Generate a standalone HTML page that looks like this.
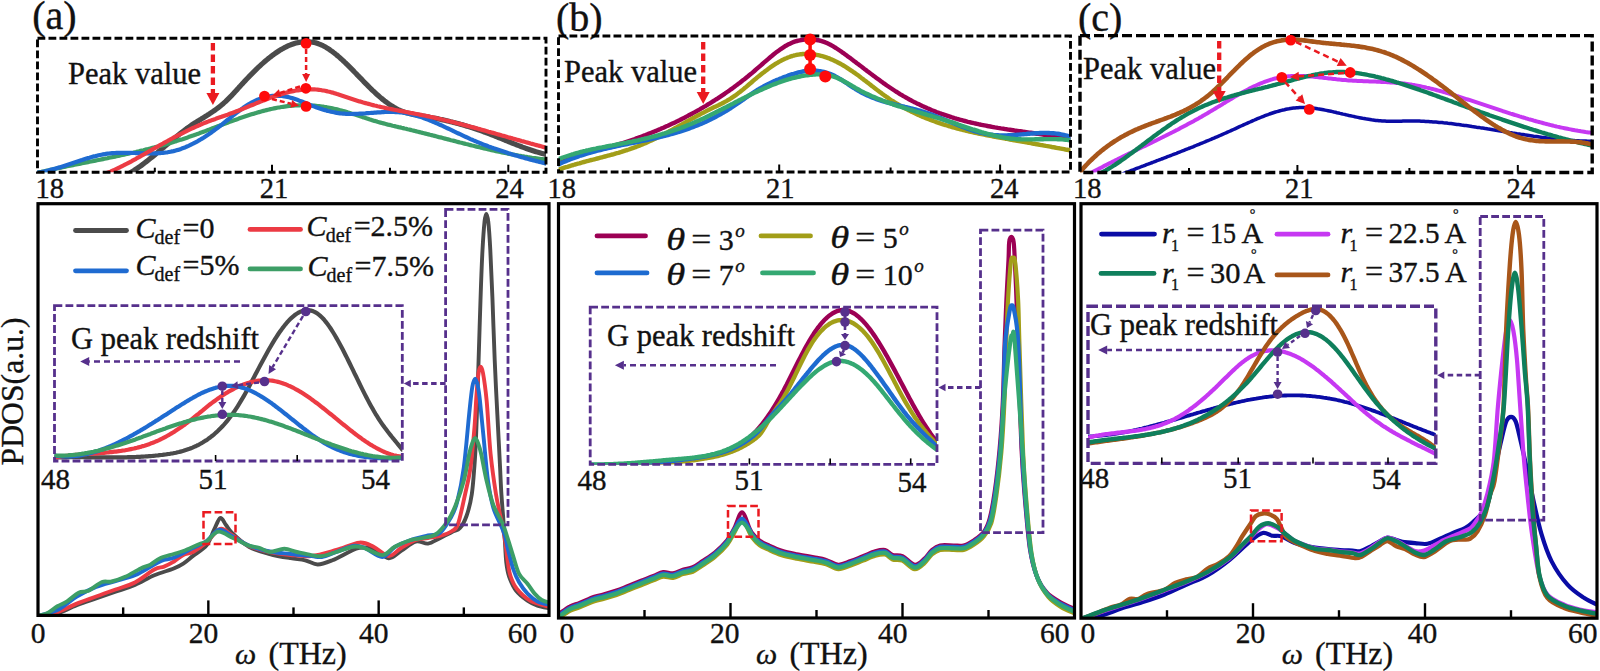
<!DOCTYPE html>
<html><head><meta charset="utf-8"><title>PDOS figure</title>
<style>
html,body{margin:0;padding:0;background:#fff;}
body{width:1600px;height:671px;overflow:hidden;}
svg{display:block;}
text{font-family:"Liberation Serif","Times New Roman",serif;fill:#111;stroke:#111;stroke-width:0.35px;}
</style></head><body>
<svg width="1600" height="671" viewBox="0 0 1600 671">
<rect width="1600" height="671" fill="#fff"/>
<defs>
<clipPath id="ta"><rect x="37" y="38.5" width="509" height="133.7"/></clipPath>
<clipPath id="tb"><rect x="558.5" y="36" width="512.0" height="136"/></clipPath>
<clipPath id="tc"><rect x="1080" y="35.6" width="512.2" height="136.9"/></clipPath>
<clipPath id="ia"><rect x="54.5" y="305.7" width="347.8" height="155.3"/></clipPath>
<clipPath id="ib"><rect x="590.2" y="307.1" width="346.79999999999995" height="157.29999999999995"/></clipPath>
<clipPath id="ic"><rect x="1088" y="306.3" width="347.79999999999995" height="157.09999999999997"/></clipPath>
<clipPath id="ma"><rect x="38" y="203.7" width="511" height="411.7"/></clipPath>
<clipPath id="mb"><rect x="558.5" y="203.7" width="516.0" height="414.3"/></clipPath>
<clipPath id="mc"><rect x="1081" y="203.7" width="516" height="414.50000000000006"/></clipPath>
</defs>
<text x="32.3" y="29" font-size="40" text-anchor="start">(a)</text>
<text x="556" y="31" font-size="40" text-anchor="start">(b)</text>
<text x="1078" y="31" font-size="40" text-anchor="start">(c)</text>
<path d="M125.0,175.7 L126.5,174.9 L128.0,174.1 L129.5,173.2 L131.0,172.3 L132.5,171.4 L134.0,170.5 L135.5,169.5 L137.0,168.5 L138.5,167.4 L140.0,166.4 L141.5,165.3 L143.0,164.2 L144.5,163.0 L146.0,161.9 L147.5,160.7 L149.0,159.5 L150.5,158.3 L152.0,157.1 L153.5,155.9 L155.0,154.7 L156.5,153.4 L158.0,152.1 L159.5,150.9 L161.0,149.6 L162.5,148.3 L164.0,147.1 L165.5,145.8 L167.0,144.5 L168.5,143.2 L170.0,142.0 L171.5,140.7 L173.0,139.4 L174.5,138.2 L176.0,137.0 L177.5,135.7 L179.0,134.5 L180.5,133.3 L182.0,132.2 L183.5,131.0 L185.0,129.9 L186.5,128.7 L188.0,127.6 L189.5,126.6 L191.0,125.5 L192.5,124.5 L194.0,123.5 L195.5,122.6 L197.0,121.6 L198.5,120.7 L200.0,119.8 L201.5,118.8 L203.0,117.9 L204.5,117.0 L206.0,116.1 L207.5,115.1 L209.0,114.2 L210.5,113.2 L212.0,112.2 L213.5,111.2 L215.0,110.1 L216.5,109.0 L218.0,107.9 L219.5,106.7 L221.0,105.5 L222.5,104.3 L224.0,102.9 L225.5,101.6 L227.0,100.1 L228.5,98.6 L230.0,97.1 L231.5,95.6 L233.0,94.0 L234.5,92.4 L236.0,90.7 L237.5,89.1 L239.0,87.4 L240.5,85.8 L242.0,84.1 L243.5,82.5 L245.0,80.9 L246.5,79.3 L248.0,77.7 L249.5,76.1 L251.0,74.6 L252.5,73.1 L254.0,71.6 L255.5,70.1 L257.0,68.6 L258.5,67.2 L260.0,65.8 L261.5,64.4 L263.0,63.1 L264.5,61.8 L266.0,60.5 L267.5,59.3 L269.0,58.0 L270.5,56.9 L272.0,55.7 L273.5,54.6 L275.0,53.5 L276.5,52.5 L278.0,51.5 L279.5,50.5 L281.0,49.6 L282.5,48.8 L284.0,47.9 L285.5,47.2 L287.0,46.4 L288.5,45.7 L290.0,45.1 L291.5,44.5 L293.0,44.0 L294.5,43.5 L296.0,43.1 L297.5,42.7 L299.0,42.4 L300.5,42.1 L302.0,41.9 L303.5,41.8 L305.0,41.7 L306.5,41.7 L308.0,41.7 L309.5,41.8 L311.0,42.0 L312.5,42.2 L314.0,42.5 L315.5,42.8 L317.0,43.3 L318.5,43.8 L320.0,44.4 L321.5,45.0 L323.0,45.7 L324.5,46.5 L326.0,47.3 L327.5,48.3 L329.0,49.2 L330.5,50.3 L332.0,51.3 L333.5,52.5 L335.0,53.6 L336.5,54.9 L338.0,56.1 L339.5,57.4 L341.0,58.8 L342.5,60.1 L344.0,61.5 L345.5,63.0 L347.0,64.4 L348.5,65.9 L350.0,67.4 L351.5,68.9 L353.0,70.4 L354.5,72.0 L356.0,73.5 L357.5,75.1 L359.0,76.6 L360.5,78.2 L362.0,79.7 L363.5,81.3 L365.0,82.8 L366.5,84.3 L368.0,85.9 L369.5,87.4 L371.0,88.8 L372.5,90.3 L374.0,91.7 L375.5,93.1 L377.0,94.5 L378.5,95.8 L380.0,97.1 L381.5,98.4 L383.0,99.6 L384.5,100.8 L386.0,101.9 L387.5,103.0 L389.0,104.1 L390.5,105.1 L392.0,106.1 L393.5,107.0 L395.0,107.9 L396.5,108.7 L398.0,109.5 L399.5,110.2 L401.0,110.8 L402.5,111.4 L404.0,112.0 L405.5,112.5 L407.0,112.9 L408.5,113.3 L410.0,113.7 L411.5,114.0 L413.0,114.4 L414.5,114.7 L416.0,114.9 L417.5,115.2 L419.0,115.4 L420.5,115.7 L422.0,115.9 L423.5,116.2 L425.0,116.4 L426.5,116.7 L428.0,116.9 L429.5,117.2 L431.0,117.5 L432.5,117.8 L434.0,118.0 L435.5,118.3 L437.0,118.6 L438.5,118.9 L440.0,119.3 L441.5,119.6 L443.0,119.9 L444.5,120.2 L446.0,120.6 L447.5,120.9 L449.0,121.3 L450.5,121.7 L452.0,122.0 L453.5,122.4 L455.0,122.8 L456.5,123.2 L458.0,123.6 L459.5,124.0 L461.0,124.4 L462.5,124.8 L464.0,125.3 L465.5,125.7 L467.0,126.2 L468.5,126.6 L470.0,127.1 L471.5,127.6 L473.0,128.0 L474.5,128.5 L476.0,129.0 L477.5,129.5 L479.0,130.1 L480.5,130.6 L482.0,131.1 L483.5,131.7 L485.0,132.2 L486.5,132.8 L488.0,133.3 L489.5,133.9 L491.0,134.5 L492.5,135.1 L494.0,135.7 L495.5,136.3 L497.0,136.9 L498.5,137.5 L500.0,138.1 L501.5,138.7 L503.0,139.3 L504.5,139.9 L506.0,140.6 L507.5,141.2 L509.0,141.8 L510.5,142.4 L512.0,143.0 L513.5,143.6 L515.0,144.2 L516.5,144.8 L518.0,145.4 L519.5,145.9 L521.0,146.5 L522.5,147.1 L524.0,147.6 L525.5,148.2 L527.0,148.7 L528.5,149.2 L530.0,149.7 L531.5,150.2 L533.0,150.7 L534.5,151.2 L536.0,151.7 L537.5,152.1 L539.0,152.6 L540.5,153.0 L542.0,153.4 L543.5,153.8 L545.0,154.1 L546.5,154.5 L548.0,154.8" fill="none" stroke="#4b4b4b" stroke-width="5.2" stroke-linejoin="round" stroke-linecap="round" clip-path="url(#ta)"/>
<path d="M37.0,172.9 L38.5,172.6 L40.0,172.2 L41.5,171.9 L43.0,171.5 L44.5,171.2 L46.0,170.8 L47.5,170.5 L49.0,170.2 L50.5,169.8 L52.0,169.5 L53.5,169.2 L55.0,168.9 L56.5,168.5 L58.0,168.2 L59.5,167.9 L61.0,167.6 L62.5,167.3 L64.0,167.0 L65.5,166.6 L67.0,166.3 L68.5,166.0 L70.0,165.7 L71.5,165.4 L73.0,165.1 L74.5,164.8 L76.0,164.5 L77.5,164.2 L79.0,163.9 L80.5,163.6 L82.0,163.3 L83.5,163.0 L85.0,162.7 L86.5,162.4 L88.0,162.1 L89.5,161.8 L91.0,161.5 L92.5,161.2 L94.0,160.9 L95.5,160.6 L97.0,160.3 L98.5,160.0 L100.0,159.7 L101.5,159.4 L103.0,159.1 L104.5,158.8 L106.0,158.5 L107.5,158.2 L109.0,157.8 L110.5,157.5 L112.0,157.2 L113.5,156.9 L115.0,156.6 L116.5,156.3 L118.0,156.0 L119.5,155.6 L121.0,155.3 L122.5,155.0 L124.0,154.7 L125.5,154.3 L127.0,154.0 L128.5,153.7 L130.0,153.3 L131.5,153.0 L133.0,152.7 L134.5,152.3 L136.0,152.0 L137.5,151.6 L139.0,151.3 L140.5,150.9 L142.0,150.5 L143.5,150.2 L145.0,149.8 L146.5,149.4 L148.0,149.1 L149.5,148.7 L151.0,148.3 L152.5,147.9 L154.0,147.5 L155.5,147.1 L157.0,146.7 L158.5,146.3 L160.0,145.9 L161.5,145.5 L163.0,145.1 L164.5,144.7 L166.0,144.2 L167.5,143.8 L169.0,143.4 L170.5,142.9 L172.0,142.5 L173.5,142.0 L175.0,141.5 L176.5,141.1 L178.0,140.6 L179.5,140.1 L181.0,139.6 L182.5,139.2 L184.0,138.7 L185.5,138.2 L187.0,137.7 L188.5,137.1 L190.0,136.6 L191.5,136.1 L193.0,135.6 L194.5,135.0 L196.0,134.5 L197.5,133.9 L199.0,133.4 L200.5,132.8 L202.0,132.3 L203.5,131.7 L205.0,131.2 L206.5,130.6 L208.0,130.0 L209.5,129.5 L211.0,128.9 L212.5,128.3 L214.0,127.8 L215.5,127.2 L217.0,126.6 L218.5,126.1 L220.0,125.5 L221.5,124.9 L223.0,124.4 L224.5,123.8 L226.0,123.2 L227.5,122.7 L229.0,122.1 L230.5,121.6 L232.0,121.0 L233.5,120.5 L235.0,119.9 L236.5,119.4 L238.0,118.9 L239.5,118.3 L241.0,117.8 L242.5,117.3 L244.0,116.8 L245.5,116.3 L247.0,115.8 L248.5,115.3 L250.0,114.8 L251.5,114.3 L253.0,113.9 L254.5,113.4 L256.0,113.0 L257.5,112.5 L259.0,112.1 L260.5,111.7 L262.0,111.3 L263.5,110.9 L265.0,110.5 L266.5,110.1 L268.0,109.7 L269.5,109.4 L271.0,109.0 L272.5,108.7 L274.0,108.4 L275.5,108.1 L277.0,107.8 L278.5,107.5 L280.0,107.3 L281.5,107.0 L283.0,106.8 L284.5,106.6 L286.0,106.4 L287.5,106.2 L289.0,106.0 L290.5,105.8 L292.0,105.7 L293.5,105.6 L295.0,105.5 L296.5,105.4 L298.0,105.3 L299.5,105.3 L301.0,105.2 L302.5,105.2 L304.0,105.2 L305.5,105.2 L307.0,105.3 L308.5,105.3 L310.0,105.4 L311.5,105.5 L313.0,105.6 L314.5,105.7 L316.0,105.8 L317.5,106.0 L319.0,106.1 L320.5,106.3 L322.0,106.5 L323.5,106.7 L325.0,107.0 L326.5,107.2 L328.0,107.5 L329.5,107.8 L331.0,108.1 L332.5,108.4 L334.0,108.7 L335.5,109.0 L337.0,109.4 L338.5,109.8 L340.0,110.2 L341.5,110.6 L343.0,111.0 L344.5,111.4 L346.0,111.8 L347.5,112.3 L349.0,112.7 L350.5,113.2 L352.0,113.7 L353.5,114.1 L355.0,114.6 L356.5,115.1 L358.0,115.6 L359.5,116.1 L361.0,116.6 L362.5,117.1 L364.0,117.5 L365.5,118.0 L367.0,118.5 L368.5,119.0 L370.0,119.5 L371.5,119.9 L373.0,120.4 L374.5,120.9 L376.0,121.3 L377.5,121.8 L379.0,122.2 L380.5,122.6 L382.0,123.0 L383.5,123.4 L385.0,123.8 L386.5,124.2 L388.0,124.6 L389.5,124.9 L391.0,125.3 L392.5,125.7 L394.0,126.0 L395.5,126.4 L397.0,126.7 L398.5,127.1 L400.0,127.4 L401.5,127.8 L403.0,128.1 L404.5,128.5 L406.0,128.8 L407.5,129.2 L409.0,129.5 L410.5,129.9 L412.0,130.3 L413.5,130.6 L415.0,131.0 L416.5,131.4 L418.0,131.7 L419.5,132.1 L421.0,132.5 L422.5,132.9 L424.0,133.2 L425.5,133.6 L427.0,134.0 L428.5,134.4 L430.0,134.8 L431.5,135.1 L433.0,135.5 L434.5,135.9 L436.0,136.3 L437.5,136.7 L439.0,137.1 L440.5,137.4 L442.0,137.8 L443.5,138.2 L445.0,138.6 L446.5,139.0 L448.0,139.4 L449.5,139.8 L451.0,140.2 L452.5,140.5 L454.0,140.9 L455.5,141.3 L457.0,141.7 L458.5,142.1 L460.0,142.5 L461.5,142.8 L463.0,143.2 L464.5,143.6 L466.0,144.0 L467.5,144.3 L469.0,144.7 L470.5,145.1 L472.0,145.5 L473.5,145.8 L475.0,146.2 L476.5,146.6 L478.0,146.9 L479.5,147.3 L481.0,147.6 L482.5,148.0 L484.0,148.4 L485.5,148.7 L487.0,149.0 L488.5,149.4 L490.0,149.7 L491.5,150.1 L493.0,150.4 L494.5,150.7 L496.0,151.1 L497.5,151.4 L499.0,151.7 L500.5,152.0 L502.0,152.4 L503.5,152.7 L505.0,153.0 L506.5,153.3 L508.0,153.6 L509.5,153.9 L511.0,154.2 L512.5,154.5 L514.0,154.7 L515.5,155.0 L517.0,155.3 L518.5,155.6 L520.0,155.8 L521.5,156.1 L523.0,156.3 L524.5,156.6 L526.0,156.8 L527.5,157.1 L529.0,157.3 L530.5,157.5 L532.0,157.8 L533.5,158.0 L535.0,158.2 L536.5,158.4 L538.0,158.6 L539.5,158.8 L541.0,159.0 L542.5,159.1 L544.0,159.3 L545.5,159.5 L547.0,159.6 L548.0,159.7" fill="none" stroke="#3d9e66" stroke-width="4.2" stroke-linejoin="round" stroke-linecap="round" clip-path="url(#ta)"/>
<path d="M37.0,172.7 L38.5,172.5 L40.0,172.3 L41.5,172.0 L43.0,171.7 L44.5,171.4 L46.0,171.1 L47.5,170.7 L49.0,170.3 L50.5,169.9 L52.0,169.5 L53.5,169.1 L55.0,168.7 L56.5,168.3 L58.0,167.8 L59.5,167.4 L61.0,166.9 L62.5,166.4 L64.0,165.9 L65.5,165.4 L67.0,164.9 L68.5,164.4 L70.0,163.9 L71.5,163.4 L73.0,162.9 L74.5,162.4 L76.0,161.9 L77.5,161.4 L79.0,160.9 L80.5,160.4 L82.0,160.0 L83.5,159.5 L85.0,159.0 L86.5,158.5 L88.0,158.1 L89.5,157.7 L91.0,157.2 L92.5,156.8 L94.0,156.4 L95.5,156.1 L97.0,155.7 L98.5,155.3 L100.0,155.0 L101.5,154.7 L103.0,154.4 L104.5,154.2 L106.0,153.9 L107.5,153.7 L109.0,153.5 L110.5,153.3 L112.0,153.2 L113.5,153.1 L115.0,153.0 L116.5,152.9 L118.0,152.9 L119.5,152.8 L121.0,152.8 L122.5,152.8 L124.0,152.8 L125.5,152.8 L127.0,152.8 L128.5,152.8 L130.0,152.9 L131.5,152.9 L133.0,153.0 L134.5,153.0 L136.0,153.1 L137.5,153.1 L139.0,153.2 L140.5,153.2 L142.0,153.3 L143.5,153.3 L145.0,153.4 L146.5,153.4 L148.0,153.4 L149.5,153.4 L151.0,153.4 L152.5,153.4 L154.0,153.4 L155.5,153.3 L157.0,153.3 L158.5,153.2 L160.0,153.1 L161.5,153.0 L163.0,152.8 L164.5,152.7 L166.0,152.5 L167.5,152.3 L169.0,152.0 L170.5,151.7 L172.0,151.4 L173.5,151.1 L175.0,150.7 L176.5,150.3 L178.0,149.9 L179.5,149.4 L181.0,148.9 L182.5,148.3 L184.0,147.8 L185.5,147.2 L187.0,146.5 L188.5,145.9 L190.0,145.2 L191.5,144.4 L193.0,143.7 L194.5,142.9 L196.0,142.1 L197.5,141.3 L199.0,140.4 L200.5,139.5 L202.0,138.6 L203.5,137.7 L205.0,136.7 L206.5,135.7 L208.0,134.7 L209.5,133.7 L211.0,132.7 L212.5,131.6 L214.0,130.5 L215.5,129.4 L217.0,128.3 L218.5,127.2 L220.0,126.0 L221.5,124.8 L223.0,123.6 L224.5,122.4 L226.0,121.2 L227.5,120.0 L229.0,118.8 L230.5,117.6 L232.0,116.4 L233.5,115.2 L235.0,114.0 L236.5,112.9 L238.0,111.7 L239.5,110.6 L241.0,109.5 L242.5,108.4 L244.0,107.3 L245.5,106.3 L247.0,105.3 L248.5,104.4 L250.0,103.5 L251.5,102.6 L253.0,101.8 L254.5,101.1 L256.0,100.4 L257.5,99.7 L259.0,99.1 L260.5,98.5 L262.0,98.0 L263.5,97.6 L265.0,97.2 L266.5,96.8 L268.0,96.5 L269.5,96.3 L271.0,96.1 L272.5,95.9 L274.0,95.8 L275.5,95.8 L277.0,95.7 L278.5,95.8 L280.0,95.9 L281.5,96.0 L283.0,96.1 L284.5,96.4 L286.0,96.6 L287.5,96.9 L289.0,97.3 L290.5,97.7 L292.0,98.1 L293.5,98.6 L295.0,99.1 L296.5,99.6 L298.0,100.1 L299.5,100.7 L301.0,101.2 L302.5,101.8 L304.0,102.4 L305.5,103.0 L307.0,103.6 L308.5,104.3 L310.0,104.9 L311.5,105.5 L313.0,106.0 L314.5,106.6 L316.0,107.2 L317.5,107.7 L319.0,108.2 L320.5,108.7 L322.0,109.2 L323.5,109.7 L325.0,110.1 L326.5,110.6 L328.0,111.0 L329.5,111.3 L331.0,111.7 L332.5,112.0 L334.0,112.3 L335.5,112.6 L337.0,112.9 L338.5,113.1 L340.0,113.3 L341.5,113.5 L343.0,113.6 L344.5,113.7 L346.0,113.8 L347.5,113.9 L349.0,113.9 L350.5,114.0 L352.0,114.0 L353.5,113.9 L355.0,113.9 L356.5,113.9 L358.0,113.8 L359.5,113.7 L361.0,113.7 L362.5,113.6 L364.0,113.5 L365.5,113.4 L367.0,113.2 L368.5,113.1 L370.0,113.0 L371.5,112.9 L373.0,112.8 L374.5,112.7 L376.0,112.6 L377.5,112.4 L379.0,112.3 L380.5,112.3 L382.0,112.2 L383.5,112.1 L385.0,112.0 L386.5,112.0 L388.0,112.0 L389.5,111.9 L391.0,111.9 L392.5,112.0 L394.0,112.0 L395.5,112.1 L397.0,112.1 L398.5,112.2 L400.0,112.4 L401.5,112.5 L403.0,112.7 L404.5,113.0 L406.0,113.2 L407.5,113.5 L409.0,113.8 L410.5,114.1 L412.0,114.5 L413.5,114.9 L415.0,115.3 L416.5,115.7 L418.0,116.2 L419.5,116.6 L421.0,117.1 L422.5,117.6 L424.0,118.2 L425.5,118.7 L427.0,119.3 L428.5,119.9 L430.0,120.5 L431.5,121.1 L433.0,121.7 L434.5,122.3 L436.0,123.0 L437.5,123.6 L439.0,124.3 L440.5,125.0 L442.0,125.7 L443.5,126.4 L445.0,127.1 L446.5,127.8 L448.0,128.5 L449.5,129.2 L451.0,129.9 L452.5,130.6 L454.0,131.4 L455.5,132.1 L457.0,132.8 L458.5,133.5 L460.0,134.2 L461.5,134.9 L463.0,135.6 L464.5,136.3 L466.0,137.0 L467.5,137.7 L469.0,138.4 L470.5,139.1 L472.0,139.7 L473.5,140.4 L475.0,141.0 L476.5,141.6 L478.0,142.3 L479.5,142.9 L481.0,143.5 L482.5,144.1 L484.0,144.7 L485.5,145.2 L487.0,145.8 L488.5,146.4 L490.0,146.9 L491.5,147.5 L493.0,148.0 L494.5,148.6 L496.0,149.1 L497.5,149.6 L499.0,150.1 L500.5,150.6 L502.0,151.1 L503.5,151.6 L505.0,152.1 L506.5,152.6 L508.0,153.1 L509.5,153.5 L511.0,154.0 L512.5,154.5 L514.0,154.9 L515.5,155.4 L517.0,155.8 L518.5,156.2 L520.0,156.7 L521.5,157.1 L523.0,157.5 L524.5,157.9 L526.0,158.4 L527.5,158.8 L529.0,159.2 L530.5,159.6 L532.0,160.0 L533.5,160.4 L535.0,160.7 L536.5,161.1 L538.0,161.5 L539.5,161.9 L541.0,162.3 L542.5,162.6 L544.0,163.0 L545.5,163.4 L547.0,163.7 L548.0,164.0" fill="none" stroke="#1f6bd1" stroke-width="4.2" stroke-linejoin="round" stroke-linecap="round" clip-path="url(#ta)"/>
<path d="M100.0,175.6 L101.5,175.1 L103.0,174.6 L104.5,174.0 L106.0,173.4 L107.5,172.8 L109.0,172.2 L110.5,171.6 L112.0,170.9 L113.5,170.3 L115.0,169.6 L116.5,168.9 L118.0,168.2 L119.5,167.5 L121.0,166.7 L122.5,166.0 L124.0,165.2 L125.5,164.4 L127.0,163.7 L128.5,162.9 L130.0,162.1 L131.5,161.3 L133.0,160.4 L134.5,159.6 L136.0,158.8 L137.5,157.9 L139.0,157.1 L140.5,156.3 L142.0,155.4 L143.5,154.6 L145.0,153.7 L146.5,152.8 L148.0,152.0 L149.5,151.1 L151.0,150.3 L152.5,149.4 L154.0,148.5 L155.5,147.7 L157.0,146.8 L158.5,146.0 L160.0,145.1 L161.5,144.3 L163.0,143.5 L164.5,142.6 L166.0,141.8 L167.5,141.0 L169.0,140.2 L170.5,139.3 L172.0,138.5 L173.5,137.7 L175.0,136.9 L176.5,136.2 L178.0,135.4 L179.5,134.6 L181.0,133.8 L182.5,133.1 L184.0,132.3 L185.5,131.6 L187.0,130.8 L188.5,130.1 L190.0,129.4 L191.5,128.7 L193.0,128.0 L194.5,127.3 L196.0,126.6 L197.5,126.0 L199.0,125.3 L200.5,124.7 L202.0,124.0 L203.5,123.4 L205.0,122.8 L206.5,122.2 L208.0,121.6 L209.5,121.0 L211.0,120.5 L212.5,119.9 L214.0,119.4 L215.5,118.9 L217.0,118.3 L218.5,117.8 L220.0,117.3 L221.5,116.8 L223.0,116.2 L224.5,115.7 L226.0,115.2 L227.5,114.7 L229.0,114.1 L230.5,113.6 L232.0,113.1 L233.5,112.5 L235.0,111.9 L236.5,111.3 L238.0,110.8 L239.5,110.2 L241.0,109.6 L242.5,109.0 L244.0,108.4 L245.5,107.7 L247.0,107.1 L248.5,106.5 L250.0,105.9 L251.5,105.3 L253.0,104.7 L254.5,104.1 L256.0,103.4 L257.5,102.8 L259.0,102.2 L260.5,101.6 L262.0,101.0 L263.5,100.4 L265.0,99.9 L266.5,99.3 L268.0,98.7 L269.5,98.1 L271.0,97.6 L272.5,97.1 L274.0,96.5 L275.5,96.0 L277.0,95.5 L278.5,95.0 L280.0,94.5 L281.5,94.1 L283.0,93.6 L284.5,93.2 L286.0,92.8 L287.5,92.4 L289.0,92.0 L290.5,91.7 L292.0,91.4 L293.5,91.1 L295.0,90.8 L296.5,90.5 L298.0,90.3 L299.5,90.1 L301.0,89.9 L302.5,89.7 L304.0,89.6 L305.5,89.4 L307.0,89.4 L308.5,89.3 L310.0,89.3 L311.5,89.3 L313.0,89.3 L314.5,89.4 L316.0,89.5 L317.5,89.6 L319.0,89.8 L320.5,90.0 L322.0,90.3 L323.5,90.5 L325.0,90.8 L326.5,91.1 L328.0,91.5 L329.5,91.8 L331.0,92.2 L332.5,92.6 L334.0,93.1 L335.5,93.5 L337.0,94.0 L338.5,94.4 L340.0,94.9 L341.5,95.4 L343.0,95.9 L344.5,96.4 L346.0,96.9 L347.5,97.4 L349.0,97.9 L350.5,98.4 L352.0,98.9 L353.5,99.4 L355.0,99.9 L356.5,100.4 L358.0,100.9 L359.5,101.4 L361.0,101.8 L362.5,102.3 L364.0,102.7 L365.5,103.1 L367.0,103.5 L368.5,103.9 L370.0,104.3 L371.5,104.7 L373.0,105.1 L374.5,105.5 L376.0,105.8 L377.5,106.2 L379.0,106.5 L380.5,106.9 L382.0,107.2 L383.5,107.5 L385.0,107.9 L386.5,108.2 L388.0,108.5 L389.5,108.8 L391.0,109.1 L392.5,109.4 L394.0,109.7 L395.5,110.0 L397.0,110.3 L398.5,110.6 L400.0,110.9 L401.5,111.2 L403.0,111.4 L404.5,111.7 L406.0,112.0 L407.5,112.3 L409.0,112.6 L410.5,112.9 L412.0,113.1 L413.5,113.4 L415.0,113.7 L416.5,114.0 L418.0,114.3 L419.5,114.6 L421.0,114.9 L422.5,115.2 L424.0,115.5 L425.5,115.8 L427.0,116.1 L428.5,116.4 L430.0,116.8 L431.5,117.1 L433.0,117.4 L434.5,117.7 L436.0,118.1 L437.5,118.4 L439.0,118.8 L440.5,119.1 L442.0,119.5 L443.5,119.8 L445.0,120.2 L446.5,120.5 L448.0,120.9 L449.5,121.3 L451.0,121.6 L452.5,122.0 L454.0,122.4 L455.5,122.8 L457.0,123.2 L458.5,123.5 L460.0,123.9 L461.5,124.3 L463.0,124.7 L464.5,125.1 L466.0,125.5 L467.5,125.9 L469.0,126.3 L470.5,126.7 L472.0,127.1 L473.5,127.5 L475.0,127.9 L476.5,128.3 L478.0,128.7 L479.5,129.1 L481.0,129.6 L482.5,130.0 L484.0,130.4 L485.5,130.8 L487.0,131.2 L488.5,131.7 L490.0,132.1 L491.5,132.5 L493.0,132.9 L494.5,133.3 L496.0,133.8 L497.5,134.2 L499.0,134.6 L500.5,135.0 L502.0,135.5 L503.5,135.9 L505.0,136.3 L506.5,136.7 L508.0,137.2 L509.5,137.6 L511.0,138.0 L512.5,138.4 L514.0,138.9 L515.5,139.3 L517.0,139.7 L518.5,140.1 L520.0,140.5 L521.5,141.0 L523.0,141.4 L524.5,141.8 L526.0,142.2 L527.5,142.6 L529.0,143.0 L530.5,143.5 L532.0,143.9 L533.5,144.3 L535.0,144.7 L536.5,145.1 L538.0,145.5 L539.5,145.9 L541.0,146.3 L542.5,146.7 L544.0,147.1 L545.5,147.5 L547.0,147.9 L548.0,148.2" fill="none" stroke="#ec3b44" stroke-width="4.2" stroke-linejoin="round" stroke-linecap="round" clip-path="url(#ta)"/>
<path d="M558.4,161.9 L559.9,161.0 L561.4,160.2 L562.9,159.4 L564.4,158.7 L565.9,158.0 L567.4,157.3 L568.9,156.7 L570.4,156.1 L571.9,155.6 L573.4,155.1 L574.9,154.6 L576.4,154.2 L577.9,153.7 L579.4,153.4 L580.9,153.0 L582.4,152.6 L583.9,152.3 L585.4,152.0 L586.9,151.7 L588.4,151.4 L589.9,151.1 L591.4,150.8 L592.9,150.5 L594.4,150.2 L595.9,149.9 L597.4,149.6 L598.9,149.3 L600.4,149.0 L601.9,148.7 L603.4,148.3 L604.9,148.0 L606.4,147.6 L607.9,147.3 L609.4,146.9 L610.9,146.5 L612.4,146.1 L613.9,145.7 L615.4,145.2 L616.9,144.8 L618.4,144.4 L619.9,143.9 L621.4,143.5 L622.9,143.0 L624.4,142.5 L625.9,142.0 L627.4,141.5 L628.9,141.0 L630.4,140.5 L631.9,140.0 L633.4,139.5 L634.9,139.0 L636.4,138.4 L637.9,137.9 L639.4,137.3 L640.9,136.8 L642.4,136.2 L643.9,135.6 L645.4,135.1 L646.9,134.5 L648.4,133.9 L649.9,133.3 L651.4,132.7 L652.9,132.1 L654.4,131.5 L655.9,130.9 L657.4,130.2 L658.9,129.6 L660.4,129.0 L661.9,128.3 L663.4,127.7 L664.9,127.0 L666.4,126.3 L667.9,125.7 L669.4,125.0 L670.9,124.3 L672.4,123.6 L673.9,122.9 L675.4,122.2 L676.9,121.4 L678.4,120.7 L679.9,120.0 L681.4,119.2 L682.9,118.4 L684.4,117.7 L685.9,116.9 L687.4,116.1 L688.9,115.3 L690.4,114.5 L691.9,113.7 L693.4,112.9 L694.9,112.1 L696.4,111.3 L697.9,110.4 L699.4,109.6 L700.9,108.7 L702.4,107.8 L703.9,106.9 L705.4,106.1 L706.9,105.2 L708.4,104.2 L709.9,103.3 L711.4,102.4 L712.9,101.4 L714.4,100.5 L715.9,99.5 L717.4,98.6 L718.9,97.6 L720.4,96.6 L721.9,95.6 L723.4,94.6 L724.9,93.6 L726.4,92.5 L727.9,91.5 L729.4,90.4 L730.9,89.3 L732.4,88.3 L733.9,87.2 L735.4,86.1 L736.9,84.9 L738.4,83.8 L739.9,82.7 L741.4,81.5 L742.9,80.3 L744.4,79.2 L745.9,78.0 L747.4,76.8 L748.9,75.5 L750.4,74.3 L751.9,73.1 L753.4,71.8 L754.9,70.5 L756.4,69.2 L757.9,67.9 L759.4,66.6 L760.9,65.3 L762.4,64.0 L763.9,62.7 L765.4,61.4 L766.9,60.1 L768.4,58.8 L769.9,57.5 L771.4,56.3 L772.9,55.0 L774.4,53.8 L775.9,52.6 L777.4,51.5 L778.9,50.4 L780.4,49.3 L781.9,48.3 L783.4,47.3 L784.9,46.3 L786.4,45.5 L787.9,44.6 L789.4,43.9 L790.9,43.2 L792.4,42.5 L793.9,41.9 L795.4,41.4 L796.9,41.0 L798.4,40.6 L799.9,40.3 L801.4,40.0 L802.9,39.8 L804.4,39.6 L805.9,39.5 L807.4,39.4 L808.9,39.4 L810.4,39.4 L811.9,39.5 L813.4,39.6 L814.9,39.8 L816.4,40.0 L817.9,40.2 L819.4,40.5 L820.9,40.9 L822.4,41.4 L823.9,41.9 L825.4,42.4 L826.9,43.1 L828.4,43.8 L829.9,44.5 L831.4,45.3 L832.9,46.2 L834.4,47.1 L835.9,48.0 L837.4,49.0 L838.9,50.0 L840.4,51.0 L841.9,52.1 L843.4,53.1 L844.9,54.2 L846.4,55.3 L847.9,56.4 L849.4,57.5 L850.9,58.6 L852.4,59.8 L853.9,60.9 L855.4,62.0 L856.9,63.2 L858.4,64.3 L859.9,65.4 L861.4,66.6 L862.9,67.7 L864.4,68.9 L865.9,70.0 L867.4,71.2 L868.9,72.3 L870.4,73.4 L871.9,74.6 L873.4,75.7 L874.9,76.8 L876.4,77.9 L877.9,79.0 L879.4,80.1 L880.9,81.2 L882.4,82.3 L883.9,83.4 L885.4,84.4 L886.9,85.5 L888.4,86.5 L889.9,87.5 L891.4,88.5 L892.9,89.5 L894.4,90.5 L895.9,91.5 L897.4,92.4 L898.9,93.3 L900.4,94.3 L901.9,95.2 L903.4,96.1 L904.9,96.9 L906.4,97.8 L907.9,98.6 L909.4,99.5 L910.9,100.3 L912.4,101.1 L913.9,101.9 L915.4,102.6 L916.9,103.4 L918.4,104.1 L919.9,104.8 L921.4,105.6 L922.9,106.3 L924.4,106.9 L925.9,107.6 L927.4,108.3 L928.9,108.9 L930.4,109.5 L931.9,110.2 L933.4,110.8 L934.9,111.4 L936.4,112.0 L937.9,112.5 L939.4,113.1 L940.9,113.6 L942.4,114.2 L943.9,114.7 L945.4,115.2 L946.9,115.7 L948.4,116.2 L949.9,116.7 L951.4,117.2 L952.9,117.6 L954.4,118.1 L955.9,118.5 L957.4,119.0 L958.9,119.4 L960.4,119.8 L961.9,120.2 L963.4,120.6 L964.9,121.0 L966.4,121.4 L967.9,121.8 L969.4,122.1 L970.9,122.5 L972.4,122.8 L973.9,123.2 L975.4,123.5 L976.9,123.8 L978.4,124.2 L979.9,124.5 L981.4,124.8 L982.9,125.1 L984.4,125.4 L985.9,125.7 L987.4,126.0 L988.9,126.3 L990.4,126.5 L991.9,126.8 L993.4,127.1 L994.9,127.4 L996.4,127.6 L997.9,127.9 L999.4,128.1 L1000.9,128.4 L1002.4,128.6 L1003.9,128.8 L1005.4,129.1 L1006.9,129.3 L1008.4,129.6 L1009.9,129.8 L1011.4,130.0 L1012.9,130.2 L1014.4,130.5 L1015.9,130.7 L1017.4,130.9 L1018.9,131.1 L1020.4,131.3 L1021.9,131.5 L1023.4,131.8 L1024.9,132.0 L1026.4,132.2 L1027.9,132.4 L1029.4,132.6 L1030.9,132.8 L1032.4,133.0 L1033.9,133.2 L1035.4,133.5 L1036.9,133.7 L1038.4,133.9 L1039.9,134.1 L1041.4,134.3 L1042.9,134.5 L1044.4,134.8 L1045.9,135.0 L1047.4,135.2 L1048.9,135.4 L1050.4,135.7 L1051.9,135.9 L1053.4,136.1 L1054.9,136.4 L1056.4,136.6 L1057.9,136.9 L1059.4,137.1 L1060.9,137.4 L1062.4,137.6 L1063.9,137.9 L1065.4,138.2 L1066.9,138.4 L1068.4,138.7 L1069.9,139.0 L1071.4,139.3 L1072.0,139.4" fill="none" stroke="#9c0054" stroke-width="4.4" stroke-linejoin="round" stroke-linecap="round" clip-path="url(#tb)"/>
<path d="M558.4,169.8 L559.9,169.2 L561.4,168.7 L562.9,168.2 L564.4,167.7 L565.9,167.2 L567.4,166.8 L568.9,166.3 L570.4,165.8 L571.9,165.4 L573.4,165.0 L574.9,164.5 L576.4,164.1 L577.9,163.7 L579.4,163.3 L580.9,162.8 L582.4,162.4 L583.9,162.0 L585.4,161.6 L586.9,161.2 L588.4,160.8 L589.9,160.4 L591.4,160.0 L592.9,159.7 L594.4,159.3 L595.9,158.9 L597.4,158.5 L598.9,158.1 L600.4,157.7 L601.9,157.3 L603.4,156.9 L604.9,156.5 L606.4,156.1 L607.9,155.7 L609.4,155.3 L610.9,154.9 L612.4,154.5 L613.9,154.1 L615.4,153.6 L616.9,153.2 L618.4,152.8 L619.9,152.3 L621.4,151.9 L622.9,151.4 L624.4,150.9 L625.9,150.4 L627.4,150.0 L628.9,149.5 L630.4,148.9 L631.9,148.4 L633.4,147.9 L634.9,147.3 L636.4,146.8 L637.9,146.2 L639.4,145.6 L640.9,145.0 L642.4,144.4 L643.9,143.8 L645.4,143.2 L646.9,142.5 L648.4,141.8 L649.9,141.1 L651.4,140.4 L652.9,139.7 L654.4,139.0 L655.9,138.3 L657.4,137.5 L658.9,136.8 L660.4,136.0 L661.9,135.2 L663.4,134.5 L664.9,133.7 L666.4,132.9 L667.9,132.1 L669.4,131.3 L670.9,130.5 L672.4,129.6 L673.9,128.8 L675.4,128.0 L676.9,127.2 L678.4,126.3 L679.9,125.5 L681.4,124.7 L682.9,123.8 L684.4,123.0 L685.9,122.1 L687.4,121.3 L688.9,120.5 L690.4,119.6 L691.9,118.8 L693.4,118.0 L694.9,117.2 L696.4,116.3 L697.9,115.5 L699.4,114.7 L700.9,113.9 L702.4,113.1 L703.9,112.4 L705.4,111.6 L706.9,110.8 L708.4,110.1 L709.9,109.3 L711.4,108.6 L712.9,107.8 L714.4,107.1 L715.9,106.4 L717.4,105.7 L718.9,105.0 L720.4,104.2 L721.9,103.5 L723.4,102.7 L724.9,101.9 L726.4,101.1 L727.9,100.2 L729.4,99.3 L730.9,98.4 L732.4,97.4 L733.9,96.4 L735.4,95.4 L736.9,94.3 L738.4,93.1 L739.9,92.0 L741.4,90.8 L742.9,89.6 L744.4,88.3 L745.9,87.1 L747.4,85.8 L748.9,84.5 L750.4,83.3 L751.9,82.0 L753.4,80.7 L754.9,79.4 L756.4,78.2 L757.9,76.9 L759.4,75.7 L760.9,74.5 L762.4,73.3 L763.9,72.2 L765.4,71.0 L766.9,69.9 L768.4,68.8 L769.9,67.7 L771.4,66.7 L772.9,65.7 L774.4,64.7 L775.9,63.7 L777.4,62.8 L778.9,61.9 L780.4,61.1 L781.9,60.3 L783.4,59.6 L784.9,58.8 L786.4,58.2 L787.9,57.5 L789.4,57.0 L790.9,56.4 L792.4,56.0 L793.9,55.5 L795.4,55.2 L796.9,54.8 L798.4,54.6 L799.9,54.3 L801.4,54.2 L802.9,54.0 L804.4,53.9 L805.9,53.9 L807.4,53.9 L808.9,53.9 L810.4,54.0 L811.9,54.2 L813.4,54.3 L814.9,54.5 L816.4,54.8 L817.9,55.1 L819.4,55.4 L820.9,55.8 L822.4,56.2 L823.9,56.6 L825.4,57.1 L826.9,57.6 L828.4,58.2 L829.9,58.7 L831.4,59.4 L832.9,60.0 L834.4,60.7 L835.9,61.4 L837.4,62.2 L838.9,63.0 L840.4,63.8 L841.9,64.6 L843.4,65.5 L844.9,66.4 L846.4,67.3 L847.9,68.3 L849.4,69.3 L850.9,70.3 L852.4,71.3 L853.9,72.4 L855.4,73.4 L856.9,74.5 L858.4,75.6 L859.9,76.7 L861.4,77.9 L862.9,79.0 L864.4,80.2 L865.9,81.3 L867.4,82.5 L868.9,83.6 L870.4,84.8 L871.9,86.0 L873.4,87.1 L874.9,88.3 L876.4,89.4 L877.9,90.6 L879.4,91.7 L880.9,92.8 L882.4,94.0 L883.9,95.1 L885.4,96.1 L886.9,97.2 L888.4,98.2 L889.9,99.3 L891.4,100.3 L892.9,101.2 L894.4,102.2 L895.9,103.1 L897.4,104.0 L898.9,104.9 L900.4,105.8 L901.9,106.7 L903.4,107.5 L904.9,108.3 L906.4,109.1 L907.9,109.9 L909.4,110.6 L910.9,111.4 L912.4,112.1 L913.9,112.8 L915.4,113.5 L916.9,114.2 L918.4,114.9 L919.9,115.6 L921.4,116.2 L922.9,116.9 L924.4,117.5 L925.9,118.1 L927.4,118.7 L928.9,119.3 L930.4,119.9 L931.9,120.4 L933.4,121.0 L934.9,121.5 L936.4,122.1 L937.9,122.6 L939.4,123.1 L940.9,123.6 L942.4,124.1 L943.9,124.6 L945.4,125.0 L946.9,125.5 L948.4,126.0 L949.9,126.4 L951.4,126.8 L952.9,127.3 L954.4,127.7 L955.9,128.1 L957.4,128.5 L958.9,128.9 L960.4,129.3 L961.9,129.7 L963.4,130.1 L964.9,130.4 L966.4,130.8 L967.9,131.1 L969.4,131.5 L970.9,131.8 L972.4,132.2 L973.9,132.5 L975.4,132.8 L976.9,133.2 L978.4,133.5 L979.9,133.8 L981.4,134.1 L982.9,134.4 L984.4,134.7 L985.9,135.0 L987.4,135.3 L988.9,135.6 L990.4,135.9 L991.9,136.2 L993.4,136.5 L994.9,136.7 L996.4,137.0 L997.9,137.3 L999.4,137.6 L1000.9,137.9 L1002.4,138.1 L1003.9,138.4 L1005.4,138.7 L1006.9,138.9 L1008.4,139.2 L1009.9,139.5 L1011.4,139.7 L1012.9,140.0 L1014.4,140.3 L1015.9,140.5 L1017.4,140.8 L1018.9,141.1 L1020.4,141.3 L1021.9,141.6 L1023.4,141.9 L1024.9,142.1 L1026.4,142.4 L1027.9,142.7 L1029.4,142.9 L1030.9,143.2 L1032.4,143.5 L1033.9,143.7 L1035.4,144.0 L1036.9,144.3 L1038.4,144.5 L1039.9,144.8 L1041.4,145.1 L1042.9,145.3 L1044.4,145.6 L1045.9,145.9 L1047.4,146.1 L1048.9,146.4 L1050.4,146.7 L1051.9,147.0 L1053.4,147.2 L1054.9,147.5 L1056.4,147.8 L1057.9,148.1 L1059.4,148.3 L1060.9,148.6 L1062.4,148.9 L1063.9,149.2 L1065.4,149.5 L1066.9,149.7 L1068.4,150.0 L1069.9,150.3 L1071.4,150.6 L1072.0,150.7" fill="none" stroke="#a29e18" stroke-width="4.4" stroke-linejoin="round" stroke-linecap="round" clip-path="url(#tb)"/>
<path d="M558.4,164.4 L559.9,163.7 L561.4,163.0 L562.9,162.3 L564.4,161.7 L565.9,161.1 L567.4,160.5 L568.9,159.9 L570.4,159.3 L571.9,158.7 L573.4,158.2 L574.9,157.6 L576.4,157.1 L577.9,156.6 L579.4,156.0 L580.9,155.5 L582.4,155.1 L583.9,154.6 L585.4,154.1 L586.9,153.7 L588.4,153.2 L589.9,152.8 L591.4,152.4 L592.9,151.9 L594.4,151.5 L595.9,151.1 L597.4,150.7 L598.9,150.3 L600.4,150.0 L601.9,149.6 L603.4,149.2 L604.9,148.9 L606.4,148.5 L607.9,148.2 L609.4,147.8 L610.9,147.5 L612.4,147.1 L613.9,146.8 L615.4,146.5 L616.9,146.2 L618.4,145.8 L619.9,145.5 L621.4,145.2 L622.9,144.9 L624.4,144.6 L625.9,144.3 L627.4,144.0 L628.9,143.7 L630.4,143.4 L631.9,143.1 L633.4,142.8 L634.9,142.5 L636.4,142.1 L637.9,141.8 L639.4,141.5 L640.9,141.2 L642.4,140.9 L643.9,140.6 L645.4,140.3 L646.9,140.0 L648.4,139.6 L649.9,139.3 L651.4,139.0 L652.9,138.7 L654.4,138.3 L655.9,138.0 L657.4,137.6 L658.9,137.3 L660.4,136.9 L661.9,136.6 L663.4,136.2 L664.9,135.8 L666.4,135.4 L667.9,135.0 L669.4,134.6 L670.9,134.2 L672.4,133.8 L673.9,133.4 L675.4,132.9 L676.9,132.5 L678.4,132.0 L679.9,131.6 L681.4,131.1 L682.9,130.6 L684.4,130.1 L685.9,129.6 L687.4,129.1 L688.9,128.6 L690.4,128.0 L691.9,127.5 L693.4,126.9 L694.9,126.3 L696.4,125.7 L697.9,125.1 L699.4,124.5 L700.9,123.9 L702.4,123.2 L703.9,122.6 L705.4,121.9 L706.9,121.2 L708.4,120.5 L709.9,119.8 L711.4,119.0 L712.9,118.3 L714.4,117.5 L715.9,116.7 L717.4,115.9 L718.9,115.1 L720.4,114.3 L721.9,113.4 L723.4,112.6 L724.9,111.7 L726.4,110.8 L727.9,109.9 L729.4,108.9 L730.9,108.0 L732.4,107.0 L733.9,106.0 L735.4,105.0 L736.9,104.0 L738.4,103.0 L739.9,101.9 L741.4,100.9 L742.9,99.8 L744.4,98.8 L745.9,97.7 L747.4,96.7 L748.9,95.6 L750.4,94.6 L751.9,93.6 L753.4,92.6 L754.9,91.6 L756.4,90.7 L757.9,89.7 L759.4,88.8 L760.9,88.0 L762.4,87.1 L763.9,86.3 L765.4,85.5 L766.9,84.7 L768.4,83.9 L769.9,83.2 L771.4,82.5 L772.9,81.8 L774.4,81.1 L775.9,80.4 L777.4,79.8 L778.9,79.2 L780.4,78.5 L781.9,78.0 L783.4,77.4 L784.9,76.8 L786.4,76.3 L787.9,75.7 L789.4,75.2 L790.9,74.7 L792.4,74.2 L793.9,73.8 L795.4,73.3 L796.9,72.9 L798.4,72.5 L799.9,72.1 L801.4,71.8 L802.9,71.5 L804.4,71.2 L805.9,71.0 L807.4,70.9 L808.9,70.7 L810.4,70.6 L811.9,70.6 L813.4,70.6 L814.9,70.7 L816.4,70.8 L817.9,70.9 L819.4,71.1 L820.9,71.3 L822.4,71.6 L823.9,72.0 L825.4,72.4 L826.9,72.8 L828.4,73.3 L829.9,73.8 L831.4,74.4 L832.9,75.1 L834.4,75.8 L835.9,76.6 L837.4,77.4 L838.9,78.3 L840.4,79.2 L841.9,80.1 L843.4,81.1 L844.9,82.1 L846.4,83.0 L847.9,84.1 L849.4,85.1 L850.9,86.1 L852.4,87.1 L853.9,88.0 L855.4,89.0 L856.9,89.9 L858.4,90.8 L859.9,91.6 L861.4,92.5 L862.9,93.3 L864.4,94.0 L865.9,94.7 L867.4,95.4 L868.9,96.1 L870.4,96.8 L871.9,97.4 L873.4,98.0 L874.9,98.5 L876.4,99.1 L877.9,99.6 L879.4,100.1 L880.9,100.6 L882.4,101.1 L883.9,101.5 L885.4,102.0 L886.9,102.4 L888.4,102.8 L889.9,103.2 L891.4,103.6 L892.9,104.0 L894.4,104.4 L895.9,104.7 L897.4,105.1 L898.9,105.5 L900.4,105.8 L901.9,106.2 L903.4,106.5 L904.9,106.9 L906.4,107.2 L907.9,107.6 L909.4,108.0 L910.9,108.3 L912.4,108.7 L913.9,109.1 L915.4,109.5 L916.9,109.9 L918.4,110.3 L919.9,110.7 L921.4,111.2 L922.9,111.6 L924.4,112.1 L925.9,112.6 L927.4,113.1 L928.9,113.6 L930.4,114.1 L931.9,114.7 L933.4,115.2 L934.9,115.8 L936.4,116.4 L937.9,117.0 L939.4,117.5 L940.9,118.1 L942.4,118.7 L943.9,119.4 L945.4,120.0 L946.9,120.6 L948.4,121.2 L949.9,121.8 L951.4,122.4 L952.9,123.0 L954.4,123.6 L955.9,124.2 L957.4,124.8 L958.9,125.4 L960.4,126.0 L961.9,126.6 L963.4,127.2 L964.9,127.7 L966.4,128.3 L967.9,128.8 L969.4,129.3 L970.9,129.8 L972.4,130.3 L973.9,130.8 L975.4,131.3 L976.9,131.7 L978.4,132.1 L979.9,132.5 L981.4,132.9 L982.9,133.2 L984.4,133.6 L985.9,133.9 L987.4,134.2 L988.9,134.4 L990.4,134.6 L991.9,134.8 L993.4,135.0 L994.9,135.1 L996.4,135.2 L997.9,135.3 L999.4,135.4 L1000.9,135.4 L1002.4,135.4 L1003.9,135.4 L1005.4,135.4 L1006.9,135.4 L1008.4,135.3 L1009.9,135.2 L1011.4,135.2 L1012.9,135.1 L1014.4,135.0 L1015.9,134.9 L1017.4,134.7 L1018.9,134.6 L1020.4,134.5 L1021.9,134.4 L1023.4,134.2 L1024.9,134.1 L1026.4,134.0 L1027.9,133.8 L1029.4,133.7 L1030.9,133.6 L1032.4,133.5 L1033.9,133.4 L1035.4,133.3 L1036.9,133.2 L1038.4,133.1 L1039.9,133.0 L1041.4,133.0 L1042.9,132.9 L1044.4,132.9 L1045.9,132.9 L1047.4,133.0 L1048.9,133.0 L1050.4,133.1 L1051.9,133.2 L1053.4,133.3 L1054.9,133.4 L1056.4,133.6 L1057.9,133.8 L1059.4,134.0 L1060.9,134.3 L1062.4,134.6 L1063.9,134.9 L1065.4,135.3 L1066.9,135.7 L1068.4,136.1 L1069.9,136.6 L1071.4,137.2 L1072.0,137.4" fill="none" stroke="#1d6bd0" stroke-width="4.4" stroke-linejoin="round" stroke-linecap="round" clip-path="url(#tb)"/>
<path d="M558.4,159.2 L559.9,158.6 L561.4,158.1 L562.9,157.5 L564.4,157.0 L565.9,156.5 L567.4,156.0 L568.9,155.5 L570.4,155.0 L571.9,154.5 L573.4,154.1 L574.9,153.6 L576.4,153.2 L577.9,152.8 L579.4,152.4 L580.9,152.0 L582.4,151.6 L583.9,151.2 L585.4,150.9 L586.9,150.5 L588.4,150.2 L589.9,149.8 L591.4,149.5 L592.9,149.2 L594.4,148.9 L595.9,148.6 L597.4,148.2 L598.9,147.9 L600.4,147.6 L601.9,147.4 L603.4,147.1 L604.9,146.8 L606.4,146.5 L607.9,146.2 L609.4,145.9 L610.9,145.6 L612.4,145.4 L613.9,145.1 L615.4,144.8 L616.9,144.5 L618.4,144.2 L619.9,143.9 L621.4,143.7 L622.9,143.4 L624.4,143.1 L625.9,142.8 L627.4,142.5 L628.9,142.2 L630.4,141.9 L631.9,141.6 L633.4,141.2 L634.9,140.9 L636.4,140.6 L637.9,140.3 L639.4,139.9 L640.9,139.6 L642.4,139.2 L643.9,138.9 L645.4,138.5 L646.9,138.2 L648.4,137.8 L649.9,137.4 L651.4,137.1 L652.9,136.7 L654.4,136.3 L655.9,135.9 L657.4,135.5 L658.9,135.0 L660.4,134.6 L661.9,134.2 L663.4,133.7 L664.9,133.3 L666.4,132.8 L667.9,132.4 L669.4,131.9 L670.9,131.4 L672.4,130.9 L673.9,130.4 L675.4,129.9 L676.9,129.4 L678.4,128.8 L679.9,128.3 L681.4,127.7 L682.9,127.2 L684.4,126.6 L685.9,126.0 L687.4,125.4 L688.9,124.8 L690.4,124.2 L691.9,123.6 L693.4,122.9 L694.9,122.3 L696.4,121.6 L697.9,120.9 L699.4,120.3 L700.9,119.6 L702.4,118.9 L703.9,118.2 L705.4,117.5 L706.9,116.7 L708.4,116.0 L709.9,115.3 L711.4,114.5 L712.9,113.8 L714.4,113.1 L715.9,112.3 L717.4,111.5 L718.9,110.8 L720.4,110.0 L721.9,109.3 L723.4,108.5 L724.9,107.7 L726.4,107.0 L727.9,106.2 L729.4,105.4 L730.9,104.6 L732.4,103.9 L733.9,103.1 L735.4,102.3 L736.9,101.6 L738.4,100.8 L739.9,100.0 L741.4,99.3 L742.9,98.5 L744.4,97.8 L745.9,97.0 L747.4,96.3 L748.9,95.5 L750.4,94.8 L751.9,94.1 L753.4,93.3 L754.9,92.6 L756.4,91.9 L757.9,91.2 L759.4,90.5 L760.9,89.9 L762.4,89.2 L763.9,88.5 L765.4,87.9 L766.9,87.2 L768.4,86.6 L769.9,86.0 L771.4,85.3 L772.9,84.7 L774.4,84.2 L775.9,83.6 L777.4,83.0 L778.9,82.5 L780.4,81.9 L781.9,81.4 L783.4,80.9 L784.9,80.4 L786.4,79.9 L787.9,79.5 L789.4,79.0 L790.9,78.6 L792.4,78.2 L793.9,77.8 L795.4,77.5 L796.9,77.1 L798.4,76.8 L799.9,76.5 L801.4,76.2 L802.9,75.9 L804.4,75.6 L805.9,75.4 L807.4,75.2 L808.9,75.0 L810.4,74.9 L811.9,74.7 L813.4,74.6 L814.9,74.5 L816.4,74.4 L817.9,74.4 L819.4,74.4 L820.9,74.4 L822.4,74.5 L823.9,74.6 L825.4,74.8 L826.9,75.0 L828.4,75.3 L829.9,75.6 L831.4,76.0 L832.9,76.4 L834.4,76.9 L835.9,77.4 L837.4,78.0 L838.9,78.7 L840.4,79.4 L841.9,80.1 L843.4,80.9 L844.9,81.8 L846.4,82.6 L847.9,83.5 L849.4,84.3 L850.9,85.2 L852.4,86.1 L853.9,87.0 L855.4,87.9 L856.9,88.7 L858.4,89.5 L859.9,90.4 L861.4,91.2 L862.9,91.9 L864.4,92.7 L865.9,93.4 L867.4,94.1 L868.9,94.8 L870.4,95.5 L871.9,96.2 L873.4,96.8 L874.9,97.4 L876.4,98.1 L877.9,98.7 L879.4,99.3 L880.9,99.9 L882.4,100.5 L883.9,101.0 L885.4,101.6 L886.9,102.1 L888.4,102.7 L889.9,103.2 L891.4,103.7 L892.9,104.3 L894.4,104.8 L895.9,105.3 L897.4,105.8 L898.9,106.3 L900.4,106.7 L901.9,107.2 L903.4,107.7 L904.9,108.2 L906.4,108.6 L907.9,109.1 L909.4,109.5 L910.9,110.0 L912.4,110.4 L913.9,110.9 L915.4,111.3 L916.9,111.8 L918.4,112.2 L919.9,112.7 L921.4,113.1 L922.9,113.5 L924.4,114.0 L925.9,114.4 L927.4,114.9 L928.9,115.3 L930.4,115.7 L931.9,116.2 L933.4,116.6 L934.9,117.1 L936.4,117.5 L937.9,118.0 L939.4,118.4 L940.9,118.9 L942.4,119.4 L943.9,119.8 L945.4,120.3 L946.9,120.8 L948.4,121.3 L949.9,121.8 L951.4,122.2 L952.9,122.7 L954.4,123.2 L955.9,123.7 L957.4,124.2 L958.9,124.8 L960.4,125.3 L961.9,125.8 L963.4,126.3 L964.9,126.8 L966.4,127.3 L967.9,127.8 L969.4,128.3 L970.9,128.8 L972.4,129.3 L973.9,129.7 L975.4,130.2 L976.9,130.7 L978.4,131.2 L979.9,131.6 L981.4,132.1 L982.9,132.5 L984.4,133.0 L985.9,133.4 L987.4,133.8 L988.9,134.2 L990.4,134.6 L991.9,135.0 L993.4,135.4 L994.9,135.7 L996.4,136.1 L997.9,136.4 L999.4,136.7 L1000.9,137.0 L1002.4,137.3 L1003.9,137.6 L1005.4,137.8 L1006.9,138.1 L1008.4,138.3 L1009.9,138.5 L1011.4,138.7 L1012.9,138.8 L1014.4,138.9 L1015.9,139.1 L1017.4,139.2 L1018.9,139.2 L1020.4,139.3 L1021.9,139.4 L1023.4,139.4 L1024.9,139.4 L1026.4,139.4 L1027.9,139.4 L1029.4,139.4 L1030.9,139.4 L1032.4,139.4 L1033.9,139.4 L1035.4,139.3 L1036.9,139.3 L1038.4,139.3 L1039.9,139.2 L1041.4,139.2 L1042.9,139.2 L1044.4,139.1 L1045.9,139.1 L1047.4,139.1 L1048.9,139.1 L1050.4,139.1 L1051.9,139.1 L1053.4,139.1 L1054.9,139.1 L1056.4,139.1 L1057.9,139.2 L1059.4,139.3 L1060.9,139.3 L1062.4,139.4 L1063.9,139.6 L1065.4,139.7 L1066.9,139.9 L1068.4,140.1 L1069.9,140.3 L1071.4,140.5 L1072.0,140.6" fill="none" stroke="#34a872" stroke-width="4.4" stroke-linejoin="round" stroke-linecap="round" clip-path="url(#tb)"/>
<path d="M1118.0,175.6 L1119.5,175.0 L1121.0,174.5 L1122.5,173.9 L1124.0,173.3 L1125.5,172.7 L1127.0,172.1 L1128.5,171.6 L1130.0,171.0 L1131.5,170.4 L1133.0,169.9 L1134.5,169.3 L1136.0,168.7 L1137.5,168.1 L1139.0,167.6 L1140.5,167.0 L1142.0,166.4 L1143.5,165.9 L1145.0,165.3 L1146.5,164.7 L1148.0,164.2 L1149.5,163.6 L1151.0,163.0 L1152.5,162.5 L1154.0,161.9 L1155.5,161.3 L1157.0,160.7 L1158.5,160.2 L1160.0,159.6 L1161.5,159.0 L1163.0,158.5 L1164.5,157.9 L1166.0,157.3 L1167.5,156.7 L1169.0,156.2 L1170.5,155.6 L1172.0,155.0 L1173.5,154.4 L1175.0,153.8 L1176.5,153.3 L1178.0,152.7 L1179.5,152.1 L1181.0,151.5 L1182.5,150.9 L1184.0,150.3 L1185.5,149.7 L1187.0,149.1 L1188.5,148.5 L1190.0,148.0 L1191.5,147.4 L1193.0,146.8 L1194.5,146.1 L1196.0,145.5 L1197.5,144.9 L1199.0,144.3 L1200.5,143.7 L1202.0,143.1 L1203.5,142.5 L1205.0,141.9 L1206.5,141.2 L1208.0,140.6 L1209.5,140.0 L1211.0,139.4 L1212.5,138.7 L1214.0,138.1 L1215.5,137.4 L1217.0,136.8 L1218.5,136.2 L1220.0,135.5 L1221.5,134.8 L1223.0,134.2 L1224.5,133.5 L1226.0,132.9 L1227.5,132.2 L1229.0,131.5 L1230.5,130.9 L1232.0,130.2 L1233.5,129.5 L1235.0,128.8 L1236.5,128.1 L1238.0,127.4 L1239.5,126.7 L1241.0,126.0 L1242.5,125.4 L1244.0,124.7 L1245.5,124.0 L1247.0,123.3 L1248.5,122.6 L1250.0,122.0 L1251.5,121.3 L1253.0,120.6 L1254.5,120.0 L1256.0,119.3 L1257.5,118.7 L1259.0,118.1 L1260.5,117.5 L1262.0,116.9 L1263.5,116.3 L1265.0,115.7 L1266.5,115.1 L1268.0,114.6 L1269.5,114.0 L1271.0,113.5 L1272.5,113.0 L1274.0,112.5 L1275.5,112.0 L1277.0,111.6 L1278.5,111.2 L1280.0,110.8 L1281.5,110.4 L1283.0,110.0 L1284.5,109.7 L1286.0,109.3 L1287.5,109.0 L1289.0,108.8 L1290.5,108.5 L1292.0,108.3 L1293.5,108.1 L1295.0,107.9 L1296.5,107.8 L1298.0,107.7 L1299.5,107.6 L1301.0,107.6 L1302.5,107.6 L1304.0,107.6 L1305.5,107.6 L1307.0,107.7 L1308.5,107.8 L1310.0,107.9 L1311.5,108.0 L1313.0,108.2 L1314.5,108.3 L1316.0,108.5 L1317.5,108.8 L1319.0,109.0 L1320.5,109.2 L1322.0,109.5 L1323.5,109.8 L1325.0,110.1 L1326.5,110.4 L1328.0,110.7 L1329.5,111.0 L1331.0,111.3 L1332.5,111.6 L1334.0,112.0 L1335.5,112.3 L1337.0,112.7 L1338.5,113.0 L1340.0,113.4 L1341.5,113.7 L1343.0,114.1 L1344.5,114.4 L1346.0,114.8 L1347.5,115.1 L1349.0,115.5 L1350.5,115.8 L1352.0,116.1 L1353.5,116.4 L1355.0,116.8 L1356.5,117.1 L1358.0,117.4 L1359.5,117.7 L1361.0,118.0 L1362.5,118.3 L1364.0,118.5 L1365.5,118.8 L1367.0,119.1 L1368.5,119.3 L1370.0,119.5 L1371.5,119.8 L1373.0,120.0 L1374.5,120.2 L1376.0,120.4 L1377.5,120.5 L1379.0,120.7 L1380.5,120.8 L1382.0,120.9 L1383.5,121.0 L1385.0,121.1 L1386.5,121.2 L1388.0,121.3 L1389.5,121.3 L1391.0,121.3 L1392.5,121.3 L1394.0,121.3 L1395.5,121.3 L1397.0,121.3 L1398.5,121.3 L1400.0,121.2 L1401.5,121.2 L1403.0,121.1 L1404.5,121.1 L1406.0,121.1 L1407.5,121.1 L1409.0,121.0 L1410.5,121.0 L1412.0,121.0 L1413.5,121.0 L1415.0,121.1 L1416.5,121.1 L1418.0,121.1 L1419.5,121.1 L1421.0,121.2 L1422.5,121.3 L1424.0,121.3 L1425.5,121.4 L1427.0,121.5 L1428.5,121.6 L1430.0,121.7 L1431.5,121.8 L1433.0,121.9 L1434.5,122.0 L1436.0,122.1 L1437.5,122.2 L1439.0,122.4 L1440.5,122.5 L1442.0,122.6 L1443.5,122.8 L1445.0,122.9 L1446.5,123.1 L1448.0,123.3 L1449.5,123.4 L1451.0,123.6 L1452.5,123.8 L1454.0,124.0 L1455.5,124.2 L1457.0,124.4 L1458.5,124.5 L1460.0,124.7 L1461.5,125.0 L1463.0,125.2 L1464.5,125.4 L1466.0,125.6 L1467.5,125.8 L1469.0,126.0 L1470.5,126.2 L1472.0,126.5 L1473.5,126.7 L1475.0,126.9 L1476.5,127.2 L1478.0,127.4 L1479.5,127.6 L1481.0,127.9 L1482.5,128.1 L1484.0,128.3 L1485.5,128.6 L1487.0,128.8 L1488.5,129.1 L1490.0,129.3 L1491.5,129.5 L1493.0,129.8 L1494.5,130.0 L1496.0,130.3 L1497.5,130.5 L1499.0,130.8 L1500.5,131.0 L1502.0,131.3 L1503.5,131.5 L1505.0,131.7 L1506.5,132.0 L1508.0,132.2 L1509.5,132.5 L1511.0,132.7 L1512.5,133.0 L1514.0,133.2 L1515.5,133.4 L1517.0,133.7 L1518.5,133.9 L1520.0,134.1 L1521.5,134.4 L1523.0,134.6 L1524.5,134.8 L1526.0,135.1 L1527.5,135.3 L1529.0,135.5 L1530.5,135.7 L1532.0,135.9 L1533.5,136.2 L1535.0,136.4 L1536.5,136.6 L1538.0,136.8 L1539.5,137.0 L1541.0,137.2 L1542.5,137.4 L1544.0,137.6 L1545.5,137.8 L1547.0,138.0 L1548.5,138.2 L1550.0,138.3 L1551.5,138.5 L1553.0,138.7 L1554.5,138.8 L1556.0,139.0 L1557.5,139.2 L1559.0,139.3 L1560.5,139.5 L1562.0,139.6 L1563.5,139.7 L1565.0,139.9 L1566.5,140.0 L1568.0,140.1 L1569.5,140.2 L1571.0,140.4 L1572.5,140.5 L1574.0,140.6 L1575.5,140.7 L1577.0,140.7 L1578.5,140.8 L1580.0,140.9 L1581.5,141.0 L1583.0,141.0 L1584.5,141.1 L1586.0,141.1 L1587.5,141.2 L1589.0,141.2 L1590.5,141.2 L1592.0,141.3 L1593.5,141.3 L1594.0,141.3" fill="none" stroke="#0a0ca5" stroke-width="3.5" stroke-linejoin="round" stroke-linecap="round" clip-path="url(#tc)"/>
<path d="M1086.0,175.6 L1087.5,174.8 L1089.0,174.0 L1090.5,173.2 L1092.0,172.4 L1093.5,171.6 L1095.0,170.8 L1096.5,170.0 L1098.0,169.2 L1099.5,168.4 L1101.0,167.7 L1102.5,166.9 L1104.0,166.1 L1105.5,165.3 L1107.0,164.6 L1108.5,163.8 L1110.0,163.0 L1111.5,162.3 L1113.0,161.5 L1114.5,160.8 L1116.0,160.0 L1117.5,159.3 L1119.0,158.5 L1120.5,157.8 L1122.0,157.1 L1123.5,156.3 L1125.0,155.6 L1126.5,154.9 L1128.0,154.1 L1129.5,153.4 L1131.0,152.7 L1132.5,151.9 L1134.0,151.2 L1135.5,150.5 L1137.0,149.7 L1138.5,149.0 L1140.0,148.3 L1141.5,147.5 L1143.0,146.8 L1144.5,146.1 L1146.0,145.4 L1147.5,144.6 L1149.0,143.9 L1150.5,143.2 L1152.0,142.4 L1153.5,141.7 L1155.0,141.0 L1156.5,140.2 L1158.0,139.5 L1159.5,138.7 L1161.0,138.0 L1162.5,137.3 L1164.0,136.5 L1165.5,135.8 L1167.0,135.0 L1168.5,134.2 L1170.0,133.5 L1171.5,132.7 L1173.0,132.0 L1174.5,131.2 L1176.0,130.4 L1177.5,129.7 L1179.0,128.9 L1180.5,128.1 L1182.0,127.3 L1183.5,126.5 L1185.0,125.7 L1186.5,124.9 L1188.0,124.1 L1189.5,123.3 L1191.0,122.5 L1192.5,121.7 L1194.0,120.9 L1195.5,120.0 L1197.0,119.2 L1198.5,118.4 L1200.0,117.5 L1201.5,116.7 L1203.0,115.8 L1204.5,114.9 L1206.0,114.1 L1207.5,113.2 L1209.0,112.3 L1210.5,111.4 L1212.0,110.5 L1213.5,109.6 L1215.0,108.7 L1216.5,107.8 L1218.0,106.9 L1219.5,106.0 L1221.0,105.1 L1222.5,104.2 L1224.0,103.2 L1225.5,102.3 L1227.0,101.4 L1228.5,100.5 L1230.0,99.6 L1231.5,98.7 L1233.0,97.8 L1234.5,96.9 L1236.0,96.0 L1237.5,95.2 L1239.0,94.3 L1240.5,93.5 L1242.0,92.6 L1243.5,91.8 L1245.0,91.0 L1246.5,90.2 L1248.0,89.4 L1249.5,88.6 L1251.0,87.8 L1252.5,87.1 L1254.0,86.4 L1255.5,85.7 L1257.0,85.0 L1258.5,84.3 L1260.0,83.7 L1261.5,83.1 L1263.0,82.5 L1264.5,81.9 L1266.0,81.3 L1267.5,80.8 L1269.0,80.3 L1270.5,79.8 L1272.0,79.4 L1273.5,78.9 L1275.0,78.5 L1276.5,78.2 L1278.0,77.9 L1279.5,77.6 L1281.0,77.3 L1282.5,77.0 L1284.0,76.8 L1285.5,76.6 L1287.0,76.5 L1288.5,76.3 L1290.0,76.2 L1291.5,76.1 L1293.0,76.0 L1294.5,76.0 L1296.0,75.9 L1297.5,75.9 L1299.0,75.9 L1300.5,76.0 L1302.0,76.0 L1303.5,76.0 L1305.0,76.1 L1306.5,76.2 L1308.0,76.3 L1309.5,76.4 L1311.0,76.5 L1312.5,76.6 L1314.0,76.8 L1315.5,76.9 L1317.0,77.1 L1318.5,77.2 L1320.0,77.4 L1321.5,77.5 L1323.0,77.7 L1324.5,77.9 L1326.0,78.1 L1327.5,78.2 L1329.0,78.4 L1330.5,78.6 L1332.0,78.8 L1333.5,79.0 L1335.0,79.1 L1336.5,79.3 L1338.0,79.4 L1339.5,79.6 L1341.0,79.7 L1342.5,79.9 L1344.0,80.0 L1345.5,80.1 L1347.0,80.3 L1348.5,80.4 L1350.0,80.5 L1351.5,80.6 L1353.0,80.7 L1354.5,80.7 L1356.0,80.8 L1357.5,80.9 L1359.0,81.0 L1360.5,81.0 L1362.0,81.1 L1363.5,81.2 L1365.0,81.2 L1366.5,81.3 L1368.0,81.3 L1369.5,81.4 L1371.0,81.4 L1372.5,81.5 L1374.0,81.6 L1375.5,81.6 L1377.0,81.7 L1378.5,81.7 L1380.0,81.8 L1381.5,81.9 L1383.0,82.0 L1384.5,82.0 L1386.0,82.1 L1387.5,82.2 L1389.0,82.3 L1390.5,82.4 L1392.0,82.5 L1393.5,82.6 L1395.0,82.7 L1396.5,82.9 L1398.0,83.0 L1399.5,83.1 L1401.0,83.3 L1402.5,83.4 L1404.0,83.6 L1405.5,83.8 L1407.0,84.0 L1408.5,84.2 L1410.0,84.4 L1411.5,84.6 L1413.0,84.9 L1414.5,85.1 L1416.0,85.4 L1417.5,85.7 L1419.0,86.0 L1420.5,86.3 L1422.0,86.6 L1423.5,86.9 L1425.0,87.2 L1426.5,87.6 L1428.0,87.9 L1429.5,88.3 L1431.0,88.6 L1432.5,89.0 L1434.0,89.4 L1435.5,89.8 L1437.0,90.2 L1438.5,90.6 L1440.0,91.0 L1441.5,91.4 L1443.0,91.8 L1444.5,92.2 L1446.0,92.7 L1447.5,93.1 L1449.0,93.6 L1450.5,94.0 L1452.0,94.5 L1453.5,94.9 L1455.0,95.4 L1456.5,95.9 L1458.0,96.3 L1459.5,96.8 L1461.0,97.3 L1462.5,97.8 L1464.0,98.3 L1465.5,98.8 L1467.0,99.3 L1468.5,99.7 L1470.0,100.2 L1471.5,100.7 L1473.0,101.2 L1474.5,101.7 L1476.0,102.2 L1477.5,102.7 L1479.0,103.2 L1480.5,103.7 L1482.0,104.2 L1483.5,104.7 L1485.0,105.2 L1486.5,105.7 L1488.0,106.2 L1489.5,106.7 L1491.0,107.2 L1492.5,107.7 L1494.0,108.2 L1495.5,108.7 L1497.0,109.2 L1498.5,109.7 L1500.0,110.2 L1501.5,110.7 L1503.0,111.2 L1504.5,111.6 L1506.0,112.1 L1507.5,112.6 L1509.0,113.1 L1510.5,113.6 L1512.0,114.0 L1513.5,114.5 L1515.0,115.0 L1516.5,115.4 L1518.0,115.9 L1519.5,116.4 L1521.0,116.8 L1522.5,117.3 L1524.0,117.7 L1525.5,118.2 L1527.0,118.6 L1528.5,119.1 L1530.0,119.5 L1531.5,119.9 L1533.0,120.3 L1534.5,120.8 L1536.0,121.2 L1537.5,121.6 L1539.0,122.0 L1540.5,122.4 L1542.0,122.8 L1543.5,123.2 L1545.0,123.6 L1546.5,124.0 L1548.0,124.4 L1549.5,124.8 L1551.0,125.1 L1552.5,125.5 L1554.0,125.9 L1555.5,126.2 L1557.0,126.6 L1558.5,126.9 L1560.0,127.3 L1561.5,127.6 L1563.0,127.9 L1564.5,128.2 L1566.0,128.5 L1567.5,128.8 L1569.0,129.1 L1570.5,129.4 L1572.0,129.7 L1573.5,130.0 L1575.0,130.3 L1576.5,130.5 L1578.0,130.8 L1579.5,131.0 L1581.0,131.3 L1582.5,131.5 L1584.0,131.7 L1585.5,132.0 L1587.0,132.2 L1588.5,132.4 L1590.0,132.6 L1591.5,132.7 L1593.0,132.9 L1594.0,133.0" fill="none" stroke="#c638f2" stroke-width="4" stroke-linejoin="round" stroke-linecap="round" clip-path="url(#tc)"/>
<path d="M1095.0,175.9 L1096.5,175.2 L1098.0,174.5 L1099.5,173.7 L1101.0,173.0 L1102.5,172.2 L1104.0,171.4 L1105.5,170.6 L1107.0,169.7 L1108.5,168.8 L1110.0,167.9 L1111.5,167.0 L1113.0,166.0 L1114.5,165.1 L1116.0,164.1 L1117.5,163.1 L1119.0,162.1 L1120.5,161.1 L1122.0,160.0 L1123.5,159.0 L1125.0,157.9 L1126.5,156.8 L1128.0,155.7 L1129.5,154.6 L1131.0,153.5 L1132.5,152.4 L1134.0,151.3 L1135.5,150.2 L1137.0,149.0 L1138.5,147.9 L1140.0,146.8 L1141.5,145.7 L1143.0,144.5 L1144.5,143.4 L1146.0,142.3 L1147.5,141.1 L1149.0,140.0 L1150.5,138.9 L1152.0,137.8 L1153.5,136.6 L1155.0,135.5 L1156.5,134.4 L1158.0,133.3 L1159.5,132.2 L1161.0,131.2 L1162.5,130.1 L1164.0,129.0 L1165.5,128.0 L1167.0,126.9 L1168.5,125.9 L1170.0,124.9 L1171.5,123.8 L1173.0,122.8 L1174.5,121.9 L1176.0,120.9 L1177.5,119.9 L1179.0,119.0 L1180.5,118.1 L1182.0,117.1 L1183.5,116.3 L1185.0,115.4 L1186.5,114.5 L1188.0,113.7 L1189.5,112.9 L1191.0,112.1 L1192.5,111.3 L1194.0,110.5 L1195.5,109.8 L1197.0,109.0 L1198.5,108.3 L1200.0,107.6 L1201.5,107.0 L1203.0,106.3 L1204.5,105.6 L1206.0,105.0 L1207.5,104.4 L1209.0,103.8 L1210.5,103.2 L1212.0,102.6 L1213.5,102.0 L1215.0,101.5 L1216.5,100.9 L1218.0,100.4 L1219.5,99.9 L1221.0,99.4 L1222.5,98.9 L1224.0,98.4 L1225.5,97.9 L1227.0,97.5 L1228.5,97.0 L1230.0,96.5 L1231.5,96.1 L1233.0,95.7 L1234.5,95.2 L1236.0,94.8 L1237.5,94.4 L1239.0,94.0 L1240.5,93.6 L1242.0,93.2 L1243.5,92.8 L1245.0,92.4 L1246.5,92.0 L1248.0,91.6 L1249.5,91.2 L1251.0,90.9 L1252.5,90.5 L1254.0,90.1 L1255.5,89.7 L1257.0,89.4 L1258.5,89.0 L1260.0,88.6 L1261.5,88.3 L1263.0,87.9 L1264.5,87.5 L1266.0,87.1 L1267.5,86.8 L1269.0,86.4 L1270.5,86.0 L1272.0,85.6 L1273.5,85.2 L1275.0,84.8 L1276.5,84.4 L1278.0,84.0 L1279.5,83.6 L1281.0,83.2 L1282.5,82.8 L1284.0,82.4 L1285.5,82.0 L1287.0,81.6 L1288.5,81.2 L1290.0,80.8 L1291.5,80.4 L1293.0,79.9 L1294.5,79.5 L1296.0,79.1 L1297.5,78.7 L1299.0,78.4 L1300.5,78.0 L1302.0,77.6 L1303.5,77.2 L1305.0,76.8 L1306.5,76.5 L1308.0,76.1 L1309.5,75.8 L1311.0,75.5 L1312.5,75.1 L1314.0,74.8 L1315.5,74.5 L1317.0,74.3 L1318.5,74.0 L1320.0,73.7 L1321.5,73.5 L1323.0,73.3 L1324.5,73.0 L1326.0,72.9 L1327.5,72.7 L1329.0,72.5 L1330.5,72.4 L1332.0,72.3 L1333.5,72.2 L1335.0,72.1 L1336.5,72.0 L1338.0,72.0 L1339.5,72.0 L1341.0,72.0 L1342.5,72.0 L1344.0,72.0 L1345.5,72.1 L1347.0,72.2 L1348.5,72.3 L1350.0,72.4 L1351.5,72.5 L1353.0,72.7 L1354.5,72.8 L1356.0,73.0 L1357.5,73.2 L1359.0,73.4 L1360.5,73.6 L1362.0,73.9 L1363.5,74.1 L1365.0,74.4 L1366.5,74.7 L1368.0,75.0 L1369.5,75.3 L1371.0,75.6 L1372.5,75.9 L1374.0,76.2 L1375.5,76.6 L1377.0,76.9 L1378.5,77.3 L1380.0,77.7 L1381.5,78.1 L1383.0,78.4 L1384.5,78.8 L1386.0,79.3 L1387.5,79.7 L1389.0,80.1 L1390.5,80.5 L1392.0,80.9 L1393.5,81.4 L1395.0,81.8 L1396.5,82.3 L1398.0,82.7 L1399.5,83.2 L1401.0,83.7 L1402.5,84.1 L1404.0,84.6 L1405.5,85.1 L1407.0,85.6 L1408.5,86.1 L1410.0,86.6 L1411.5,87.1 L1413.0,87.6 L1414.5,88.1 L1416.0,88.6 L1417.5,89.1 L1419.0,89.6 L1420.5,90.2 L1422.0,90.7 L1423.5,91.2 L1425.0,91.8 L1426.5,92.3 L1428.0,92.8 L1429.5,93.4 L1431.0,93.9 L1432.5,94.4 L1434.0,95.0 L1435.5,95.5 L1437.0,96.1 L1438.5,96.6 L1440.0,97.2 L1441.5,97.7 L1443.0,98.3 L1444.5,98.8 L1446.0,99.4 L1447.5,99.9 L1449.0,100.5 L1450.5,101.0 L1452.0,101.6 L1453.5,102.2 L1455.0,102.7 L1456.5,103.3 L1458.0,103.8 L1459.5,104.4 L1461.0,104.9 L1462.5,105.5 L1464.0,106.0 L1465.5,106.6 L1467.0,107.1 L1468.5,107.6 L1470.0,108.2 L1471.5,108.7 L1473.0,109.3 L1474.5,109.8 L1476.0,110.4 L1477.5,110.9 L1479.0,111.4 L1480.5,112.0 L1482.0,112.5 L1483.5,113.0 L1485.0,113.6 L1486.5,114.1 L1488.0,114.6 L1489.5,115.2 L1491.0,115.7 L1492.5,116.2 L1494.0,116.8 L1495.5,117.3 L1497.0,117.8 L1498.5,118.3 L1500.0,118.8 L1501.5,119.3 L1503.0,119.9 L1504.5,120.4 L1506.0,120.9 L1507.5,121.4 L1509.0,121.9 L1510.5,122.4 L1512.0,122.9 L1513.5,123.4 L1515.0,123.9 L1516.5,124.4 L1518.0,124.9 L1519.5,125.4 L1521.0,125.9 L1522.5,126.4 L1524.0,126.9 L1525.5,127.3 L1527.0,127.8 L1528.5,128.3 L1530.0,128.8 L1531.5,129.2 L1533.0,129.7 L1534.5,130.2 L1536.0,130.6 L1537.5,131.1 L1539.0,131.6 L1540.5,132.0 L1542.0,132.5 L1543.5,132.9 L1545.0,133.4 L1546.5,133.8 L1548.0,134.3 L1549.5,134.7 L1551.0,135.1 L1552.5,135.6 L1554.0,136.0 L1555.5,136.4 L1557.0,136.8 L1558.5,137.3 L1560.0,137.7 L1561.5,138.1 L1563.0,138.5 L1564.5,138.9 L1566.0,139.3 L1567.5,139.7 L1569.0,140.1 L1570.5,140.5 L1572.0,140.9 L1573.5,141.3 L1575.0,141.6 L1576.5,142.0 L1578.0,142.4 L1579.5,142.8 L1581.0,143.1 L1582.5,143.5 L1584.0,143.8 L1585.5,144.2 L1587.0,144.5 L1588.5,144.9 L1590.0,145.2 L1591.5,145.6 L1593.0,145.9 L1594.0,146.1" fill="none" stroke="#0f7f5c" stroke-width="4.3" stroke-linejoin="round" stroke-linecap="round" clip-path="url(#tc)"/>
<path d="M1076.0,176.8 L1077.5,175.0 L1079.0,173.2 L1080.5,171.4 L1082.0,169.7 L1083.5,168.0 L1085.0,166.4 L1086.5,164.8 L1088.0,163.2 L1089.5,161.7 L1091.0,160.2 L1092.5,158.8 L1094.0,157.4 L1095.5,156.0 L1097.0,154.6 L1098.5,153.3 L1100.0,152.1 L1101.5,150.8 L1103.0,149.6 L1104.5,148.4 L1106.0,147.3 L1107.5,146.2 L1109.0,145.1 L1110.5,144.0 L1112.0,143.0 L1113.5,142.0 L1115.0,141.0 L1116.5,140.1 L1118.0,139.1 L1119.5,138.2 L1121.0,137.3 L1122.5,136.5 L1124.0,135.7 L1125.5,134.8 L1127.0,134.1 L1128.5,133.3 L1130.0,132.5 L1131.5,131.8 L1133.0,131.1 L1134.5,130.4 L1136.0,129.7 L1137.5,129.1 L1139.0,128.4 L1140.5,127.8 L1142.0,127.2 L1143.5,126.6 L1145.0,126.0 L1146.5,125.4 L1148.0,124.8 L1149.5,124.2 L1151.0,123.7 L1152.5,123.1 L1154.0,122.6 L1155.5,122.1 L1157.0,121.5 L1158.5,121.0 L1160.0,120.4 L1161.5,119.9 L1163.0,119.4 L1164.5,118.8 L1166.0,118.3 L1167.5,117.7 L1169.0,117.1 L1170.5,116.6 L1172.0,116.0 L1173.5,115.4 L1175.0,114.8 L1176.5,114.1 L1178.0,113.5 L1179.5,112.9 L1181.0,112.2 L1182.5,111.5 L1184.0,110.8 L1185.5,110.0 L1187.0,109.3 L1188.5,108.5 L1190.0,107.7 L1191.5,106.9 L1193.0,106.0 L1194.5,105.1 L1196.0,104.2 L1197.5,103.3 L1199.0,102.3 L1200.5,101.3 L1202.0,100.2 L1203.5,99.2 L1205.0,98.0 L1206.5,96.9 L1208.0,95.7 L1209.5,94.5 L1211.0,93.2 L1212.5,91.9 L1214.0,90.5 L1215.5,89.1 L1217.0,87.7 L1218.5,86.3 L1220.0,84.8 L1221.5,83.3 L1223.0,81.8 L1224.5,80.3 L1226.0,78.8 L1227.5,77.3 L1229.0,75.7 L1230.5,74.2 L1232.0,72.7 L1233.5,71.2 L1235.0,69.6 L1236.5,68.1 L1238.0,66.6 L1239.5,65.2 L1241.0,63.7 L1242.5,62.3 L1244.0,60.9 L1245.5,59.5 L1247.0,58.2 L1248.5,56.9 L1250.0,55.6 L1251.5,54.4 L1253.0,53.3 L1254.5,52.1 L1256.0,51.1 L1257.5,50.1 L1259.0,49.1 L1260.5,48.2 L1262.0,47.3 L1263.5,46.5 L1265.0,45.7 L1266.5,45.0 L1268.0,44.3 L1269.5,43.7 L1271.0,43.1 L1272.5,42.6 L1274.0,42.1 L1275.5,41.7 L1277.0,41.3 L1278.5,41.0 L1280.0,40.7 L1281.5,40.4 L1283.0,40.2 L1284.5,40.0 L1286.0,39.9 L1287.5,39.8 L1289.0,39.7 L1290.5,39.7 L1292.0,39.7 L1293.5,39.7 L1295.0,39.8 L1296.5,39.8 L1298.0,39.9 L1299.5,40.0 L1301.0,40.1 L1302.5,40.3 L1304.0,40.4 L1305.5,40.6 L1307.0,40.8 L1308.5,41.0 L1310.0,41.2 L1311.5,41.4 L1313.0,41.6 L1314.5,41.8 L1316.0,42.0 L1317.5,42.2 L1319.0,42.3 L1320.5,42.5 L1322.0,42.7 L1323.5,42.9 L1325.0,43.0 L1326.5,43.2 L1328.0,43.3 L1329.5,43.5 L1331.0,43.6 L1332.5,43.8 L1334.0,43.9 L1335.5,44.0 L1337.0,44.2 L1338.5,44.3 L1340.0,44.4 L1341.5,44.6 L1343.0,44.7 L1344.5,44.9 L1346.0,45.0 L1347.5,45.2 L1349.0,45.3 L1350.5,45.5 L1352.0,45.7 L1353.5,45.8 L1355.0,46.0 L1356.5,46.2 L1358.0,46.4 L1359.5,46.6 L1361.0,46.9 L1362.5,47.1 L1364.0,47.3 L1365.5,47.6 L1367.0,47.9 L1368.5,48.2 L1370.0,48.5 L1371.5,48.8 L1373.0,49.1 L1374.5,49.5 L1376.0,49.9 L1377.5,50.3 L1379.0,50.7 L1380.5,51.1 L1382.0,51.6 L1383.5,52.0 L1385.0,52.5 L1386.5,53.1 L1388.0,53.6 L1389.5,54.2 L1391.0,54.8 L1392.5,55.4 L1394.0,56.1 L1395.5,56.7 L1397.0,57.4 L1398.5,58.1 L1400.0,58.8 L1401.5,59.6 L1403.0,60.4 L1404.5,61.2 L1406.0,62.0 L1407.5,62.8 L1409.0,63.6 L1410.5,64.5 L1412.0,65.4 L1413.5,66.3 L1415.0,67.2 L1416.5,68.1 L1418.0,69.1 L1419.5,70.0 L1421.0,71.0 L1422.5,72.0 L1424.0,73.0 L1425.5,74.0 L1427.0,75.0 L1428.5,76.1 L1430.0,77.1 L1431.5,78.2 L1433.0,79.3 L1434.5,80.3 L1436.0,81.4 L1437.5,82.5 L1439.0,83.7 L1440.5,84.8 L1442.0,85.9 L1443.5,87.0 L1445.0,88.2 L1446.5,89.3 L1448.0,90.5 L1449.5,91.6 L1451.0,92.8 L1452.5,94.0 L1454.0,95.2 L1455.5,96.3 L1457.0,97.5 L1458.5,98.7 L1460.0,99.9 L1461.5,101.1 L1463.0,102.3 L1464.5,103.4 L1466.0,104.6 L1467.5,105.8 L1469.0,107.0 L1470.5,108.1 L1472.0,109.3 L1473.5,110.4 L1475.0,111.6 L1476.5,112.7 L1478.0,113.8 L1479.5,115.0 L1481.0,116.1 L1482.5,117.2 L1484.0,118.2 L1485.5,119.3 L1487.0,120.3 L1488.5,121.4 L1490.0,122.4 L1491.5,123.4 L1493.0,124.4 L1494.5,125.3 L1496.0,126.3 L1497.5,127.2 L1499.0,128.1 L1500.5,128.9 L1502.0,129.8 L1503.5,130.6 L1505.0,131.4 L1506.5,132.2 L1508.0,132.9 L1509.5,133.6 L1511.0,134.3 L1512.5,134.9 L1514.0,135.6 L1515.5,136.2 L1517.0,136.7 L1518.5,137.2 L1520.0,137.7 L1521.5,138.1 L1523.0,138.6 L1524.5,138.9 L1526.0,139.3 L1527.5,139.6 L1529.0,139.9 L1530.5,140.1 L1532.0,140.3 L1533.5,140.5 L1535.0,140.7 L1536.5,140.9 L1538.0,141.0 L1539.5,141.1 L1541.0,141.2 L1542.5,141.3 L1544.0,141.3 L1545.5,141.4 L1547.0,141.4 L1548.5,141.4 L1550.0,141.4 L1551.5,141.5 L1553.0,141.5 L1554.5,141.5 L1556.0,141.5 L1557.5,141.4 L1559.0,141.4 L1560.5,141.4 L1562.0,141.4 L1563.5,141.4 L1565.0,141.5 L1566.5,141.5 L1568.0,141.5 L1569.5,141.5 L1571.0,141.6 L1572.5,141.7 L1574.0,141.7 L1575.5,141.8 L1577.0,142.0 L1578.5,142.1 L1580.0,142.3 L1581.5,142.4 L1583.0,142.7 L1584.5,142.9 L1586.0,143.2 L1587.5,143.4 L1589.0,143.8 L1590.5,144.1 L1592.0,144.5 L1593.5,144.9 L1594.0,145.1" fill="none" stroke="#a8561a" stroke-width="4.6" stroke-linejoin="round" stroke-linecap="round" clip-path="url(#tc)"/>
<rect x="37.5" y="38.2" width="508.5" height="134.0" fill="none" stroke="#000" stroke-width="2.9" stroke-dasharray="7.8,3.2"/>
<rect x="558.5" y="36" width="512.0" height="136" fill="none" stroke="#000" stroke-width="2.9" stroke-dasharray="7.8,3.2"/>
<rect x="1080" y="35.6" width="512.2" height="136.9" fill="none" stroke="#000" stroke-width="3.4" stroke-dasharray="10,4"/>
<line x1="154.8" y1="172.2" x2="154.8" y2="167.7" stroke="#000" stroke-width="2" stroke-linecap="butt"/>
<line x1="390" y1="172.2" x2="390" y2="167.7" stroke="#000" stroke-width="2" stroke-linecap="butt"/>
<line x1="272" y1="172.2" x2="272" y2="164.7" stroke="#000" stroke-width="2" stroke-linecap="butt"/>
<line x1="508.3" y1="172.2" x2="508.3" y2="164.7" stroke="#000" stroke-width="2" stroke-linecap="butt"/>
<line x1="669" y1="172" x2="669" y2="167.5" stroke="#000" stroke-width="2" stroke-linecap="butt"/>
<line x1="890.6" y1="172" x2="890.6" y2="167.5" stroke="#000" stroke-width="2" stroke-linecap="butt"/>
<line x1="779.2" y1="172" x2="779.2" y2="164.5" stroke="#000" stroke-width="2" stroke-linecap="butt"/>
<line x1="1000.1" y1="172" x2="1000.1" y2="164.5" stroke="#000" stroke-width="2" stroke-linecap="butt"/>
<line x1="1189" y1="172.5" x2="1189" y2="168.0" stroke="#000" stroke-width="2" stroke-linecap="butt"/>
<line x1="1409.4" y1="172.5" x2="1409.4" y2="168.0" stroke="#000" stroke-width="2" stroke-linecap="butt"/>
<line x1="1297.4" y1="172.5" x2="1297.4" y2="165.0" stroke="#000" stroke-width="2" stroke-linecap="butt"/>
<line x1="1517.8" y1="172.5" x2="1517.8" y2="165.0" stroke="#000" stroke-width="2" stroke-linecap="butt"/>
<text x="35.6" y="197.5" font-size="28.5" text-anchor="start">18</text>
<text x="259.7" y="197.5" font-size="28.5" text-anchor="start">21</text>
<text x="495.3" y="197.5" font-size="28.5" text-anchor="start">24</text>
<text x="547.5" y="197.5" font-size="28.5" text-anchor="start">18</text>
<text x="766.1" y="197.5" font-size="28.5" text-anchor="start">21</text>
<text x="990.1" y="197.5" font-size="28.5" text-anchor="start">24</text>
<text x="1072.9" y="197.5" font-size="28.5" text-anchor="start">18</text>
<text x="1285.0" y="197.5" font-size="28.5" text-anchor="start">21</text>
<text x="1506.4" y="197.5" font-size="28.5" text-anchor="start">24</text>
<text x="68" y="83.7" font-size="30.5" text-anchor="start">Peak value</text>
<text x="564" y="82" font-size="30.5" text-anchor="start">Peak value</text>
<text x="1083" y="78.7" font-size="30.5" text-anchor="start">Peak value</text>
<line x1="212.9" y1="43" x2="212.9" y2="93.0" stroke="#ea1a20" stroke-width="4.3" stroke-dasharray="7.5,4" stroke-linecap="butt"/>
<polygon points="212.9,105.0 206.4,93.0 219.4,93.0" fill="#ea1a20"/>
<line x1="703.2" y1="42" x2="703.2" y2="92.0" stroke="#ea1a20" stroke-width="4.3" stroke-dasharray="7.5,4" stroke-linecap="butt"/>
<polygon points="703.2,104.0 696.7,92.0 709.7,92.0" fill="#ea1a20"/>
<line x1="1219.2" y1="41" x2="1219.2" y2="91.0" stroke="#ea1a20" stroke-width="4.3" stroke-dasharray="7.5,4" stroke-linecap="butt"/>
<polygon points="1219.2,103.0 1212.7,91.0 1225.7,91.0" fill="#ea1a20"/>
<line x1="306.1" y1="49" x2="306.1" y2="74.0" stroke="#ea1a20" stroke-width="2.5" stroke-dasharray="5,3" stroke-linecap="butt"/>
<polygon points="306.1,82.0 302.1,74.0 310.1,74.0" fill="#ea1a20"/>
<line x1="300" y1="86.5" x2="280.1031770323575" y2="93.011687516683" stroke="#ea1a20" stroke-width="2.5" stroke-dasharray="5,3" stroke-linecap="butt"/>
<polygon points="272.5,95.5 278.9,89.2 281.3,96.8" fill="#ea1a20"/>
<line x1="272" y1="99" x2="291.23548856797936" y2="103.77325086686896" stroke="#ea1a20" stroke-width="2.5" stroke-dasharray="5,3" stroke-linecap="butt"/>
<polygon points="299.0,105.7 290.3,107.7 292.2,99.9" fill="#ea1a20"/>
<circle cx="306.1" cy="43.4" r="5.4" fill="#ff0a0a"/>
<circle cx="305.9" cy="88.3" r="5.4" fill="#ff0a0a"/>
<circle cx="264.5" cy="96.1" r="5.4" fill="#ff0a0a"/>
<circle cx="306.1" cy="106.4" r="5.4" fill="#ff0a0a"/>
<line x1="810.1" y1="40" x2="810.1" y2="70" stroke="#ff0a0a" stroke-width="3.5" stroke-linecap="butt"/>
<circle cx="810.1" cy="39.4" r="6" fill="#ff0a0a"/>
<circle cx="810.1" cy="55" r="6" fill="#ff0a0a"/>
<circle cx="810.1" cy="69.1" r="6" fill="#ff0a0a"/>
<circle cx="825.3" cy="76.5" r="6" fill="#ff0a0a"/>
<line x1="1296" y1="42" x2="1338.6500990562968" y2="61.98173932165089" stroke="#ea1a20" stroke-width="2.5" stroke-dasharray="6,4" stroke-linecap="butt"/>
<polygon points="1346.8,65.8 1336.7,66.1 1340.6,57.9" fill="#ea1a20"/>
<line x1="1344" y1="73" x2="1298.9754097901105" y2="76.3351548303622" stroke="#ea1a20" stroke-width="2.5" stroke-dasharray="6,4" stroke-linecap="butt"/>
<polygon points="1290.0,77.0 1298.6,71.8 1299.3,80.8" fill="#ea1a20"/>
<line x1="1285" y1="82" x2="1298.945944854033" y2="97.3405393394365" stroke="#ea1a20" stroke-width="2.5" stroke-dasharray="6,4" stroke-linecap="butt"/>
<polygon points="1305.0,104.0 1295.6,100.4 1302.3,94.3" fill="#ea1a20"/>
<circle cx="1290.7" cy="40.1" r="5.4" fill="#ff0a0a"/>
<circle cx="1281.8" cy="77.4" r="5.4" fill="#ff0a0a"/>
<circle cx="1309.3" cy="109.4" r="5.4" fill="#ff0a0a"/>
<circle cx="1350.2" cy="72.5" r="5.4" fill="#ff0a0a"/>
<path d="M38.0,616.0 C40.6,615.8 47.0,616.8 53.5,615.0 C60.0,613.2 69.7,608.0 76.8,605.3 C83.9,602.5 89.6,600.8 96.1,598.5 C102.5,596.2 109.0,594.0 115.5,591.7 C122.0,589.5 128.4,587.7 134.9,585.0 C141.4,582.3 147.8,578.0 154.3,575.3 C160.8,572.5 168.9,570.5 173.7,568.5 C178.5,566.5 180.1,565.7 183.3,563.6 C186.5,561.5 189.1,559.0 193.0,555.9 C196.9,552.8 203.1,549.5 206.6,545.2 C210.1,540.9 211.7,534.5 214.0,530.0 C216.3,525.5 218.2,518.9 220.2,518.1 C222.2,517.3 224.1,522.6 226.0,525.0 C227.9,527.4 228.0,529.0 231.8,532.6 C235.6,536.2 242.6,543.1 248.9,546.7 C255.2,550.3 262.8,552.1 269.7,554.0 C276.6,555.9 284.7,557.2 290.6,558.2 C296.5,559.2 300.7,559.2 305.2,560.3 C309.7,561.3 313.2,564.5 317.7,564.5 C322.2,564.5 327.1,562.4 332.3,560.3 C337.5,558.2 344.5,554.1 349.0,552.0 C353.5,549.9 355.2,548.3 359.4,547.8 C363.6,547.3 369.1,547.1 374.0,548.8 C378.9,550.5 384.1,557.9 388.6,558.2 C393.1,558.6 396.6,553.7 401.1,550.9 C405.6,548.1 411.2,542.7 415.7,541.5 C420.2,540.3 424.1,544.1 428.0,543.6 C431.9,543.1 435.4,540.3 439.4,538.4 C443.4,536.5 448.6,533.7 452.0,532.0 C455.4,530.3 457.6,530.7 460.0,528.0 C462.4,525.3 464.5,521.6 466.5,516.0 C468.5,510.4 470.5,502.7 471.8,494.2 C473.1,485.7 473.8,473.9 474.5,465.0 C475.2,456.1 475.4,451.3 475.9,440.5 C476.4,429.7 476.9,413.4 477.3,400.0 C477.8,386.6 478.1,376.7 478.6,360.0 C479.1,343.3 479.9,318.3 480.5,300.0 C481.1,281.7 481.8,263.0 482.5,250.0 C483.2,237.0 483.9,228.0 484.5,222.0 C485.1,216.0 485.7,213.9 486.3,213.9 C486.9,213.9 487.6,216.0 488.3,222.0 C489.0,228.0 489.6,237.0 490.3,250.0 C491.0,263.0 491.8,281.7 492.5,300.0 C493.2,318.3 494.0,343.3 494.7,360.0 C495.4,376.7 495.9,386.6 496.6,400.0 C497.3,413.4 498.1,428.8 498.7,440.5 C499.3,452.2 499.8,461.1 500.2,470.0 C500.6,478.9 500.9,486.7 501.4,494.2 C501.9,501.7 502.4,507.2 503.0,515.0 C503.6,522.8 504.3,533.3 504.9,541.2 C505.4,549.1 505.6,556.6 506.3,562.5 C507.0,568.4 507.5,571.9 509.1,576.6 C510.8,581.3 513.1,586.8 516.2,590.8 C519.3,594.8 524.0,598.2 527.5,600.7 C531.0,603.2 533.8,604.3 537.5,605.6 C541.2,606.9 547.9,607.9 550.0,608.4" fill="none" stroke="#4b4b4b" stroke-width="3.9" stroke-linejoin="round" stroke-linecap="round" clip-path="url(#ma)"/>
<path d="M38.0,616.0 C40.6,615.7 47.0,616.1 53.5,614.0 C60.0,611.9 69.7,606.5 76.8,603.6 C83.9,600.7 89.6,598.9 96.1,596.5 C102.5,594.1 109.0,591.8 115.5,589.5 C122.0,587.2 128.4,585.8 134.9,582.5 C141.4,579.2 149.5,572.1 154.3,569.5 C159.2,566.9 160.8,567.9 164.0,566.6 C167.2,565.3 170.5,563.7 173.7,561.7 C176.9,559.8 180.1,556.5 183.3,554.9 C186.5,553.3 189.1,554.1 193.0,552.0 C196.9,549.9 202.1,546.2 206.6,542.3 C211.1,538.4 216.0,530.0 220.2,528.8 C224.4,527.6 227.0,532.1 231.8,535.0 C236.6,537.9 242.6,543.2 248.9,546.0 C255.2,548.8 262.8,550.5 269.7,552.0 C276.6,553.5 283.7,554.3 290.6,555.0 C297.6,555.7 303.8,556.8 311.4,556.0 C319.0,555.2 328.4,552.2 336.4,550.0 C344.4,547.8 353.1,543.1 359.4,542.6 C365.7,542.1 369.1,544.8 374.0,547.0 C378.9,549.2 384.1,555.8 388.6,556.0 C393.1,556.2 396.6,550.7 401.1,548.0 C405.6,545.3 411.2,541.7 415.7,540.0 C420.2,538.3 423.9,538.7 428.0,538.0 C432.1,537.3 436.0,537.2 440.0,536.0 C444.0,534.8 449.0,533.0 452.0,531.0 C455.0,529.0 455.8,530.1 458.0,524.0 C460.2,517.9 463.0,503.6 465.1,494.2 C467.2,484.8 468.9,478.6 470.5,467.4 C472.1,456.2 473.5,439.2 474.5,427.1 C475.5,415.0 475.8,404.0 476.5,395.0 C477.2,386.0 477.8,377.7 478.5,373.0 C479.2,368.3 479.9,366.7 480.7,366.7 C481.4,366.7 482.0,367.4 483.0,373.0 C484.0,378.6 485.3,386.8 486.6,400.3 C487.9,413.8 489.0,438.4 490.6,454.0 C492.2,469.6 494.2,483.0 496.0,494.2 C497.8,505.4 499.9,513.4 501.4,521.0 C502.9,528.6 504.0,533.5 505.0,540.0 C506.0,546.5 506.6,554.0 507.5,560.0 C508.4,566.0 508.9,571.2 510.5,576.0 C512.1,580.8 513.7,584.9 517.0,589.0 C520.3,593.1 524.9,597.7 530.4,600.7 C535.9,603.7 546.7,606.0 550.0,607.0" fill="none" stroke="#ec3b44" stroke-width="3.9" stroke-linejoin="round" stroke-linecap="round" clip-path="url(#ma)"/>
<path d="M38.0,616.0 C41.2,615.0 50.9,613.2 57.4,610.0 C63.9,606.8 70.3,600.5 76.8,596.6 C83.2,592.8 89.6,589.5 96.1,586.9 C102.5,584.3 109.0,583.0 115.5,581.1 C122.0,579.2 128.4,578.0 134.9,575.3 C141.4,572.5 149.5,567.2 154.3,564.6 C159.2,562.0 160.8,560.9 164.0,559.8 C167.2,558.7 168.9,559.8 173.7,557.8 C178.5,555.8 187.5,550.9 193.0,548.1 C198.5,545.3 202.2,544.1 206.6,541.0 C211.0,537.9 215.0,530.5 219.2,529.7 C223.4,528.9 226.9,533.4 231.8,536.0 C236.8,538.6 242.6,542.9 248.9,545.5 C255.2,548.1 262.8,550.1 269.7,551.5 C276.6,552.9 283.7,553.2 290.6,554.0 C297.6,554.8 306.2,555.5 311.4,556.0 C316.6,556.5 317.6,557.7 321.8,557.0 C326.0,556.3 331.2,553.8 336.4,552.0 C341.6,550.2 348.6,546.8 353.1,546.0 C357.6,545.2 358.7,545.7 363.6,547.5 C368.5,549.3 377.1,557.1 382.3,557.0 C387.5,556.9 390.3,549.8 394.8,547.0 C399.3,544.2 403.9,542.4 409.4,540.5 C414.9,538.6 422.9,536.8 428.0,535.5 C433.1,534.2 436.3,535.9 440.0,533.0 C443.7,530.1 447.5,523.5 450.4,518.4 C453.2,513.3 454.9,510.8 457.1,502.3 C459.3,493.8 461.8,482.2 463.8,467.4 C465.8,452.6 467.8,427.1 469.2,413.7 C470.6,400.3 471.3,392.8 472.3,387.0 C473.3,381.2 474.2,379.0 475.1,378.8 C476.0,378.6 477.0,382.4 477.8,386.0 C478.6,389.6 478.9,391.2 479.9,400.3 C480.9,409.4 482.5,427.1 483.9,440.5 C485.2,453.9 486.4,469.6 488.0,480.8 C489.6,492.0 491.1,500.1 493.3,507.7 C495.5,515.3 499.4,521.7 501.4,526.4 C503.3,531.1 503.9,532.4 505.0,536.0 C506.1,539.6 506.3,542.7 507.7,548.3 C509.1,553.9 511.5,563.8 513.4,569.5 C515.3,575.2 516.8,578.3 519.1,582.3 C521.5,586.3 524.4,590.4 527.5,593.6 C530.6,596.8 533.8,599.5 537.5,601.4 C541.2,603.3 547.9,604.3 550.0,604.9" fill="none" stroke="#1f6bd1" stroke-width="3.9" stroke-linejoin="round" stroke-linecap="round" clip-path="url(#ma)"/>
<path d="M38.0,616.0 C39.6,615.5 44.5,614.6 47.7,613.0 C50.9,611.4 54.2,608.2 57.4,606.3 C60.6,604.4 63.5,603.7 67.1,601.4 C70.6,599.1 75.2,594.5 78.7,592.7 C82.2,590.9 84.5,592.6 88.4,590.8 C92.3,589.0 98.1,583.5 102.0,582.0 C105.9,580.5 107.7,582.4 111.6,581.5 C115.5,580.6 120.4,579.0 125.2,576.8 C130.1,574.6 136.5,570.5 140.7,568.5 C144.9,566.5 147.2,566.3 150.4,564.6 C153.6,562.9 156.2,560.0 160.1,558.2 C164.0,556.4 169.8,555.2 173.7,554.0 C177.6,552.8 179.1,552.6 183.3,551.0 C187.5,549.4 195.0,545.9 198.9,544.3 C202.8,542.7 203.4,543.5 206.6,541.4 C209.8,539.3 214.0,532.4 218.2,531.7 C222.4,531.1 228.4,536.0 231.8,537.5 C235.2,539.0 235.6,539.1 238.4,540.5 C241.2,541.9 245.4,544.5 248.9,545.7 C252.4,546.9 255.8,546.8 259.3,547.8 C262.8,548.8 265.5,551.8 269.7,552.0 C273.9,552.2 279.8,548.8 284.3,548.8 C288.8,548.8 292.3,551.0 296.8,552.0 C301.3,553.0 307.2,554.4 311.4,555.1 C315.6,555.8 317.6,556.6 321.8,556.1 C326.0,555.6 331.2,553.6 336.4,552.0 C341.6,550.4 348.6,547.4 353.1,546.7 C357.6,546.0 358.7,546.4 363.6,547.8 C368.5,549.2 377.1,555.3 382.3,555.1 C387.5,554.9 390.3,549.1 394.8,546.7 C399.3,544.3 405.2,541.9 409.4,540.5 C413.6,539.1 415.6,539.4 420.0,538.4 C424.4,537.4 430.9,537.4 435.5,534.5 C440.1,531.6 444.3,525.9 447.7,521.0 C451.1,516.1 453.0,511.7 455.7,505.0 C458.4,498.3 461.6,489.3 463.8,480.8 C466.1,472.3 467.8,460.3 469.2,454.0 C470.6,447.7 471.3,445.7 472.3,443.0 C473.3,440.3 474.2,437.9 475.1,437.9 C476.1,437.9 477.0,440.3 478.0,443.0 C479.0,445.7 479.8,447.7 481.2,454.0 C482.6,460.3 484.6,472.3 486.6,480.8 C488.6,489.3 490.6,497.8 493.3,505.0 C496.0,512.2 500.3,518.2 502.7,523.8 C505.1,529.4 505.9,532.9 507.7,538.4 C509.5,543.9 511.5,550.9 513.4,556.8 C515.3,562.7 516.8,569.3 519.1,573.8 C521.5,578.3 524.9,580.4 527.5,583.7 C530.1,587.0 532.2,590.9 534.6,593.6 C537.0,596.3 539.1,598.5 541.7,600.0 C544.3,601.5 548.6,602.3 550.0,602.8" fill="none" stroke="#3d9e66" stroke-width="3.9" stroke-linejoin="round" stroke-linecap="round" clip-path="url(#ma)"/>
<path d="M558.7,614.0 C560.6,612.8 566.3,608.4 569.8,606.6 C573.3,604.7 575.5,604.5 579.6,602.9 C583.7,601.3 590.3,598.2 594.4,596.8 C598.5,595.4 600.5,595.3 604.2,594.3 C607.9,593.3 612.4,592.0 616.5,590.6 C620.6,589.2 624.7,587.3 628.8,585.7 C632.9,584.1 637.0,582.4 641.1,580.8 C645.2,579.2 649.7,577.3 653.4,575.9 C657.1,574.5 659.9,572.6 663.2,572.2 C666.5,571.8 669.8,573.8 673.1,573.4 C676.4,573.0 679.6,570.7 682.9,569.7 C686.2,568.7 689.5,568.7 692.8,567.3 C696.1,565.9 698.9,563.6 702.6,561.1 C706.3,558.6 710.8,556.0 714.9,552.5 C719.0,549.0 723.9,544.3 727.2,540.2 C730.5,536.1 732.1,532.4 734.6,527.8 C737.1,523.1 739.5,512.3 742.0,512.3 C744.5,512.3 747.6,524.3 749.3,527.8 C751.0,531.3 750.6,531.1 752.3,533.3 C754.0,535.5 756.8,538.7 759.7,540.8 C762.6,542.9 765.8,544.1 769.5,545.8 C773.2,547.5 777.3,549.4 781.8,550.8 C786.3,552.2 791.3,553.2 796.6,554.3 C801.9,555.4 808.9,556.4 813.8,557.3 C818.7,558.2 822.0,558.6 826.1,559.9 C830.2,561.1 834.3,564.6 838.4,564.8 C842.5,565.0 846.6,562.5 850.7,561.1 C854.8,559.7 858.9,557.8 863.0,556.2 C867.1,554.6 871.6,552.3 875.3,551.3 C879.0,550.3 882.2,549.5 885.1,550.1 C888.0,550.7 889.6,554.0 892.5,555.0 C895.4,556.0 898.7,554.6 902.4,556.2 C906.1,557.8 911.0,564.4 914.7,564.8 C918.4,565.2 921.6,561.1 924.5,558.7 C927.4,556.2 929.3,552.3 931.9,550.1 C934.5,547.9 936.5,546.3 940.1,545.5 C943.7,544.7 949.7,545.5 953.6,545.5 C957.5,545.5 960.2,546.4 963.6,545.5 C967.0,544.6 970.3,542.6 973.7,540.4 C977.1,538.1 981.1,535.6 983.8,532.0 C986.5,528.4 987.9,525.3 989.7,518.6 C991.5,511.9 993.0,503.6 994.7,491.8 C996.4,480.1 998.3,463.4 999.7,448.1 C1001.1,432.8 1002.1,417.4 1002.9,400.0 C1003.7,382.6 1004.0,360.7 1004.6,344.0 C1005.2,327.3 1005.8,314.0 1006.4,300.0 C1007.1,286.0 1008.0,269.7 1008.5,260.0 C1009.0,250.3 1008.7,245.8 1009.2,241.9 C1009.7,238.1 1010.7,236.9 1011.4,236.9 C1012.1,236.9 1013.0,238.1 1013.6,241.9 C1014.2,245.8 1014.3,250.3 1014.8,260.0 C1015.3,269.7 1016.0,286.0 1016.5,300.0 C1017.0,314.0 1017.0,319.3 1017.8,344.0 C1018.6,368.7 1020.3,422.4 1021.5,448.1 C1022.7,473.9 1023.5,481.7 1024.9,498.5 C1026.3,515.3 1028.0,535.9 1029.9,548.8 C1031.9,561.7 1033.8,568.4 1036.6,575.7 C1039.4,583.0 1042.7,587.9 1046.7,592.4 C1050.8,596.9 1056.2,599.7 1060.9,602.5 C1065.6,605.3 1072.7,608.1 1075.0,609.2" fill="none" stroke="#9c0054" stroke-width="4.2" stroke-linejoin="round" stroke-linecap="round" clip-path="url(#mb)"/>
<path d="M558.7,618.4 C560.6,617.2 566.3,612.9 569.8,611.0 C573.3,609.1 575.5,608.9 579.6,607.3 C583.7,605.7 590.3,602.6 594.4,601.2 C598.5,599.8 600.5,599.7 604.2,598.7 C607.9,597.7 612.4,596.4 616.5,595.0 C620.6,593.6 624.7,591.7 628.8,590.1 C632.9,588.5 637.0,586.8 641.1,585.2 C645.2,583.6 649.7,581.7 653.4,580.3 C657.1,578.9 659.9,577.0 663.2,576.6 C666.5,576.2 669.8,578.2 673.1,577.8 C676.4,577.4 679.6,575.1 682.9,574.1 C686.2,573.1 689.5,573.1 692.8,571.7 C696.1,570.3 698.9,568.0 702.6,565.5 C706.3,563.0 710.8,560.4 714.9,556.9 C719.0,553.4 723.9,548.7 727.2,544.6 C730.5,540.5 732.1,536.4 734.6,532.2 C737.1,528.0 739.5,519.2 742.0,519.2 C744.5,519.2 747.6,529.1 749.3,532.2 C751.0,535.3 750.6,535.5 752.3,537.7 C754.0,539.9 756.8,543.1 759.7,545.2 C762.6,547.3 765.8,548.5 769.5,550.2 C773.2,551.9 777.3,553.8 781.8,555.2 C786.3,556.6 791.3,557.6 796.6,558.7 C801.9,559.8 808.9,560.8 813.8,561.7 C818.7,562.6 822.0,563.1 826.1,564.3 C830.2,565.6 834.3,569.0 838.4,569.2 C842.5,569.4 846.6,566.9 850.7,565.5 C854.8,564.1 858.9,562.2 863.0,560.6 C867.1,559.0 871.6,556.7 875.3,555.7 C879.0,554.7 882.2,553.9 885.1,554.5 C888.0,555.1 889.6,558.4 892.5,559.4 C895.4,560.4 898.7,559.0 902.4,560.6 C906.1,562.2 911.0,568.8 914.7,569.2 C918.4,569.6 921.6,565.6 924.5,563.1 C927.4,560.6 929.3,556.7 931.9,554.5 C934.5,552.3 936.5,550.7 940.1,549.9 C943.7,549.1 949.7,549.9 953.6,549.9 C957.5,549.9 960.2,550.8 963.6,549.9 C967.0,549.1 970.3,547.1 973.7,544.8 C977.1,542.6 980.9,540.0 983.8,536.4 C986.7,532.8 989.2,529.7 991.3,523.0 C993.4,516.3 994.6,507.9 996.3,496.2 C998.0,484.4 999.9,468.5 1001.3,452.5 C1002.7,436.5 1003.7,418.1 1004.5,400.0 C1005.3,381.9 1005.6,360.7 1006.2,344.0 C1006.8,327.3 1007.2,313.5 1008.0,300.0 C1008.8,286.5 1010.0,269.8 1010.8,262.8 C1011.6,255.8 1012.3,257.8 1013.0,257.8 C1013.7,257.8 1014.4,255.8 1015.2,262.8 C1016.1,269.8 1017.4,286.5 1018.1,300.0 C1018.8,313.5 1018.6,318.6 1019.4,344.0 C1020.2,369.4 1021.9,426.0 1023.1,452.5 C1024.3,479.0 1025.1,486.1 1026.5,502.9 C1027.9,519.7 1029.5,540.3 1031.5,553.2 C1033.5,566.1 1035.4,572.8 1038.2,580.1 C1041.0,587.4 1044.5,592.3 1048.3,596.8 C1052.1,601.3 1056.5,604.1 1060.9,606.9 C1065.4,609.7 1072.7,612.5 1075.0,613.6" fill="none" stroke="#a29e18" stroke-width="4.2" stroke-linejoin="round" stroke-linecap="round" clip-path="url(#mb)"/>
<path d="M558.7,615.4 C560.6,614.2 566.3,609.9 569.8,608.0 C573.3,606.1 575.5,605.9 579.6,604.3 C583.7,602.7 590.3,599.6 594.4,598.2 C598.5,596.8 600.5,596.7 604.2,595.7 C607.9,594.7 612.4,593.4 616.5,592.0 C620.6,590.6 624.7,588.7 628.8,587.1 C632.9,585.5 637.0,583.8 641.1,582.2 C645.2,580.6 649.7,578.7 653.4,577.3 C657.1,575.9 659.9,574.0 663.2,573.6 C666.5,573.2 669.8,575.2 673.1,574.8 C676.4,574.4 679.6,572.1 682.9,571.1 C686.2,570.1 689.5,570.1 692.8,568.7 C696.1,567.3 698.9,565.0 702.6,562.5 C706.3,560.0 710.8,557.4 714.9,553.9 C719.0,550.4 723.9,545.7 727.2,541.6 C730.5,537.5 732.1,533.0 734.6,529.2 C737.1,525.4 739.5,518.7 742.0,518.7 C744.5,518.7 747.6,526.5 749.3,529.2 C751.0,531.9 750.6,532.5 752.3,534.7 C754.0,536.9 756.8,540.1 759.7,542.2 C762.6,544.3 765.8,545.5 769.5,547.2 C773.2,548.9 777.3,550.8 781.8,552.2 C786.3,553.6 791.3,554.6 796.6,555.7 C801.9,556.8 808.9,557.8 813.8,558.7 C818.7,559.6 822.0,560.1 826.1,561.3 C830.2,562.6 834.3,566.0 838.4,566.2 C842.5,566.4 846.6,563.9 850.7,562.5 C854.8,561.1 858.9,559.2 863.0,557.6 C867.1,556.0 871.6,553.7 875.3,552.7 C879.0,551.7 882.2,550.9 885.1,551.5 C888.0,552.1 889.6,555.4 892.5,556.4 C895.4,557.4 898.7,556.0 902.4,557.6 C906.1,559.2 911.0,565.8 914.7,566.2 C918.4,566.6 921.6,562.6 924.5,560.1 C927.4,557.6 929.3,553.7 931.9,551.5 C934.5,549.3 936.5,547.7 940.1,546.9 C943.7,546.1 949.7,546.9 953.6,546.9 C957.5,546.9 960.2,547.8 963.6,546.9 C967.0,546.1 970.3,544.1 973.7,541.8 C977.1,539.6 981.0,537.0 983.8,533.4 C986.5,529.8 988.3,526.7 990.2,520.0 C992.1,513.3 993.5,504.9 995.2,493.2 C996.9,481.4 998.8,465.0 1000.2,449.5 C1001.6,434.0 1002.6,417.6 1003.4,400.0 C1004.2,382.4 1004.1,358.9 1005.1,344.0 C1006.1,329.1 1008.6,316.8 1009.7,310.4 C1010.8,304.0 1011.2,305.4 1011.9,305.4 C1012.6,305.4 1013.0,304.0 1014.1,310.4 C1015.2,316.8 1017.0,320.8 1018.3,344.0 C1019.6,367.2 1020.8,423.5 1022.0,449.5 C1023.2,475.5 1024.0,483.1 1025.4,499.9 C1026.8,516.7 1028.5,537.3 1030.4,550.2 C1032.4,563.1 1034.3,569.8 1037.1,577.1 C1039.9,584.4 1043.2,589.3 1047.2,593.8 C1051.2,598.3 1056.3,601.1 1060.9,603.9 C1065.5,606.7 1072.7,609.5 1075.0,610.6" fill="none" stroke="#1d6bd0" stroke-width="4.2" stroke-linejoin="round" stroke-linecap="round" clip-path="url(#mb)"/>
<path d="M558.7,616.8 C560.6,615.6 566.3,611.2 569.8,609.4 C573.3,607.5 575.5,607.3 579.6,605.7 C583.7,604.1 590.3,601.0 594.4,599.6 C598.5,598.2 600.5,598.1 604.2,597.1 C607.9,596.1 612.4,594.8 616.5,593.4 C620.6,592.0 624.7,590.1 628.8,588.5 C632.9,586.9 637.0,585.2 641.1,583.6 C645.2,582.0 649.7,580.1 653.4,578.7 C657.1,577.3 659.9,575.4 663.2,575.0 C666.5,574.6 669.8,576.6 673.1,576.2 C676.4,575.8 679.6,573.5 682.9,572.5 C686.2,571.5 689.5,571.5 692.8,570.1 C696.1,568.7 698.9,566.4 702.6,563.9 C706.3,561.4 710.8,558.8 714.9,555.3 C719.0,551.8 723.9,547.1 727.2,543.0 C730.5,538.9 732.1,534.0 734.6,530.6 C737.1,527.2 739.5,522.6 742.0,522.6 C744.5,522.6 747.6,528.4 749.3,530.6 C751.0,532.9 750.6,533.9 752.3,536.1 C754.0,538.3 756.8,541.5 759.7,543.6 C762.6,545.7 765.8,546.9 769.5,548.6 C773.2,550.3 777.3,552.2 781.8,553.6 C786.3,555.0 791.3,556.0 796.6,557.1 C801.9,558.2 808.9,559.2 813.8,560.1 C818.7,561.0 822.0,561.5 826.1,562.7 C830.2,564.0 834.3,567.4 838.4,567.6 C842.5,567.8 846.6,565.3 850.7,563.9 C854.8,562.5 858.9,560.6 863.0,559.0 C867.1,557.4 871.6,555.1 875.3,554.1 C879.0,553.1 882.2,552.3 885.1,552.9 C888.0,553.5 889.6,556.8 892.5,557.8 C895.4,558.8 898.7,557.4 902.4,559.0 C906.1,560.6 911.0,567.2 914.7,567.6 C918.4,568.0 921.6,564.0 924.5,561.5 C927.4,559.0 929.3,555.1 931.9,552.9 C934.5,550.7 936.5,549.1 940.1,548.3 C943.7,547.5 949.7,548.3 953.6,548.3 C957.5,548.3 960.2,549.2 963.6,548.3 C967.0,547.5 970.3,545.5 973.7,543.2 C977.1,541.0 980.9,538.4 983.8,534.8 C986.6,531.2 988.8,528.1 990.8,521.4 C992.8,514.7 994.1,506.4 995.8,494.6 C997.5,482.9 999.4,466.7 1000.8,450.9 C1002.2,435.1 1002.4,418.2 1004.0,400.0 C1005.6,381.8 1008.9,352.2 1010.3,341.7 C1011.7,331.1 1011.8,336.7 1012.5,336.7 C1013.2,336.7 1013.0,322.7 1014.7,341.7 C1016.4,360.7 1020.7,424.3 1022.6,450.9 C1024.5,477.5 1024.6,484.5 1026.0,501.3 C1027.4,518.1 1029.0,538.7 1031.0,551.6 C1033.0,564.5 1034.9,571.2 1037.7,578.5 C1040.5,585.8 1043.9,590.7 1047.8,595.2 C1051.7,599.7 1056.4,602.5 1060.9,605.3 C1065.4,608.1 1072.7,610.9 1075.0,612.0" fill="none" stroke="#34a872" stroke-width="4.2" stroke-linejoin="round" stroke-linecap="round" clip-path="url(#mb)"/>
<path d="M1081.0,619.0 C1084.1,618.5 1092.9,617.9 1099.6,616.2 C1106.3,614.5 1114.0,611.0 1121.2,608.6 C1128.4,606.2 1135.6,604.5 1142.8,602.1 C1150.0,599.8 1157.3,597.4 1164.5,594.5 C1171.7,591.6 1178.9,588.0 1186.1,584.8 C1193.3,581.6 1200.5,579.2 1207.7,575.1 C1214.9,571.0 1222.1,565.8 1229.3,560.0 C1236.5,554.2 1245.3,545.0 1250.9,540.5 C1256.5,536.0 1259.2,533.8 1262.8,533.0 C1266.4,532.2 1269.4,535.3 1272.5,535.8 C1275.6,536.3 1277.6,535.1 1281.2,536.2 C1284.8,537.4 1288.5,540.8 1294.1,542.7 C1299.7,544.6 1307.3,546.3 1315.0,547.5 C1322.7,548.7 1333.8,549.5 1340.0,550.0 C1346.2,550.5 1349.2,550.3 1352.5,550.5 C1355.8,550.7 1356.9,552.0 1360.0,551.3 C1363.1,550.5 1368.0,547.7 1371.3,546.0 C1374.6,544.3 1377.3,542.4 1380.0,541.0 C1382.7,539.6 1384.8,537.7 1387.5,537.5 C1390.2,537.3 1393.8,539.3 1396.3,540.0 C1398.8,540.7 1399.4,541.4 1402.5,541.9 C1405.6,542.4 1410.8,542.8 1415.0,543.1 C1419.2,543.4 1423.3,544.5 1427.5,543.8 C1431.7,543.1 1435.8,540.6 1440.0,538.8 C1444.2,537.0 1448.3,534.9 1452.5,533.1 C1456.7,531.3 1461.7,529.9 1465.0,528.1 C1468.3,526.3 1469.6,525.1 1472.5,522.5 C1475.4,519.9 1479.8,516.2 1482.5,512.5 C1485.2,508.8 1486.6,507.6 1488.8,500.0 C1491.0,492.4 1493.2,477.6 1495.4,467.1 C1497.6,456.6 1500.2,444.6 1502.1,436.9 C1503.9,429.2 1505.0,424.4 1506.5,421.0 C1508.0,417.6 1509.6,416.8 1511.1,416.8 C1512.6,416.8 1514.2,418.2 1515.5,421.0 C1516.8,423.8 1517.1,425.9 1518.9,433.6 C1520.7,441.3 1524.1,455.9 1526.5,467.1 C1528.9,478.3 1531.0,489.5 1533.5,500.7 C1536.0,511.9 1538.5,524.1 1541.5,534.2 C1544.5,544.3 1547.2,552.7 1551.5,561.1 C1555.8,569.5 1562.0,578.5 1567.5,584.6 C1573.0,590.8 1579.2,594.6 1584.3,598.0 C1589.4,601.4 1595.7,603.8 1598.0,605.0" fill="none" stroke="#0a0ca5" stroke-width="4.2" stroke-linejoin="round" stroke-linecap="round" clip-path="url(#mc)"/>
<path d="M1081.0,619.0 C1084.1,617.9 1092.9,614.8 1099.6,612.5 C1106.3,610.2 1114.0,607.8 1121.2,605.5 C1128.4,603.2 1135.6,601.0 1142.8,598.5 C1150.0,596.0 1157.3,593.2 1164.5,590.5 C1171.7,587.8 1178.9,585.3 1186.1,582.3 C1193.3,579.3 1200.5,576.5 1207.7,572.5 C1214.9,568.5 1223.5,563.0 1229.3,558.5 C1235.1,554.0 1238.7,549.1 1242.3,545.5 C1245.9,541.9 1248.0,539.8 1250.9,537.0 C1253.8,534.2 1257.0,530.6 1259.5,528.5 C1262.0,526.4 1263.9,524.8 1266.0,524.3 C1268.1,523.8 1270.0,524.8 1272.0,525.5 C1274.0,526.2 1275.8,527.1 1278.0,528.5 C1280.2,529.9 1282.8,532.0 1285.5,534.0 C1288.2,536.0 1291.3,538.8 1294.1,540.5 C1296.9,542.2 1299.0,542.7 1302.5,544.0 C1306.0,545.3 1310.8,547.4 1315.0,548.3 C1319.2,549.2 1323.3,549.0 1327.5,549.5 C1331.7,550.0 1335.8,550.8 1340.0,551.3 C1344.2,551.8 1349.2,552.1 1352.5,552.5 C1355.8,552.9 1356.9,554.3 1360.0,553.5 C1363.1,552.7 1368.0,549.5 1371.3,547.5 C1374.6,545.5 1377.3,543.2 1380.0,541.5 C1382.7,539.8 1384.8,537.7 1387.5,537.5 C1390.2,537.3 1393.4,539.2 1396.3,540.5 C1399.2,541.8 1401.9,543.8 1405.0,545.5 C1408.1,547.2 1412.3,550.0 1415.0,551.0 C1417.7,552.0 1418.8,551.6 1421.0,551.3 C1423.2,551.0 1424.8,550.5 1428.0,549.0 C1431.2,547.5 1435.9,544.1 1440.0,542.0 C1444.1,539.9 1448.3,538.1 1452.5,536.3 C1456.7,534.5 1461.9,532.5 1465.0,531.0 C1468.1,529.5 1469.3,529.3 1471.3,527.5 C1473.3,525.7 1475.3,522.5 1477.0,520.0 C1478.7,517.5 1479.6,516.7 1481.3,512.5 C1483.0,508.3 1484.9,503.4 1487.0,495.0 C1489.1,486.6 1491.9,476.7 1493.7,462.0 C1495.5,447.3 1496.4,423.6 1497.9,406.6 C1499.4,389.6 1501.1,372.6 1502.5,360.0 C1503.9,347.4 1505.0,337.6 1506.2,331.0 C1507.4,324.4 1508.6,320.2 1509.8,320.2 C1511.0,320.2 1512.2,324.4 1513.4,331.0 C1514.6,337.6 1515.9,347.4 1517.0,360.0 C1518.1,372.6 1519.0,389.9 1520.2,406.6 C1521.4,423.3 1522.7,444.4 1524.0,460.0 C1525.3,475.6 1526.7,487.7 1528.0,500.0 C1529.3,512.3 1530.2,521.6 1532.0,534.0 C1533.8,546.4 1536.4,564.4 1539.0,574.5 C1541.6,584.6 1543.2,589.6 1547.4,594.6 C1551.6,599.6 1558.6,602.2 1564.2,604.7 C1569.8,607.2 1575.4,608.4 1581.0,609.7 C1586.6,611.0 1595.2,612.0 1598.0,612.5" fill="none" stroke="#c638f2" stroke-width="4.2" stroke-linejoin="round" stroke-linecap="round" clip-path="url(#mc)"/>
<path d="M1081.0,619.0 C1084.1,617.8 1094.7,613.9 1099.6,612.0 C1104.5,610.1 1106.8,608.8 1110.4,607.5 C1114.0,606.2 1118.0,605.9 1121.2,604.5 C1124.5,603.1 1127.1,599.8 1129.9,598.9 C1132.7,598.0 1135.1,599.8 1138.0,599.0 C1140.9,598.2 1142.8,595.6 1147.2,594.1 C1151.6,592.6 1159.9,591.6 1164.5,589.8 C1169.1,587.9 1171.4,584.7 1175.0,583.0 C1178.6,581.3 1182.4,580.4 1186.1,579.4 C1189.8,578.4 1193.4,578.8 1197.0,577.0 C1200.6,575.2 1204.2,570.8 1207.7,568.6 C1211.2,566.4 1214.4,566.1 1218.0,564.0 C1221.6,561.9 1226.3,558.8 1229.3,556.0 C1232.3,553.2 1233.8,550.3 1236.0,547.0 C1238.2,543.7 1239.8,540.2 1242.3,536.2 C1244.8,532.2 1248.6,526.6 1250.9,523.2 C1253.2,519.8 1254.0,517.6 1256.0,516.0 C1258.0,514.4 1260.5,513.8 1262.8,513.5 C1265.1,513.2 1267.7,513.6 1270.0,514.5 C1272.3,515.4 1275.0,516.8 1276.8,518.9 C1278.6,521.0 1279.5,524.1 1281.0,527.0 C1282.5,529.9 1283.3,533.7 1285.5,536.2 C1287.7,538.7 1291.3,540.4 1294.1,542.0 C1296.9,543.6 1299.0,544.5 1302.5,546.0 C1306.0,547.5 1310.8,549.7 1315.0,551.0 C1319.2,552.3 1323.3,553.0 1327.5,553.8 C1331.7,554.5 1335.4,554.8 1340.0,555.5 C1344.6,556.2 1351.3,557.9 1355.0,558.1 C1358.7,558.3 1359.3,557.8 1362.0,556.5 C1364.7,555.2 1368.3,552.4 1371.3,550.5 C1374.3,548.6 1377.3,546.6 1380.0,545.0 C1382.7,543.4 1384.8,540.8 1387.5,541.0 C1390.2,541.2 1393.4,545.0 1396.3,546.3 C1399.2,547.6 1401.9,547.6 1405.0,549.0 C1408.1,550.4 1411.9,553.2 1415.0,554.5 C1418.1,555.8 1420.7,557.4 1423.8,557.0 C1426.9,556.6 1430.0,554.3 1433.8,552.0 C1437.5,549.7 1443.2,545.0 1446.3,543.0 C1449.4,541.0 1449.9,540.6 1452.5,540.0 C1455.1,539.4 1459.1,539.7 1462.0,539.5 C1464.9,539.3 1467.4,540.2 1470.0,538.8 C1472.6,537.4 1475.0,535.3 1477.5,531.3 C1480.0,527.3 1482.9,521.0 1485.0,515.0 C1487.1,508.9 1488.4,500.7 1490.0,495.0 C1491.6,489.3 1492.8,490.2 1494.5,481.0 C1496.2,471.8 1498.5,452.4 1500.0,440.0 C1501.5,427.6 1502.5,425.1 1503.5,406.6 C1504.5,388.1 1505.2,351.8 1506.2,329.0 C1507.2,306.2 1508.5,285.7 1509.5,270.0 C1510.5,254.3 1511.5,243.0 1512.5,235.0 C1513.5,227.0 1514.6,221.9 1515.7,221.9 C1516.8,221.9 1518.0,227.0 1519.0,235.0 C1520.0,243.0 1520.8,254.3 1521.5,270.0 C1522.2,285.7 1522.5,310.7 1523.2,329.0 C1524.0,347.3 1525.2,367.1 1526.0,380.0 C1526.8,392.9 1527.3,393.3 1528.0,406.6 C1528.7,419.9 1529.2,442.8 1530.0,460.0 C1530.8,477.2 1532.0,495.7 1533.0,510.0 C1534.0,524.3 1534.9,534.8 1536.0,546.0 C1537.1,557.2 1537.6,568.3 1539.5,577.0 C1541.4,585.7 1543.3,592.8 1547.4,598.0 C1551.5,603.2 1558.6,605.6 1564.2,608.0 C1569.8,610.4 1575.4,611.2 1581.0,612.5 C1586.6,613.8 1595.2,615.4 1598.0,616.0" fill="none" stroke="#a8561a" stroke-width="4.4" stroke-linejoin="round" stroke-linecap="round" clip-path="url(#mc)"/>
<path d="M1081.0,619.0 C1084.1,617.8 1092.9,614.1 1099.6,611.8 C1106.3,609.4 1114.0,607.2 1121.2,604.9 C1128.4,602.6 1135.6,600.3 1142.8,597.8 C1150.0,595.3 1157.3,592.5 1164.5,589.8 C1171.7,587.1 1178.9,584.6 1186.1,581.6 C1193.3,578.6 1200.5,575.9 1207.7,571.9 C1214.9,567.9 1223.5,562.3 1229.3,557.8 C1235.1,553.3 1238.7,548.4 1242.3,544.8 C1245.9,541.2 1248.0,539.2 1250.9,536.2 C1253.8,533.2 1256.6,528.7 1259.5,526.5 C1262.4,524.3 1265.3,523.2 1268.2,523.2 C1271.1,523.2 1273.9,524.7 1276.8,526.5 C1279.7,528.3 1282.6,531.7 1285.5,534.0 C1288.4,536.3 1291.3,538.8 1294.1,540.5 C1296.9,542.2 1299.0,543.0 1302.5,544.4 C1306.0,545.8 1310.8,547.9 1315.0,548.8 C1319.2,549.7 1323.3,549.5 1327.5,550.0 C1331.7,550.5 1335.8,551.4 1340.0,551.9 C1344.2,552.4 1349.2,552.6 1352.5,553.1 C1355.8,553.6 1356.9,555.7 1360.0,555.0 C1363.1,554.3 1368.0,550.9 1371.3,548.8 C1374.6,546.7 1377.3,544.3 1380.0,542.5 C1382.7,540.7 1384.8,538.3 1387.5,538.1 C1390.2,537.9 1393.4,539.9 1396.3,541.3 C1399.2,542.7 1401.9,544.4 1405.0,546.3 C1408.1,548.2 1411.9,551.0 1415.0,552.5 C1418.1,554.0 1420.7,555.4 1423.8,555.0 C1426.9,554.6 1430.0,552.3 1433.8,550.0 C1437.5,547.7 1442.1,543.4 1446.3,541.3 C1450.5,539.2 1454.6,539.0 1458.8,537.5 C1463.0,536.0 1467.8,535.0 1471.3,532.5 C1474.8,530.0 1477.3,527.1 1480.0,522.5 C1482.7,517.9 1485.2,512.9 1487.5,505.0 C1489.8,497.1 1492.0,485.8 1494.0,475.0 C1496.0,464.2 1497.9,451.4 1499.5,440.0 C1501.1,428.6 1502.3,425.1 1503.8,406.6 C1505.3,388.1 1507.0,348.4 1508.3,329.0 C1509.6,309.6 1510.4,299.4 1511.5,290.0 C1512.6,280.6 1513.8,272.6 1514.9,272.6 C1516.0,272.6 1517.2,280.6 1518.3,290.0 C1519.4,299.4 1520.6,315.7 1521.7,329.0 C1522.8,342.3 1523.7,357.1 1524.7,370.0 C1525.7,382.9 1526.9,391.6 1527.7,406.6 C1528.5,421.6 1529.0,442.8 1529.8,460.0 C1530.6,477.2 1531.5,495.8 1532.5,510.0 C1533.5,524.2 1534.8,534.1 1536.0,545.0 C1537.2,555.9 1537.6,567.1 1539.5,575.5 C1541.4,583.9 1543.3,590.6 1547.4,595.6 C1551.5,600.6 1558.6,603.2 1564.2,605.7 C1569.8,608.2 1575.4,609.3 1581.0,610.7 C1586.6,612.1 1595.2,613.5 1598.0,614.0" fill="none" stroke="#0f7f5c" stroke-width="4.4" stroke-linejoin="round" stroke-linecap="round" clip-path="url(#mc)"/>
<rect x="38" y="203.7" width="511" height="411.7" fill="none" stroke="#000" stroke-width="3.2"/>
<rect x="558.5" y="203.7" width="516.0" height="414.3" fill="none" stroke="#000" stroke-width="3.2"/>
<rect x="1081" y="203.7" width="516" height="414.50000000000006" fill="none" stroke="#000" stroke-width="3.2"/>
<line x1="123.16666666666667" y1="615.4" x2="123.16666666666667" y2="607.4" stroke="#000" stroke-width="2.4" stroke-linecap="butt"/>
<line x1="293.5" y1="615.4" x2="293.5" y2="607.4" stroke="#000" stroke-width="2.4" stroke-linecap="butt"/>
<line x1="463.83333333333337" y1="615.4" x2="463.83333333333337" y2="607.4" stroke="#000" stroke-width="2.4" stroke-linecap="butt"/>
<line x1="208.33333333333334" y1="615.4" x2="208.33333333333334" y2="600.4" stroke="#000" stroke-width="2.4" stroke-linecap="butt"/>
<line x1="378.6666666666667" y1="615.4" x2="378.6666666666667" y2="600.4" stroke="#000" stroke-width="2.4" stroke-linecap="butt"/>
<line x1="644.5" y1="618" x2="644.5" y2="610" stroke="#000" stroke-width="2.4" stroke-linecap="butt"/>
<line x1="816.5" y1="618" x2="816.5" y2="610" stroke="#000" stroke-width="2.4" stroke-linecap="butt"/>
<line x1="988.5" y1="618" x2="988.5" y2="610" stroke="#000" stroke-width="2.4" stroke-linecap="butt"/>
<line x1="730.5" y1="618" x2="730.5" y2="603" stroke="#000" stroke-width="2.4" stroke-linecap="butt"/>
<line x1="902.5" y1="618" x2="902.5" y2="603" stroke="#000" stroke-width="2.4" stroke-linecap="butt"/>
<line x1="1167.0" y1="618.2" x2="1167.0" y2="610.2" stroke="#000" stroke-width="2.4" stroke-linecap="butt"/>
<line x1="1339.0" y1="618.2" x2="1339.0" y2="610.2" stroke="#000" stroke-width="2.4" stroke-linecap="butt"/>
<line x1="1511.0" y1="618.2" x2="1511.0" y2="610.2" stroke="#000" stroke-width="2.4" stroke-linecap="butt"/>
<line x1="1253.0" y1="618.2" x2="1253.0" y2="603.2" stroke="#000" stroke-width="2.4" stroke-linecap="butt"/>
<line x1="1425.0" y1="618.2" x2="1425.0" y2="603.2" stroke="#000" stroke-width="2.4" stroke-linecap="butt"/>
<text x="30.799999999999997" y="643" font-size="29.5" text-anchor="start">0</text>
<text x="188.7" y="643" font-size="29.5" text-anchor="start">20</text>
<text x="359.0" y="643" font-size="29.5" text-anchor="start">40</text>
<text x="507.8" y="643" font-size="29.5" text-anchor="start">60</text>
<text x="559.5" y="643" font-size="29.5" text-anchor="start">0</text>
<text x="710.0" y="643" font-size="29.5" text-anchor="start">20</text>
<text x="878.0" y="643" font-size="29.5" text-anchor="start">40</text>
<text x="1040.1" y="643" font-size="29.5" text-anchor="start">60</text>
<text x="1080.5" y="643" font-size="29.5" text-anchor="start">0</text>
<text x="1235.7" y="643" font-size="29.5" text-anchor="start">20</text>
<text x="1407.8" y="643" font-size="29.5" text-anchor="start">40</text>
<text x="1568.1" y="643" font-size="29.5" text-anchor="start">60</text>
<text x="235.1" y="663.5" font-size="30" text-anchor="start" font-style="italic">&#969;</text>
<text x="268.5" y="663.5" font-size="32" text-anchor="start">(THz)</text>
<text x="756" y="663.5" font-size="30" text-anchor="start" font-style="italic">&#969;</text>
<text x="789.4" y="663.5" font-size="32" text-anchor="start">(THz)</text>
<text x="1281.7" y="663.5" font-size="30" text-anchor="start" font-style="italic">&#969;</text>
<text x="1315" y="663.5" font-size="32" text-anchor="start">(THz)</text>
<text x="0" y="0" font-size="31" textLength="148" lengthAdjust="spacingAndGlyphs" transform="translate(23.2,465.5) rotate(-90)">PDOS(a.u.)</text>
<path d="M54.5,457.5 L56.0,457.5 L57.5,457.4 L59.0,457.4 L60.5,457.3 L62.0,457.3 L63.5,457.3 L65.0,457.3 L66.5,457.3 L68.0,457.2 L69.5,457.2 L71.0,457.2 L72.5,457.2 L74.0,457.2 L75.5,457.2 L77.0,457.2 L78.5,457.2 L80.0,457.2 L81.5,457.2 L83.0,457.2 L84.5,457.2 L86.0,457.3 L87.5,457.3 L89.0,457.3 L90.5,457.3 L92.0,457.3 L93.5,457.3 L95.0,457.3 L96.5,457.3 L98.0,457.4 L99.5,457.4 L101.0,457.4 L102.5,457.4 L104.0,457.4 L105.5,457.4 L107.0,457.4 L108.5,457.4 L110.0,457.4 L111.5,457.4 L113.0,457.4 L114.5,457.4 L116.0,457.4 L117.5,457.4 L119.0,457.4 L120.5,457.4 L122.0,457.4 L123.5,457.3 L125.0,457.3 L126.5,457.3 L128.0,457.2 L129.5,457.2 L131.0,457.2 L132.5,457.1 L134.0,457.1 L135.5,457.0 L137.0,456.9 L138.5,456.9 L140.0,456.8 L141.5,456.7 L143.0,456.6 L144.5,456.5 L146.0,456.4 L147.5,456.3 L149.0,456.2 L150.5,456.1 L152.0,456.0 L153.5,455.8 L155.0,455.7 L156.5,455.5 L158.0,455.4 L159.5,455.2 L161.0,455.0 L162.5,454.9 L164.0,454.7 L165.5,454.5 L167.0,454.2 L168.5,454.0 L170.0,453.8 L171.5,453.5 L173.0,453.3 L174.5,453.0 L176.0,452.7 L177.5,452.3 L179.0,452.0 L180.5,451.6 L182.0,451.2 L183.5,450.8 L185.0,450.3 L186.5,449.8 L188.0,449.3 L189.5,448.8 L191.0,448.2 L192.5,447.6 L194.0,446.9 L195.5,446.3 L197.0,445.5 L198.5,444.8 L200.0,444.0 L201.5,443.2 L203.0,442.3 L204.5,441.3 L206.0,440.4 L207.5,439.4 L209.0,438.3 L210.5,437.2 L212.0,436.0 L213.5,434.8 L215.0,433.5 L216.5,432.2 L218.0,430.8 L219.5,429.3 L221.0,427.8 L222.5,426.2 L224.0,424.6 L225.5,422.9 L227.0,421.1 L228.5,419.2 L230.0,417.3 L231.5,415.3 L233.0,413.3 L234.5,411.1 L236.0,408.9 L237.5,406.6 L239.0,404.2 L240.5,401.7 L242.0,399.2 L243.5,396.6 L245.0,393.9 L246.5,391.2 L248.0,388.4 L249.5,385.7 L251.0,382.8 L252.5,380.0 L254.0,377.2 L255.5,374.3 L257.0,371.5 L258.5,368.6 L260.0,365.8 L261.5,363.0 L263.0,360.2 L264.5,357.4 L266.0,354.7 L267.5,352.0 L269.0,349.3 L270.5,346.7 L272.0,344.2 L273.5,341.7 L275.0,339.2 L276.5,336.8 L278.0,334.5 L279.5,332.3 L281.0,330.2 L282.5,328.1 L284.0,326.2 L285.5,324.3 L287.0,322.5 L288.5,320.9 L290.0,319.3 L291.5,317.9 L293.0,316.6 L294.5,315.3 L296.0,314.2 L297.5,313.3 L299.0,312.4 L300.5,311.7 L302.0,311.1 L303.5,310.7 L305.0,310.4 L306.5,310.2 L308.0,310.2 L309.5,310.3 L311.0,310.6 L312.5,311.0 L314.0,311.6 L315.5,312.4 L317.0,313.3 L318.5,314.4 L320.0,315.6 L321.5,317.0 L323.0,318.5 L324.5,320.2 L326.0,322.1 L327.5,324.0 L329.0,326.1 L330.5,328.3 L332.0,330.6 L333.5,333.0 L335.0,335.5 L336.5,338.1 L338.0,340.7 L339.5,343.5 L341.0,346.3 L342.5,349.1 L344.0,352.0 L345.5,355.0 L347.0,357.9 L348.5,361.0 L350.0,364.0 L351.5,367.1 L353.0,370.2 L354.5,373.3 L356.0,376.3 L357.5,379.4 L359.0,382.5 L360.5,385.6 L362.0,388.6 L363.5,391.6 L365.0,394.6 L366.5,397.5 L368.0,400.4 L369.5,403.2 L371.0,405.9 L372.5,408.6 L374.0,411.2 L375.5,413.8 L377.0,416.2 L378.5,418.6 L380.0,420.9 L381.5,423.1 L383.0,425.2 L384.5,427.3 L386.0,429.3 L387.5,431.3 L389.0,433.2 L390.5,435.1 L392.0,437.0 L393.5,438.8 L395.0,440.7 L396.5,442.5 L398.0,444.3 L399.5,446.1 L401.0,448.0 L402.3,449.6" fill="none" stroke="#4b4b4b" stroke-width="4.2" stroke-linejoin="round" stroke-linecap="round" clip-path="url(#ia)"/>
<path d="M54.5,457.6 L56.0,457.3 L57.5,457.1 L59.0,456.9 L60.5,456.6 L62.0,456.4 L63.5,456.2 L65.0,456.0 L66.5,455.8 L68.0,455.7 L69.5,455.5 L71.0,455.4 L72.5,455.2 L74.0,455.1 L75.5,454.9 L77.0,454.8 L78.5,454.7 L80.0,454.5 L81.5,454.4 L83.0,454.3 L84.5,454.2 L86.0,454.1 L87.5,454.0 L89.0,453.9 L90.5,453.8 L92.0,453.7 L93.5,453.6 L95.0,453.5 L96.5,453.4 L98.0,453.3 L99.5,453.1 L101.0,453.0 L102.5,452.9 L104.0,452.8 L105.5,452.7 L107.0,452.5 L108.5,452.4 L110.0,452.2 L111.5,452.1 L113.0,451.9 L114.5,451.7 L116.0,451.6 L117.5,451.4 L119.0,451.2 L120.5,451.0 L122.0,450.7 L123.5,450.5 L125.0,450.3 L126.5,450.0 L128.0,449.7 L129.5,449.4 L131.0,449.1 L132.5,448.8 L134.0,448.5 L135.5,448.1 L137.0,447.8 L138.5,447.4 L140.0,447.0 L141.5,446.6 L143.0,446.1 L144.5,445.7 L146.0,445.2 L147.5,444.7 L149.0,444.2 L150.5,443.6 L152.0,443.1 L153.5,442.5 L155.0,441.9 L156.5,441.2 L158.0,440.6 L159.5,439.9 L161.0,439.1 L162.5,438.4 L164.0,437.6 L165.5,436.8 L167.0,436.0 L168.5,435.2 L170.0,434.3 L171.5,433.4 L173.0,432.5 L174.5,431.6 L176.0,430.6 L177.5,429.6 L179.0,428.6 L180.5,427.6 L182.0,426.5 L183.5,425.4 L185.0,424.4 L186.5,423.2 L188.0,422.1 L189.5,421.0 L191.0,419.8 L192.5,418.6 L194.0,417.4 L195.5,416.2 L197.0,415.0 L198.5,413.8 L200.0,412.5 L201.5,411.3 L203.0,410.1 L204.5,408.8 L206.0,407.6 L207.5,406.4 L209.0,405.2 L210.5,404.0 L212.0,402.9 L213.5,401.8 L215.0,400.7 L216.5,399.6 L218.0,398.5 L219.5,397.5 L221.0,396.4 L222.5,395.4 L224.0,394.5 L225.5,393.5 L227.0,392.6 L228.5,391.7 L230.0,390.9 L231.5,390.1 L233.0,389.3 L234.5,388.5 L236.0,387.7 L237.5,387.0 L239.0,386.4 L240.5,385.7 L242.0,385.1 L243.5,384.5 L245.0,384.0 L246.5,383.5 L248.0,383.0 L249.5,382.6 L251.0,382.1 L252.5,381.8 L254.0,381.5 L255.5,381.2 L257.0,380.9 L258.5,380.7 L260.0,380.5 L261.5,380.4 L263.0,380.3 L264.5,380.3 L266.0,380.3 L267.5,380.3 L269.0,380.4 L270.5,380.5 L272.0,380.7 L273.5,380.9 L275.0,381.2 L276.5,381.5 L278.0,381.9 L279.5,382.3 L281.0,382.7 L282.5,383.2 L284.0,383.8 L285.5,384.3 L287.0,384.9 L288.5,385.6 L290.0,386.2 L291.5,387.0 L293.0,387.7 L294.5,388.5 L296.0,389.3 L297.5,390.1 L299.0,391.0 L300.5,391.9 L302.0,392.8 L303.5,393.8 L305.0,394.8 L306.5,395.8 L308.0,396.8 L309.5,397.8 L311.0,398.9 L312.5,400.0 L314.0,401.1 L315.5,402.2 L317.0,403.3 L318.5,404.4 L320.0,405.6 L321.5,406.8 L323.0,408.0 L324.5,409.2 L326.0,410.4 L327.5,411.6 L329.0,412.8 L330.5,414.0 L332.0,415.2 L333.5,416.4 L335.0,417.7 L336.5,418.9 L338.0,420.1 L339.5,421.4 L341.0,422.6 L342.5,423.8 L344.0,425.0 L345.5,426.2 L347.0,427.4 L348.5,428.6 L350.0,429.8 L351.5,431.0 L353.0,432.2 L354.5,433.3 L356.0,434.5 L357.5,435.6 L359.0,436.7 L360.5,437.8 L362.0,438.9 L363.5,439.9 L365.0,441.0 L366.5,442.0 L368.0,442.9 L369.5,443.9 L371.0,444.9 L372.5,445.8 L374.0,446.7 L375.5,447.5 L377.0,448.3 L378.5,449.1 L380.0,449.9 L381.5,450.6 L383.0,451.3 L384.5,452.0 L386.0,452.6 L387.5,453.2 L389.0,453.8 L390.5,454.3 L392.0,454.7 L393.5,455.2 L395.0,455.5 L396.5,455.9 L398.0,456.2 L399.5,456.4 L401.0,456.6 L402.3,456.8" fill="none" stroke="#ec3b44" stroke-width="4.2" stroke-linejoin="round" stroke-linecap="round" clip-path="url(#ia)"/>
<path d="M54.5,455.6 L56.0,455.8 L57.5,456.0 L59.0,456.1 L60.5,456.2 L62.0,456.3 L63.5,456.4 L65.0,456.4 L66.5,456.5 L68.0,456.4 L69.5,456.4 L71.0,456.3 L72.5,456.2 L74.0,456.1 L75.5,456.0 L77.0,455.8 L78.5,455.6 L80.0,455.4 L81.5,455.1 L83.0,454.8 L84.5,454.5 L86.0,454.2 L87.5,453.9 L89.0,453.5 L90.5,453.1 L92.0,452.7 L93.5,452.3 L95.0,451.8 L96.5,451.4 L98.0,450.9 L99.5,450.4 L101.0,449.8 L102.5,449.3 L104.0,448.7 L105.5,448.1 L107.0,447.5 L108.5,446.9 L110.0,446.3 L111.5,445.6 L113.0,445.0 L114.5,444.3 L116.0,443.6 L117.5,442.9 L119.0,442.2 L120.5,441.4 L122.0,440.7 L123.5,439.9 L125.0,439.1 L126.5,438.4 L128.0,437.6 L129.5,436.7 L131.0,435.9 L132.5,435.1 L134.0,434.2 L135.5,433.4 L137.0,432.5 L138.5,431.6 L140.0,430.8 L141.5,429.9 L143.0,429.0 L144.5,428.1 L146.0,427.2 L147.5,426.3 L149.0,425.3 L150.5,424.4 L152.0,423.5 L153.5,422.5 L155.0,421.6 L156.5,420.6 L158.0,419.7 L159.5,418.7 L161.0,417.8 L162.5,416.8 L164.0,415.8 L165.5,414.9 L167.0,413.9 L168.5,412.9 L170.0,412.0 L171.5,411.0 L173.0,410.0 L174.5,409.1 L176.0,408.1 L177.5,407.1 L179.0,406.2 L180.5,405.2 L182.0,404.3 L183.5,403.4 L185.0,402.4 L186.5,401.5 L188.0,400.6 L189.5,399.7 L191.0,398.8 L192.5,398.0 L194.0,397.1 L195.5,396.3 L197.0,395.5 L198.5,394.7 L200.0,394.0 L201.5,393.2 L203.0,392.5 L204.5,391.8 L206.0,391.2 L207.5,390.6 L209.0,390.0 L210.5,389.4 L212.0,388.9 L213.5,388.4 L215.0,388.0 L216.5,387.5 L218.0,387.2 L219.5,386.8 L221.0,386.5 L222.5,386.3 L224.0,386.1 L225.5,385.9 L227.0,385.8 L228.5,385.8 L230.0,385.8 L231.5,385.8 L233.0,385.9 L234.5,386.1 L236.0,386.3 L237.5,386.5 L239.0,386.8 L240.5,387.2 L242.0,387.6 L243.5,388.0 L245.0,388.5 L246.5,389.1 L248.0,389.6 L249.5,390.3 L251.0,390.9 L252.5,391.6 L254.0,392.4 L255.5,393.2 L257.0,394.0 L258.5,394.8 L260.0,395.7 L261.5,396.6 L263.0,397.5 L264.5,398.5 L266.0,399.5 L267.5,400.5 L269.0,401.5 L270.5,402.6 L272.0,403.6 L273.5,404.7 L275.0,405.8 L276.5,407.0 L278.0,408.1 L279.5,409.3 L281.0,410.4 L282.5,411.6 L284.0,412.8 L285.5,414.0 L287.0,415.2 L288.5,416.4 L290.0,417.6 L291.5,418.8 L293.0,420.0 L294.5,421.2 L296.0,422.4 L297.5,423.6 L299.0,424.8 L300.5,426.0 L302.0,427.2 L303.5,428.4 L305.0,429.5 L306.5,430.7 L308.0,431.8 L309.5,433.0 L311.0,434.1 L312.5,435.2 L314.0,436.2 L315.5,437.3 L317.0,438.3 L318.5,439.3 L320.0,440.3 L321.5,441.3 L323.0,442.2 L324.5,443.1 L326.0,444.0 L327.5,444.8 L329.0,445.6 L330.5,446.4 L332.0,447.1 L333.5,447.9 L335.0,448.5 L336.5,449.2 L338.0,449.8 L339.5,450.4 L341.0,451.0 L342.5,451.5 L344.0,452.1 L345.5,452.5 L347.0,453.0 L348.5,453.4 L350.0,453.9 L351.5,454.3 L353.0,454.6 L354.5,455.0 L356.0,455.3 L357.5,455.6 L359.0,455.9 L360.5,456.2 L362.0,456.4 L363.5,456.6 L365.0,456.9 L366.5,457.1 L368.0,457.2 L369.5,457.4 L371.0,457.5 L372.5,457.7 L374.0,457.8 L375.5,457.9 L377.0,458.0 L378.5,458.1 L380.0,458.1 L381.5,458.2 L383.0,458.2 L384.5,458.3 L386.0,458.3 L387.5,458.3 L389.0,458.3 L390.5,458.3 L392.0,458.3 L393.5,458.3 L395.0,458.3 L396.5,458.3 L398.0,458.3 L399.5,458.2 L401.0,458.2 L402.3,458.2" fill="none" stroke="#1f6bd1" stroke-width="4.2" stroke-linejoin="round" stroke-linecap="round" clip-path="url(#ia)"/>
<path d="M54.5,455.7 L56.0,455.7 L57.5,455.7 L59.0,455.7 L60.5,455.7 L62.0,455.7 L63.5,455.6 L65.0,455.5 L66.5,455.5 L68.0,455.4 L69.5,455.2 L71.0,455.1 L72.5,455.0 L74.0,454.8 L75.5,454.7 L77.0,454.5 L78.5,454.3 L80.0,454.1 L81.5,453.9 L83.0,453.6 L84.5,453.4 L86.0,453.1 L87.5,452.9 L89.0,452.6 L90.5,452.3 L92.0,452.0 L93.5,451.7 L95.0,451.3 L96.5,451.0 L98.0,450.7 L99.5,450.3 L101.0,450.0 L102.5,449.6 L104.0,449.2 L105.5,448.8 L107.0,448.4 L108.5,448.0 L110.0,447.6 L111.5,447.2 L113.0,446.7 L114.5,446.3 L116.0,445.8 L117.5,445.4 L119.0,444.9 L120.5,444.4 L122.0,443.9 L123.5,443.5 L125.0,443.0 L126.5,442.5 L128.0,442.0 L129.5,441.5 L131.0,440.9 L132.5,440.4 L134.0,439.9 L135.5,439.4 L137.0,438.8 L138.5,438.3 L140.0,437.7 L141.5,437.2 L143.0,436.6 L144.5,436.1 L146.0,435.5 L147.5,435.0 L149.0,434.4 L150.5,433.9 L152.0,433.3 L153.5,432.8 L155.0,432.2 L156.5,431.6 L158.0,431.1 L159.5,430.5 L161.0,430.0 L162.5,429.5 L164.0,428.9 L165.5,428.4 L167.0,427.8 L168.5,427.3 L170.0,426.8 L171.5,426.3 L173.0,425.8 L174.5,425.3 L176.0,424.8 L177.5,424.3 L179.0,423.8 L180.5,423.4 L182.0,422.9 L183.5,422.4 L185.0,422.0 L186.5,421.6 L188.0,421.1 L189.5,420.7 L191.0,420.3 L192.5,419.9 L194.0,419.6 L195.5,419.2 L197.0,418.8 L198.5,418.5 L200.0,418.2 L201.5,417.9 L203.0,417.6 L204.5,417.3 L206.0,417.0 L207.5,416.7 L209.0,416.5 L210.5,416.3 L212.0,416.0 L213.5,415.8 L215.0,415.7 L216.5,415.5 L218.0,415.3 L219.5,415.2 L221.0,415.1 L222.5,415.0 L224.0,414.9 L225.5,414.8 L227.0,414.8 L228.5,414.8 L230.0,414.8 L231.5,414.8 L233.0,414.8 L234.5,414.9 L236.0,414.9 L237.5,415.0 L239.0,415.2 L240.5,415.3 L242.0,415.5 L243.5,415.6 L245.0,415.8 L246.5,416.0 L248.0,416.3 L249.5,416.5 L251.0,416.8 L252.5,417.1 L254.0,417.4 L255.5,417.7 L257.0,418.0 L258.5,418.4 L260.0,418.7 L261.5,419.1 L263.0,419.5 L264.5,419.9 L266.0,420.3 L267.5,420.7 L269.0,421.2 L270.5,421.6 L272.0,422.1 L273.5,422.6 L275.0,423.1 L276.5,423.5 L278.0,424.0 L279.5,424.6 L281.0,425.1 L282.5,425.6 L284.0,426.1 L285.5,426.7 L287.0,427.2 L288.5,427.8 L290.0,428.3 L291.5,428.9 L293.0,429.5 L294.5,430.1 L296.0,430.6 L297.5,431.2 L299.0,431.8 L300.5,432.4 L302.0,433.0 L303.5,433.6 L305.0,434.2 L306.5,434.8 L308.0,435.4 L309.5,436.0 L311.0,436.6 L312.5,437.2 L314.0,437.8 L315.5,438.4 L317.0,438.9 L318.5,439.5 L320.0,440.1 L321.5,440.7 L323.0,441.3 L324.5,441.9 L326.0,442.4 L327.5,443.0 L329.0,443.6 L330.5,444.1 L332.0,444.7 L333.5,445.2 L335.0,445.8 L336.5,446.3 L338.0,446.8 L339.5,447.3 L341.0,447.8 L342.5,448.3 L344.0,448.8 L345.5,449.3 L347.0,449.8 L348.5,450.3 L350.0,450.7 L351.5,451.2 L353.0,451.6 L354.5,452.0 L356.0,452.4 L357.5,452.8 L359.0,453.2 L360.5,453.6 L362.0,453.9 L363.5,454.3 L365.0,454.6 L366.5,454.9 L368.0,455.2 L369.5,455.5 L371.0,455.8 L372.5,456.1 L374.0,456.3 L375.5,456.5 L377.0,456.7 L378.5,456.9 L380.0,457.1 L381.5,457.3 L383.0,457.4 L384.5,457.5 L386.0,457.6 L387.5,457.7 L389.0,457.7 L390.5,457.8 L392.0,457.8 L393.5,457.8 L395.0,457.8 L396.5,457.7 L398.0,457.7 L399.5,457.6 L401.0,457.5 L402.3,457.3" fill="none" stroke="#3d9e66" stroke-width="4.2" stroke-linejoin="round" stroke-linecap="round" clip-path="url(#ia)"/>
<path d="M590.2,465.0 L591.7,465.0 L593.2,465.1 L594.7,465.1 L596.2,465.2 L597.7,465.2 L599.2,465.2 L600.7,465.2 L602.2,465.2 L603.7,465.2 L605.2,465.3 L606.7,465.3 L608.2,465.2 L609.7,465.2 L611.2,465.2 L612.7,465.2 L614.2,465.2 L615.7,465.1 L617.2,465.1 L618.7,465.1 L620.2,465.0 L621.7,465.0 L623.2,464.9 L624.7,464.9 L626.2,464.8 L627.7,464.7 L629.2,464.7 L630.7,464.6 L632.2,464.5 L633.7,464.4 L635.2,464.3 L636.7,464.2 L638.2,464.1 L639.7,464.1 L641.2,463.9 L642.7,463.8 L644.2,463.7 L645.7,463.6 L647.2,463.5 L648.7,463.4 L650.2,463.3 L651.7,463.1 L653.2,463.0 L654.7,462.9 L656.2,462.7 L657.7,462.6 L659.2,462.5 L660.7,462.3 L662.2,462.2 L663.7,462.0 L665.2,461.9 L666.7,461.7 L668.2,461.6 L669.7,461.4 L671.2,461.2 L672.7,461.1 L674.2,460.9 L675.7,460.7 L677.2,460.6 L678.7,460.4 L680.2,460.2 L681.7,460.0 L683.2,459.9 L684.7,459.7 L686.2,459.5 L687.7,459.3 L689.2,459.1 L690.7,458.9 L692.2,458.7 L693.7,458.6 L695.2,458.4 L696.7,458.2 L698.2,458.0 L699.7,457.8 L701.2,457.6 L702.7,457.4 L704.2,457.1 L705.7,456.9 L707.2,456.7 L708.7,456.4 L710.2,456.2 L711.7,455.9 L713.2,455.6 L714.7,455.3 L716.2,454.9 L717.7,454.6 L719.2,454.2 L720.7,453.7 L722.2,453.3 L723.7,452.8 L725.2,452.3 L726.7,451.7 L728.2,451.1 L729.7,450.5 L731.2,449.8 L732.7,449.1 L734.2,448.4 L735.7,447.6 L737.2,446.7 L738.7,445.8 L740.2,444.9 L741.7,443.9 L743.2,442.8 L744.7,441.7 L746.2,440.5 L747.7,439.2 L749.2,437.9 L750.7,436.6 L752.2,435.1 L753.7,433.6 L755.2,432.1 L756.7,430.4 L758.2,428.7 L759.7,427.0 L761.2,425.2 L762.7,423.3 L764.2,421.3 L765.7,419.3 L767.2,417.2 L768.7,415.1 L770.2,412.9 L771.7,410.6 L773.2,408.3 L774.7,405.9 L776.2,403.4 L777.7,400.9 L779.2,398.3 L780.7,395.7 L782.2,392.9 L783.7,390.2 L785.2,387.3 L786.7,384.5 L788.2,381.5 L789.7,378.6 L791.2,375.6 L792.7,372.6 L794.2,369.6 L795.7,366.6 L797.2,363.6 L798.7,360.6 L800.2,357.7 L801.7,354.8 L803.2,351.9 L804.7,349.1 L806.2,346.4 L807.7,343.7 L809.2,341.1 L810.7,338.6 L812.2,336.2 L813.7,333.8 L815.2,331.6 L816.7,329.5 L818.2,327.4 L819.7,325.5 L821.2,323.7 L822.7,321.9 L824.2,320.3 L825.7,318.8 L827.2,317.4 L828.7,316.1 L830.2,315.0 L831.7,313.9 L833.2,313.0 L834.7,312.2 L836.2,311.5 L837.7,310.9 L839.2,310.5 L840.7,310.2 L842.2,310.0 L843.7,310.0 L845.2,310.1 L846.7,310.3 L848.2,310.7 L849.7,311.2 L851.2,311.9 L852.7,312.7 L854.2,313.5 L855.7,314.6 L857.2,315.7 L858.7,316.9 L860.2,318.3 L861.7,319.7 L863.2,321.3 L864.7,322.9 L866.2,324.6 L867.7,326.5 L869.2,328.4 L870.7,330.4 L872.2,332.5 L873.7,334.6 L875.2,336.8 L876.7,339.1 L878.2,341.5 L879.7,343.9 L881.2,346.4 L882.7,348.9 L884.2,351.4 L885.7,354.1 L887.2,356.7 L888.7,359.4 L890.2,362.1 L891.7,364.9 L893.2,367.6 L894.7,370.4 L896.2,373.2 L897.7,376.1 L899.2,378.9 L900.7,381.7 L902.2,384.6 L903.7,387.4 L905.2,390.2 L906.7,393.1 L908.2,395.9 L909.7,398.7 L911.2,401.4 L912.7,404.2 L914.2,406.9 L915.7,409.6 L917.2,412.2 L918.7,414.8 L920.2,417.3 L921.7,419.9 L923.2,422.3 L924.7,424.7 L926.2,427.0 L927.7,429.3 L929.2,431.5 L930.7,433.7 L932.2,435.7 L933.7,437.7 L935.2,439.6 L936.7,441.4 L938.0,442.9" fill="none" stroke="#9c0054" stroke-width="4.4" stroke-linejoin="round" stroke-linecap="round" clip-path="url(#ib)"/>
<path d="M590.2,465.5 L591.7,465.5 L593.2,465.5 L594.7,465.5 L596.2,465.5 L597.7,465.5 L599.2,465.5 L600.7,465.5 L602.2,465.5 L603.7,465.4 L605.2,465.4 L606.7,465.4 L608.2,465.4 L609.7,465.4 L611.2,465.4 L612.7,465.4 L614.2,465.3 L615.7,465.3 L617.2,465.3 L618.7,465.3 L620.2,465.2 L621.7,465.2 L623.2,465.2 L624.7,465.1 L626.2,465.1 L627.7,465.0 L629.2,465.0 L630.7,465.0 L632.2,464.9 L633.7,464.9 L635.2,464.8 L636.7,464.8 L638.2,464.7 L639.7,464.6 L641.2,464.6 L642.7,464.5 L644.2,464.4 L645.7,464.4 L647.2,464.3 L648.7,464.2 L650.2,464.1 L651.7,464.0 L653.2,464.0 L654.7,463.9 L656.2,463.8 L657.7,463.7 L659.2,463.6 L660.7,463.5 L662.2,463.4 L663.7,463.2 L665.2,463.1 L666.7,463.0 L668.2,462.9 L669.7,462.8 L671.2,462.6 L672.7,462.5 L674.2,462.4 L675.7,462.2 L677.2,462.1 L678.7,461.9 L680.2,461.8 L681.7,461.6 L683.2,461.4 L684.7,461.3 L686.2,461.1 L687.7,460.9 L689.2,460.7 L690.7,460.5 L692.2,460.4 L693.7,460.2 L695.2,460.0 L696.7,459.8 L698.2,459.5 L699.7,459.3 L701.2,459.1 L702.7,458.9 L704.2,458.6 L705.7,458.4 L707.2,458.1 L708.7,457.9 L710.2,457.6 L711.7,457.3 L713.2,457.0 L714.7,456.7 L716.2,456.3 L717.7,456.0 L719.2,455.6 L720.7,455.2 L722.2,454.8 L723.7,454.4 L725.2,453.9 L726.7,453.4 L728.2,452.9 L729.7,452.4 L731.2,451.8 L732.7,451.3 L734.2,450.7 L735.7,450.0 L737.2,449.4 L738.7,448.7 L740.2,447.9 L741.7,447.2 L743.2,446.4 L744.7,445.5 L746.2,444.7 L747.7,443.8 L749.2,442.8 L750.7,441.9 L752.2,440.8 L753.7,439.8 L755.2,438.7 L756.7,437.5 L758.2,436.1 L759.7,434.6 L761.2,432.8 L762.7,430.6 L764.2,428.2 L765.7,425.6 L767.2,422.9 L768.7,420.3 L770.2,417.9 L771.7,415.5 L773.2,413.2 L774.7,411.0 L776.2,408.8 L777.7,406.6 L779.2,404.4 L780.7,402.1 L782.2,399.8 L783.7,397.3 L785.2,394.7 L786.7,392.0 L788.2,389.2 L789.7,386.3 L791.2,383.3 L792.7,380.3 L794.2,377.2 L795.7,374.1 L797.2,371.0 L798.7,367.9 L800.2,364.8 L801.7,361.8 L803.2,358.8 L804.7,355.8 L806.2,353.0 L807.7,350.2 L809.2,347.6 L810.7,345.1 L812.2,342.7 L813.7,340.4 L815.2,338.3 L816.7,336.2 L818.2,334.3 L819.7,332.6 L821.2,330.9 L822.7,329.4 L824.2,327.9 L825.7,326.6 L827.2,325.5 L828.7,324.4 L830.2,323.4 L831.7,322.6 L833.2,321.9 L834.7,321.3 L836.2,320.8 L837.7,320.4 L839.2,320.2 L840.7,320.1 L842.2,320.0 L843.7,320.1 L845.2,320.3 L846.7,320.6 L848.2,321.1 L849.7,321.6 L851.2,322.2 L852.7,323.0 L854.2,323.8 L855.7,324.8 L857.2,325.9 L858.7,327.1 L860.2,328.4 L861.7,329.8 L863.2,331.3 L864.7,332.9 L866.2,334.6 L867.7,336.4 L869.2,338.4 L870.7,340.4 L872.2,342.5 L873.7,344.8 L875.2,347.1 L876.7,349.5 L878.2,351.9 L879.7,354.5 L881.2,357.1 L882.7,359.8 L884.2,362.5 L885.7,365.2 L887.2,368.0 L888.7,370.8 L890.2,373.6 L891.7,376.5 L893.2,379.3 L894.7,382.2 L896.2,385.0 L897.7,387.9 L899.2,390.7 L900.7,393.5 L902.2,396.2 L903.7,398.9 L905.2,401.6 L906.7,404.2 L908.2,406.7 L909.7,409.2 L911.2,411.6 L912.7,413.9 L914.2,416.2 L915.7,418.4 L917.2,420.6 L918.7,422.7 L920.2,424.7 L921.7,426.7 L923.2,428.6 L924.7,430.5 L926.2,432.3 L927.7,434.1 L929.2,435.9 L930.7,437.6 L932.2,439.3 L933.7,441.0 L935.2,442.6 L936.7,444.2 L938.0,445.5" fill="none" stroke="#a29e18" stroke-width="4.4" stroke-linejoin="round" stroke-linecap="round" clip-path="url(#ib)"/>
<path d="M590.2,465.0 L591.7,465.0 L593.2,465.0 L594.7,465.0 L596.2,465.0 L597.7,464.9 L599.2,464.9 L600.7,464.9 L602.2,464.9 L603.7,464.9 L605.2,464.8 L606.7,464.8 L608.2,464.8 L609.7,464.8 L611.2,464.7 L612.7,464.7 L614.2,464.6 L615.7,464.6 L617.2,464.6 L618.7,464.5 L620.2,464.5 L621.7,464.4 L623.2,464.4 L624.7,464.3 L626.2,464.2 L627.7,464.2 L629.2,464.1 L630.7,464.1 L632.2,464.0 L633.7,463.9 L635.2,463.8 L636.7,463.8 L638.2,463.7 L639.7,463.6 L641.2,463.5 L642.7,463.4 L644.2,463.3 L645.7,463.2 L647.2,463.1 L648.7,463.0 L650.2,462.9 L651.7,462.8 L653.2,462.7 L654.7,462.6 L656.2,462.4 L657.7,462.3 L659.2,462.2 L660.7,462.1 L662.2,461.9 L663.7,461.8 L665.2,461.6 L666.7,461.5 L668.2,461.3 L669.7,461.2 L671.2,461.0 L672.7,460.9 L674.2,460.7 L675.7,460.5 L677.2,460.4 L678.7,460.2 L680.2,460.0 L681.7,459.8 L683.2,459.6 L684.7,459.4 L686.2,459.2 L687.7,459.0 L689.2,458.8 L690.7,458.6 L692.2,458.4 L693.7,458.2 L695.2,458.0 L696.7,457.7 L698.2,457.5 L699.7,457.3 L701.2,457.0 L702.7,456.8 L704.2,456.5 L705.7,456.2 L707.2,456.0 L708.7,455.7 L710.2,455.4 L711.7,455.0 L713.2,454.7 L714.7,454.4 L716.2,454.0 L717.7,453.6 L719.2,453.2 L720.7,452.8 L722.2,452.3 L723.7,451.8 L725.2,451.3 L726.7,450.8 L728.2,450.3 L729.7,449.7 L731.2,449.1 L732.7,448.5 L734.2,447.8 L735.7,447.1 L737.2,446.4 L738.7,445.6 L740.2,444.8 L741.7,443.9 L743.2,443.1 L744.7,442.2 L746.2,441.2 L747.7,440.2 L749.2,439.2 L750.7,438.1 L752.2,436.9 L753.7,435.7 L755.2,434.4 L756.7,433.0 L758.2,431.4 L759.7,429.8 L761.2,428.0 L762.7,426.2 L764.2,424.3 L765.7,422.4 L767.2,420.5 L768.7,418.6 L770.2,416.8 L771.7,415.1 L773.2,413.4 L774.7,411.8 L776.2,410.2 L777.7,408.6 L779.2,407.0 L780.7,405.4 L782.2,403.7 L783.7,402.1 L785.2,400.4 L786.7,398.7 L788.2,396.9 L789.7,395.1 L791.2,393.3 L792.7,391.4 L794.2,389.6 L795.7,387.7 L797.2,385.8 L798.7,383.9 L800.2,382.0 L801.7,380.1 L803.2,378.2 L804.7,376.3 L806.2,374.5 L807.7,372.6 L809.2,370.8 L810.7,368.9 L812.2,367.1 L813.7,365.4 L815.2,363.7 L816.7,362.0 L818.2,360.3 L819.7,358.7 L821.2,357.2 L822.7,355.7 L824.2,354.3 L825.7,353.0 L827.2,351.8 L828.7,350.6 L830.2,349.5 L831.7,348.6 L833.2,347.7 L834.7,346.9 L836.2,346.3 L837.7,345.7 L839.2,345.3 L840.7,345.1 L842.2,344.9 L843.7,344.9 L845.2,345.1 L846.7,345.4 L848.2,345.8 L849.7,346.4 L851.2,347.1 L852.7,348.0 L854.2,349.0 L855.7,350.1 L857.2,351.3 L858.7,352.6 L860.2,354.0 L861.7,355.5 L863.2,357.0 L864.7,358.7 L866.2,360.4 L867.7,362.1 L869.2,364.0 L870.7,365.8 L872.2,367.8 L873.7,369.7 L875.2,371.7 L876.7,373.7 L878.2,375.8 L879.7,377.8 L881.2,379.9 L882.7,382.1 L884.2,384.2 L885.7,386.3 L887.2,388.4 L888.7,390.6 L890.2,392.7 L891.7,394.8 L893.2,397.0 L894.7,399.1 L896.2,401.2 L897.7,403.3 L899.2,405.3 L900.7,407.3 L902.2,409.3 L903.7,411.3 L905.2,413.2 L906.7,415.1 L908.2,416.9 L909.7,418.7 L911.2,420.5 L912.7,422.2 L914.2,423.8 L915.7,425.5 L917.2,427.1 L918.7,428.6 L920.2,430.2 L921.7,431.7 L923.2,433.2 L924.7,434.7 L926.2,436.2 L927.7,437.7 L929.2,439.1 L930.7,440.6 L932.2,442.1 L933.7,443.6 L935.2,445.1 L936.7,446.7 L938.0,448.0" fill="none" stroke="#1d6bd0" stroke-width="4.4" stroke-linejoin="round" stroke-linecap="round" clip-path="url(#ib)"/>
<path d="M590.2,464.4 L591.7,464.4 L593.2,464.4 L594.7,464.4 L596.2,464.4 L597.7,464.4 L599.2,464.4 L600.7,464.4 L602.2,464.4 L603.7,464.4 L605.2,464.3 L606.7,464.3 L608.2,464.3 L609.7,464.2 L611.2,464.2 L612.7,464.1 L614.2,464.0 L615.7,464.0 L617.2,463.9 L618.7,463.8 L620.2,463.8 L621.7,463.7 L623.2,463.6 L624.7,463.5 L626.2,463.4 L627.7,463.3 L629.2,463.2 L630.7,463.1 L632.2,463.0 L633.7,462.9 L635.2,462.8 L636.7,462.6 L638.2,462.5 L639.7,462.4 L641.2,462.3 L642.7,462.2 L644.2,462.0 L645.7,461.9 L647.2,461.8 L648.7,461.7 L650.2,461.5 L651.7,461.4 L653.2,461.3 L654.7,461.1 L656.2,461.0 L657.7,460.9 L659.2,460.7 L660.7,460.6 L662.2,460.4 L663.7,460.3 L665.2,460.2 L666.7,460.0 L668.2,459.9 L669.7,459.8 L671.2,459.7 L672.7,459.5 L674.2,459.4 L675.7,459.3 L677.2,459.1 L678.7,459.0 L680.2,458.9 L681.7,458.8 L683.2,458.6 L684.7,458.5 L686.2,458.4 L687.7,458.2 L689.2,458.1 L690.7,457.9 L692.2,457.8 L693.7,457.6 L695.2,457.4 L696.7,457.2 L698.2,457.0 L699.7,456.8 L701.2,456.6 L702.7,456.3 L704.2,456.1 L705.7,455.8 L707.2,455.5 L708.7,455.2 L710.2,454.9 L711.7,454.5 L713.2,454.1 L714.7,453.8 L716.2,453.3 L717.7,452.9 L719.2,452.5 L720.7,452.0 L722.2,451.5 L723.7,450.9 L725.2,450.4 L726.7,449.8 L728.2,449.1 L729.7,448.5 L731.2,447.8 L732.7,447.1 L734.2,446.3 L735.7,445.6 L737.2,444.7 L738.7,443.9 L740.2,443.0 L741.7,442.1 L743.2,441.1 L744.7,440.1 L746.2,439.1 L747.7,438.0 L749.2,437.0 L750.7,435.8 L752.2,434.7 L753.7,433.5 L755.2,432.3 L756.7,431.0 L758.2,429.8 L759.7,428.5 L761.2,427.1 L762.7,425.8 L764.2,424.4 L765.7,423.0 L767.2,421.6 L768.7,420.1 L770.2,418.6 L771.7,417.1 L773.2,415.6 L774.7,414.0 L776.2,412.4 L777.7,410.9 L779.2,409.3 L780.7,407.7 L782.2,406.0 L783.7,404.4 L785.2,402.8 L786.7,401.2 L788.2,399.5 L789.7,397.9 L791.2,396.3 L792.7,394.7 L794.2,393.0 L795.7,391.4 L797.2,389.8 L798.7,388.2 L800.2,386.7 L801.7,385.1 L803.2,383.6 L804.7,382.1 L806.2,380.6 L807.7,379.1 L809.2,377.7 L810.7,376.3 L812.2,374.9 L813.7,373.6 L815.2,372.3 L816.7,371.1 L818.2,369.9 L819.7,368.8 L821.2,367.8 L822.7,366.8 L824.2,365.9 L825.7,365.0 L827.2,364.2 L828.7,363.5 L830.2,362.9 L831.7,362.3 L833.2,361.8 L834.7,361.5 L836.2,361.2 L837.7,361.0 L839.2,360.9 L840.7,360.9 L842.2,361.0 L843.7,361.2 L845.2,361.4 L846.7,361.8 L848.2,362.2 L849.7,362.8 L851.2,363.4 L852.7,364.1 L854.2,364.8 L855.7,365.7 L857.2,366.6 L858.7,367.6 L860.2,368.7 L861.7,369.8 L863.2,371.0 L864.7,372.3 L866.2,373.7 L867.7,375.1 L869.2,376.5 L870.7,378.1 L872.2,379.7 L873.7,381.3 L875.2,383.0 L876.7,384.7 L878.2,386.5 L879.7,388.3 L881.2,390.2 L882.7,392.1 L884.2,394.0 L885.7,395.9 L887.2,397.8 L888.7,399.7 L890.2,401.7 L891.7,403.6 L893.2,405.5 L894.7,407.4 L896.2,409.3 L897.7,411.2 L899.2,413.1 L900.7,414.9 L902.2,416.7 L903.7,418.5 L905.2,420.3 L906.7,422.0 L908.2,423.7 L909.7,425.4 L911.2,427.0 L912.7,428.6 L914.2,430.1 L915.7,431.7 L917.2,433.2 L918.7,434.6 L920.2,436.0 L921.7,437.4 L923.2,438.8 L924.7,440.1 L926.2,441.4 L927.7,442.7 L929.2,443.9 L930.7,445.1 L932.2,446.2 L933.7,447.4 L935.2,448.4 L936.7,449.5 L938.0,450.4" fill="none" stroke="#34a872" stroke-width="4.4" stroke-linejoin="round" stroke-linecap="round" clip-path="url(#ib)"/>
<path d="M1088.0,436.4 L1089.5,436.4 L1091.0,436.3 L1092.5,436.3 L1094.0,436.2 L1095.5,436.1 L1097.0,436.0 L1098.5,435.8 L1100.0,435.7 L1101.5,435.6 L1103.0,435.4 L1104.5,435.3 L1106.0,435.1 L1107.5,434.9 L1109.0,434.7 L1110.5,434.5 L1112.0,434.3 L1113.5,434.1 L1115.0,433.9 L1116.5,433.6 L1118.0,433.4 L1119.5,433.1 L1121.0,432.9 L1122.5,432.6 L1124.0,432.3 L1125.5,432.1 L1127.0,431.8 L1128.5,431.5 L1130.0,431.2 L1131.5,430.8 L1133.0,430.5 L1134.5,430.2 L1136.0,429.9 L1137.5,429.5 L1139.0,429.2 L1140.5,428.8 L1142.0,428.5 L1143.5,428.1 L1145.0,427.7 L1146.5,427.4 L1148.0,427.0 L1149.5,426.6 L1151.0,426.2 L1152.5,425.8 L1154.0,425.4 L1155.5,425.0 L1157.0,424.6 L1158.5,424.2 L1160.0,423.8 L1161.5,423.4 L1163.0,423.0 L1164.5,422.6 L1166.0,422.1 L1167.5,421.7 L1169.0,421.3 L1170.5,420.9 L1172.0,420.4 L1173.5,420.0 L1175.0,419.6 L1176.5,419.1 L1178.0,418.7 L1179.5,418.2 L1181.0,417.8 L1182.5,417.4 L1184.0,416.9 L1185.5,416.5 L1187.0,416.0 L1188.5,415.6 L1190.0,415.1 L1191.5,414.7 L1193.0,414.3 L1194.5,413.8 L1196.0,413.4 L1197.5,412.9 L1199.0,412.5 L1200.5,412.1 L1202.0,411.6 L1203.5,411.2 L1205.0,410.8 L1206.5,410.3 L1208.0,409.9 L1209.5,409.5 L1211.0,409.1 L1212.5,408.7 L1214.0,408.2 L1215.5,407.8 L1217.0,407.4 L1218.5,407.0 L1220.0,406.6 L1221.5,406.2 L1223.0,405.8 L1224.5,405.4 L1226.0,405.0 L1227.5,404.7 L1229.0,404.3 L1230.5,403.9 L1232.0,403.6 L1233.5,403.2 L1235.0,402.8 L1236.5,402.5 L1238.0,402.2 L1239.5,401.8 L1241.0,401.5 L1242.5,401.2 L1244.0,400.9 L1245.5,400.5 L1247.0,400.2 L1248.5,399.9 L1250.0,399.7 L1251.5,399.4 L1253.0,399.1 L1254.5,398.8 L1256.0,398.6 L1257.5,398.3 L1259.0,398.1 L1260.5,397.9 L1262.0,397.7 L1263.5,397.4 L1265.0,397.2 L1266.5,397.0 L1268.0,396.9 L1269.5,396.7 L1271.0,396.5 L1272.5,396.4 L1274.0,396.2 L1275.5,396.1 L1277.0,396.0 L1278.5,395.8 L1280.0,395.7 L1281.5,395.7 L1283.0,395.6 L1284.5,395.5 L1286.0,395.5 L1287.5,395.4 L1289.0,395.4 L1290.5,395.3 L1292.0,395.3 L1293.5,395.3 L1295.0,395.3 L1296.5,395.4 L1298.0,395.4 L1299.5,395.4 L1301.0,395.5 L1302.5,395.5 L1304.0,395.6 L1305.5,395.7 L1307.0,395.8 L1308.5,395.9 L1310.0,396.0 L1311.5,396.1 L1313.0,396.3 L1314.5,396.4 L1316.0,396.6 L1317.5,396.8 L1319.0,396.9 L1320.5,397.1 L1322.0,397.3 L1323.5,397.6 L1325.0,397.8 L1326.5,398.0 L1328.0,398.3 L1329.5,398.5 L1331.0,398.8 L1332.5,399.1 L1334.0,399.4 L1335.5,399.7 L1337.0,400.0 L1338.5,400.3 L1340.0,400.7 L1341.5,401.0 L1343.0,401.4 L1344.5,401.8 L1346.0,402.1 L1347.5,402.5 L1349.0,402.9 L1350.5,403.3 L1352.0,403.8 L1353.5,404.2 L1355.0,404.6 L1356.5,405.1 L1358.0,405.6 L1359.5,406.0 L1361.0,406.5 L1362.5,407.0 L1364.0,407.5 L1365.5,408.0 L1367.0,408.5 L1368.5,409.0 L1370.0,409.5 L1371.5,410.1 L1373.0,410.6 L1374.5,411.1 L1376.0,411.7 L1377.5,412.2 L1379.0,412.8 L1380.5,413.4 L1382.0,413.9 L1383.5,414.5 L1385.0,415.1 L1386.5,415.6 L1388.0,416.2 L1389.5,416.8 L1391.0,417.4 L1392.5,418.0 L1394.0,418.6 L1395.5,419.2 L1397.0,419.8 L1398.5,420.4 L1400.0,421.0 L1401.5,421.6 L1403.0,422.2 L1404.5,422.8 L1406.0,423.4 L1407.5,424.0 L1409.0,424.6 L1410.5,425.2 L1412.0,425.8 L1413.5,426.4 L1415.0,427.0 L1416.5,427.6 L1418.0,428.2 L1419.5,428.7 L1421.0,429.3 L1422.5,429.9 L1424.0,430.5 L1425.5,431.1 L1427.0,431.7 L1428.5,432.2 L1430.0,432.8 L1431.5,433.4 L1433.0,433.9 L1434.5,434.5 L1435.8,434.9" fill="none" stroke="#0a0ca5" stroke-width="3.8" stroke-linejoin="round" stroke-linecap="round" clip-path="url(#ic)"/>
<path d="M1088.0,437.6 L1089.5,437.3 L1091.0,436.9 L1092.5,436.6 L1094.0,436.2 L1095.5,435.9 L1097.0,435.6 L1098.5,435.4 L1100.0,435.1 L1101.5,434.9 L1103.0,434.6 L1104.5,434.4 L1106.0,434.2 L1107.5,434.0 L1109.0,433.8 L1110.5,433.6 L1112.0,433.4 L1113.5,433.3 L1115.0,433.1 L1116.5,432.9 L1118.0,432.7 L1119.5,432.6 L1121.0,432.4 L1122.5,432.2 L1124.0,432.1 L1125.5,431.9 L1127.0,431.7 L1128.5,431.6 L1130.0,431.4 L1131.5,431.2 L1133.0,431.0 L1134.5,430.8 L1136.0,430.6 L1137.5,430.4 L1139.0,430.1 L1140.5,429.9 L1142.0,429.6 L1143.5,429.3 L1145.0,429.1 L1146.5,428.8 L1148.0,428.4 L1149.5,428.1 L1151.0,427.7 L1152.5,427.4 L1154.0,427.0 L1155.5,426.6 L1157.0,426.1 L1158.5,425.7 L1160.0,425.2 L1161.5,424.7 L1163.0,424.1 L1164.5,423.6 L1166.0,423.0 L1167.5,422.3 L1169.0,421.7 L1170.5,421.0 L1172.0,420.3 L1173.5,419.5 L1175.0,418.8 L1176.5,417.9 L1178.0,417.1 L1179.5,416.2 L1181.0,415.3 L1182.5,414.4 L1184.0,413.4 L1185.5,412.4 L1187.0,411.4 L1188.5,410.4 L1190.0,409.3 L1191.5,408.2 L1193.0,407.1 L1194.5,406.0 L1196.0,404.8 L1197.5,403.6 L1199.0,402.4 L1200.5,401.2 L1202.0,399.9 L1203.5,398.6 L1205.0,397.3 L1206.5,396.0 L1208.0,394.7 L1209.5,393.3 L1211.0,391.9 L1212.5,390.5 L1214.0,389.1 L1215.5,387.7 L1217.0,386.2 L1218.5,384.8 L1220.0,383.3 L1221.5,381.8 L1223.0,380.3 L1224.5,378.8 L1226.0,377.4 L1227.5,375.9 L1229.0,374.4 L1230.5,373.0 L1232.0,371.5 L1233.5,370.1 L1235.0,368.7 L1236.5,367.3 L1238.0,366.0 L1239.5,364.7 L1241.0,363.5 L1242.5,362.2 L1244.0,361.1 L1245.5,360.0 L1247.0,358.9 L1248.5,357.9 L1250.0,357.0 L1251.5,356.1 L1253.0,355.3 L1254.5,354.6 L1256.0,353.9 L1257.5,353.2 L1259.0,352.7 L1260.5,352.2 L1262.0,351.7 L1263.5,351.4 L1265.0,351.0 L1266.5,350.8 L1268.0,350.6 L1269.5,350.4 L1271.0,350.4 L1272.5,350.3 L1274.0,350.4 L1275.5,350.5 L1277.0,350.6 L1278.5,350.8 L1280.0,351.0 L1281.5,351.3 L1283.0,351.6 L1284.5,352.0 L1286.0,352.5 L1287.5,352.9 L1289.0,353.4 L1290.5,354.0 L1292.0,354.6 L1293.5,355.3 L1295.0,355.9 L1296.5,356.7 L1298.0,357.4 L1299.5,358.2 L1301.0,359.0 L1302.5,359.9 L1304.0,360.8 L1305.5,361.7 L1307.0,362.7 L1308.5,363.7 L1310.0,364.7 L1311.5,365.8 L1313.0,366.8 L1314.5,367.9 L1316.0,369.1 L1317.5,370.2 L1319.0,371.4 L1320.5,372.6 L1322.0,373.8 L1323.5,375.0 L1325.0,376.3 L1326.5,377.5 L1328.0,378.8 L1329.5,380.1 L1331.0,381.4 L1332.5,382.8 L1334.0,384.1 L1335.5,385.5 L1337.0,386.8 L1338.5,388.2 L1340.0,389.6 L1341.5,391.0 L1343.0,392.3 L1344.5,393.7 L1346.0,395.1 L1347.5,396.5 L1349.0,397.9 L1350.5,399.3 L1352.0,400.7 L1353.5,402.1 L1355.0,403.5 L1356.5,404.8 L1358.0,406.2 L1359.5,407.5 L1361.0,408.9 L1362.5,410.2 L1364.0,411.5 L1365.5,412.7 L1367.0,414.0 L1368.5,415.2 L1370.0,416.4 L1371.5,417.6 L1373.0,418.7 L1374.5,419.9 L1376.0,421.0 L1377.5,422.1 L1379.0,423.1 L1380.5,424.1 L1382.0,425.2 L1383.5,426.2 L1385.0,427.1 L1386.5,428.1 L1388.0,429.0 L1389.5,430.0 L1391.0,430.9 L1392.5,431.8 L1394.0,432.6 L1395.5,433.5 L1397.0,434.3 L1398.5,435.2 L1400.0,436.0 L1401.5,436.8 L1403.0,437.6 L1404.5,438.4 L1406.0,439.2 L1407.5,440.0 L1409.0,440.7 L1410.5,441.5 L1412.0,442.3 L1413.5,443.0 L1415.0,443.8 L1416.5,444.5 L1418.0,445.3 L1419.5,446.0 L1421.0,446.7 L1422.5,447.5 L1424.0,448.2 L1425.5,448.9 L1427.0,449.7 L1428.5,450.4 L1430.0,451.2 L1431.5,451.9 L1433.0,452.7 L1434.5,453.4 L1435.8,454.1" fill="none" stroke="#c638f2" stroke-width="4.2" stroke-linejoin="round" stroke-linecap="round" clip-path="url(#ic)"/>
<path d="M1088.0,443.5 L1089.5,443.3 L1091.0,443.1 L1092.5,442.8 L1094.0,442.6 L1095.5,442.4 L1097.0,442.2 L1098.5,442.0 L1100.0,441.8 L1101.5,441.6 L1103.0,441.3 L1104.5,441.1 L1106.0,440.9 L1107.5,440.7 L1109.0,440.5 L1110.5,440.3 L1112.0,440.1 L1113.5,439.9 L1115.0,439.7 L1116.5,439.5 L1118.0,439.3 L1119.5,439.1 L1121.0,438.9 L1122.5,438.7 L1124.0,438.5 L1125.5,438.3 L1127.0,438.1 L1128.5,437.8 L1130.0,437.6 L1131.5,437.4 L1133.0,437.2 L1134.5,436.9 L1136.0,436.7 L1137.5,436.5 L1139.0,436.2 L1140.5,436.0 L1142.0,435.7 L1143.5,435.5 L1145.0,435.2 L1146.5,434.9 L1148.0,434.7 L1149.5,434.4 L1151.0,434.1 L1152.5,433.8 L1154.0,433.5 L1155.5,433.2 L1157.0,432.9 L1158.5,432.6 L1160.0,432.3 L1161.5,431.9 L1163.0,431.6 L1164.5,431.2 L1166.0,430.9 L1167.5,430.5 L1169.0,430.2 L1170.5,429.8 L1172.0,429.4 L1173.5,429.0 L1175.0,428.6 L1176.5,428.1 L1178.0,427.7 L1179.5,427.3 L1181.0,426.8 L1182.5,426.4 L1184.0,425.9 L1185.5,425.4 L1187.0,424.9 L1188.5,424.4 L1190.0,423.9 L1191.5,423.3 L1193.0,422.8 L1194.5,422.2 L1196.0,421.7 L1197.5,421.1 L1199.0,420.5 L1200.5,419.9 L1202.0,419.2 L1203.5,418.6 L1205.0,417.9 L1206.5,417.2 L1208.0,416.5 L1209.5,415.8 L1211.0,415.0 L1212.5,414.2 L1214.0,413.3 L1215.5,412.4 L1217.0,411.5 L1218.5,410.5 L1220.0,409.4 L1221.5,408.3 L1223.0,407.1 L1224.5,405.9 L1226.0,404.6 L1227.5,403.2 L1229.0,401.8 L1230.5,400.3 L1232.0,398.7 L1233.5,397.0 L1235.0,395.2 L1236.5,393.4 L1238.0,391.4 L1239.5,389.3 L1241.0,387.2 L1242.5,384.9 L1244.0,382.6 L1245.5,380.2 L1247.0,377.8 L1248.5,375.3 L1250.0,372.7 L1251.5,370.2 L1253.0,367.6 L1254.5,365.0 L1256.0,362.5 L1257.5,359.9 L1259.0,357.4 L1260.5,354.9 L1262.0,352.5 L1263.5,350.1 L1265.0,347.8 L1266.5,345.6 L1268.0,343.5 L1269.5,341.4 L1271.0,339.4 L1272.5,337.5 L1274.0,335.7 L1275.5,334.0 L1277.0,332.3 L1278.5,330.7 L1280.0,329.2 L1281.5,327.7 L1283.0,326.3 L1284.5,325.0 L1286.0,323.7 L1287.5,322.5 L1289.0,321.3 L1290.5,320.2 L1292.0,319.1 L1293.5,318.1 L1295.0,317.1 L1296.5,316.2 L1298.0,315.3 L1299.5,314.4 L1301.0,313.6 L1302.5,312.8 L1304.0,312.1 L1305.5,311.4 L1307.0,310.8 L1308.5,310.3 L1310.0,309.9 L1311.5,309.5 L1313.0,309.3 L1314.5,309.1 L1316.0,309.1 L1317.5,309.2 L1319.0,309.5 L1320.5,309.8 L1322.0,310.3 L1323.5,311.0 L1325.0,311.9 L1326.5,312.9 L1328.0,314.0 L1329.5,315.4 L1331.0,316.9 L1332.5,318.5 L1334.0,320.3 L1335.5,322.3 L1337.0,324.4 L1338.5,326.7 L1340.0,329.1 L1341.5,331.7 L1343.0,334.4 L1344.5,337.2 L1346.0,340.2 L1347.5,343.4 L1349.0,346.6 L1350.5,350.0 L1352.0,353.5 L1353.5,356.9 L1355.0,360.4 L1356.5,364.0 L1358.0,367.4 L1359.5,370.9 L1361.0,374.2 L1362.5,377.4 L1364.0,380.5 L1365.5,383.5 L1367.0,386.4 L1368.5,389.1 L1370.0,391.7 L1371.5,394.2 L1373.0,396.6 L1374.5,398.9 L1376.0,401.1 L1377.5,403.1 L1379.0,405.1 L1380.5,407.0 L1382.0,408.8 L1383.5,410.6 L1385.0,412.2 L1386.5,413.8 L1388.0,415.3 L1389.5,416.7 L1391.0,418.1 L1392.5,419.4 L1394.0,420.6 L1395.5,421.8 L1397.0,423.0 L1398.5,424.1 L1400.0,425.1 L1401.5,426.1 L1403.0,427.1 L1404.5,428.1 L1406.0,429.0 L1407.5,429.9 L1409.0,430.8 L1410.5,431.7 L1412.0,432.6 L1413.5,433.4 L1415.0,434.3 L1416.5,435.2 L1418.0,436.0 L1419.5,436.9 L1421.0,437.8 L1422.5,438.7 L1424.0,439.6 L1425.5,440.6 L1427.0,441.5 L1428.5,442.5 L1430.0,443.6 L1431.5,444.7 L1433.0,445.8 L1434.5,447.0 L1435.8,448.0" fill="none" stroke="#a8561a" stroke-width="4.4" stroke-linejoin="round" stroke-linecap="round" clip-path="url(#ic)"/>
<path d="M1088.0,442.5 L1089.5,442.3 L1091.0,442.0 L1092.5,441.8 L1094.0,441.5 L1095.5,441.3 L1097.0,441.1 L1098.5,440.9 L1100.0,440.7 L1101.5,440.5 L1103.0,440.3 L1104.5,440.1 L1106.0,439.9 L1107.5,439.7 L1109.0,439.5 L1110.5,439.4 L1112.0,439.2 L1113.5,439.0 L1115.0,438.8 L1116.5,438.7 L1118.0,438.5 L1119.5,438.3 L1121.0,438.1 L1122.5,438.0 L1124.0,437.8 L1125.5,437.6 L1127.0,437.4 L1128.5,437.3 L1130.0,437.1 L1131.5,436.9 L1133.0,436.7 L1134.5,436.5 L1136.0,436.3 L1137.5,436.1 L1139.0,435.9 L1140.5,435.7 L1142.0,435.5 L1143.5,435.3 L1145.0,435.0 L1146.5,434.8 L1148.0,434.5 L1149.5,434.3 L1151.0,434.0 L1152.5,433.8 L1154.0,433.5 L1155.5,433.2 L1157.0,432.9 L1158.5,432.6 L1160.0,432.3 L1161.5,432.0 L1163.0,431.6 L1164.5,431.3 L1166.0,430.9 L1167.5,430.5 L1169.0,430.2 L1170.5,429.8 L1172.0,429.3 L1173.5,428.9 L1175.0,428.5 L1176.5,428.0 L1178.0,427.5 L1179.5,427.1 L1181.0,426.6 L1182.5,426.0 L1184.0,425.5 L1185.5,424.9 L1187.0,424.4 L1188.5,423.8 L1190.0,423.2 L1191.5,422.6 L1193.0,421.9 L1194.5,421.2 L1196.0,420.6 L1197.5,419.9 L1199.0,419.1 L1200.5,418.4 L1202.0,417.6 L1203.5,416.8 L1205.0,416.0 L1206.5,415.2 L1208.0,414.3 L1209.5,413.4 L1211.0,412.5 L1212.5,411.6 L1214.0,410.7 L1215.5,409.7 L1217.0,408.7 L1218.5,407.6 L1220.0,406.6 L1221.5,405.5 L1223.0,404.4 L1224.5,403.3 L1226.0,402.1 L1227.5,400.9 L1229.0,399.7 L1230.5,398.4 L1232.0,397.2 L1233.5,395.8 L1235.0,394.5 L1236.5,393.1 L1238.0,391.7 L1239.5,390.3 L1241.0,388.8 L1242.5,387.3 L1244.0,385.8 L1245.5,384.3 L1247.0,382.7 L1248.5,381.0 L1250.0,379.4 L1251.5,377.7 L1253.0,375.9 L1254.5,374.2 L1256.0,372.4 L1257.5,370.6 L1259.0,368.8 L1260.5,367.0 L1262.0,365.2 L1263.5,363.4 L1265.0,361.6 L1266.5,359.9 L1268.0,358.1 L1269.5,356.4 L1271.0,354.7 L1272.5,353.0 L1274.0,351.4 L1275.5,349.8 L1277.0,348.2 L1278.5,346.7 L1280.0,345.3 L1281.5,343.9 L1283.0,342.6 L1284.5,341.4 L1286.0,340.2 L1287.5,339.1 L1289.0,338.1 L1290.5,337.2 L1292.0,336.3 L1293.5,335.5 L1295.0,334.8 L1296.5,334.1 L1298.0,333.6 L1299.5,333.1 L1301.0,332.7 L1302.5,332.4 L1304.0,332.2 L1305.5,332.1 L1307.0,332.1 L1308.5,332.1 L1310.0,332.3 L1311.5,332.5 L1313.0,332.9 L1314.5,333.3 L1316.0,333.8 L1317.5,334.5 L1319.0,335.2 L1320.5,336.0 L1322.0,336.9 L1323.5,337.9 L1325.0,339.0 L1326.5,340.1 L1328.0,341.4 L1329.5,342.7 L1331.0,344.1 L1332.5,345.6 L1334.0,347.1 L1335.5,348.7 L1337.0,350.4 L1338.5,352.1 L1340.0,353.9 L1341.5,355.8 L1343.0,357.7 L1344.5,359.6 L1346.0,361.6 L1347.5,363.6 L1349.0,365.7 L1350.5,367.8 L1352.0,369.9 L1353.5,372.0 L1355.0,374.2 L1356.5,376.3 L1358.0,378.4 L1359.5,380.6 L1361.0,382.7 L1362.5,384.8 L1364.0,386.9 L1365.5,389.0 L1367.0,391.0 L1368.5,393.0 L1370.0,395.0 L1371.5,396.9 L1373.0,398.8 L1374.5,400.7 L1376.0,402.5 L1377.5,404.2 L1379.0,405.9 L1380.5,407.6 L1382.0,409.3 L1383.5,410.9 L1385.0,412.4 L1386.5,413.9 L1388.0,415.4 L1389.5,416.9 L1391.0,418.3 L1392.5,419.7 L1394.0,421.1 L1395.5,422.4 L1397.0,423.7 L1398.5,424.9 L1400.0,426.2 L1401.5,427.4 L1403.0,428.5 L1404.5,429.7 L1406.0,430.8 L1407.5,431.9 L1409.0,433.0 L1410.5,434.0 L1412.0,435.1 L1413.5,436.1 L1415.0,437.0 L1416.5,438.0 L1418.0,438.9 L1419.5,439.9 L1421.0,440.8 L1422.5,441.6 L1424.0,442.5 L1425.5,443.4 L1427.0,444.2 L1428.5,445.0 L1430.0,445.8 L1431.5,446.6 L1433.0,447.4 L1434.5,448.2 L1435.8,448.8" fill="none" stroke="#0f7f5c" stroke-width="4.4" stroke-linejoin="round" stroke-linecap="round" clip-path="url(#ic)"/>
<rect x="54.5" y="305.7" width="347.8" height="155.3" fill="none" stroke="#56308c" stroke-width="2.8" stroke-dasharray="7.8,3.2"/>
<rect x="590.2" y="307.1" width="346.79999999999995" height="157.29999999999995" fill="none" stroke="#56308c" stroke-width="2.8" stroke-dasharray="7.8,3.2"/>
<rect x="1088" y="306.3" width="347.79999999999995" height="157.09999999999997" fill="none" stroke="#56308c" stroke-width="3.4" stroke-dasharray="10,4"/>
<line x1="215.6" y1="461" x2="215.6" y2="455" stroke="#000" stroke-width="1.6" stroke-linecap="butt"/>
<line x1="297.2" y1="461" x2="297.2" y2="455" stroke="#000" stroke-width="1.6" stroke-linecap="butt"/>
<line x1="749.4" y1="464.4" x2="749.4" y2="458.4" stroke="#000" stroke-width="1.6" stroke-linecap="butt"/>
<line x1="830.2" y1="464.4" x2="830.2" y2="458.4" stroke="#000" stroke-width="1.6" stroke-linecap="butt"/>
<line x1="910.7" y1="464.4" x2="910.7" y2="458.4" stroke="#000" stroke-width="1.6" stroke-linecap="butt"/>
<line x1="1161.8" y1="463.4" x2="1161.8" y2="457.4" stroke="#000" stroke-width="1.6" stroke-linecap="butt"/>
<line x1="1238.2" y1="463.4" x2="1238.2" y2="457.4" stroke="#000" stroke-width="1.6" stroke-linecap="butt"/>
<line x1="1313" y1="463.4" x2="1313" y2="457.4" stroke="#000" stroke-width="1.6" stroke-linecap="butt"/>
<line x1="1388" y1="463.4" x2="1388" y2="457.4" stroke="#000" stroke-width="1.6" stroke-linecap="butt"/>
<text x="41.0" y="488.7" font-size="29" text-anchor="start">48</text>
<text x="198.5" y="488.7" font-size="29" text-anchor="start">51</text>
<text x="361.0" y="488.7" font-size="29" text-anchor="start">54</text>
<text x="577.5" y="489.5" font-size="29" text-anchor="start">48</text>
<text x="734.5" y="490" font-size="29" text-anchor="start">51</text>
<text x="897.5" y="491.5" font-size="29" text-anchor="start">54</text>
<text x="1080.2" y="488.2" font-size="29" text-anchor="start">48</text>
<text x="1222.9" y="488.2" font-size="29" text-anchor="start">51</text>
<text x="1371.7" y="488.7" font-size="29" text-anchor="start">54</text>
<text x="71" y="348.6" font-size="30.5" text-anchor="start">G peak redshift</text>
<text x="607" y="345.9" font-size="30.5" text-anchor="start">G peak redshift</text>
<text x="1090" y="335.2" font-size="30.5" text-anchor="start">G peak redshift</text>
<line x1="240" y1="361.5" x2="89.2" y2="361.5" stroke="#56308c" stroke-width="2.6" stroke-dasharray="6,4" stroke-linecap="butt"/>
<polygon points="80.2,361.5 89.2,357.0 89.2,366.0" fill="#56308c"/>
<line x1="776" y1="365.2" x2="623.9" y2="365.2" stroke="#56308c" stroke-width="2.6" stroke-dasharray="6,4" stroke-linecap="butt"/>
<polygon points="614.9,365.2 623.9,360.7 623.9,369.7" fill="#56308c"/>
<line x1="1262" y1="350" x2="1107.2" y2="350.0" stroke="#56308c" stroke-width="2.6" stroke-dasharray="6,4" stroke-linecap="butt"/>
<polygon points="1098.2,350.0 1107.2,345.5 1107.2,354.5" fill="#56308c"/>
<rect x="445.6" y="209.3" width="62.39999999999998" height="315.49999999999994" fill="none" stroke="#56308c" stroke-width="2.8" stroke-dasharray="7.8,3.2"/>
<line x1="445.6" y1="383.5" x2="410.8" y2="383.5" stroke="#56308c" stroke-width="2.8" stroke-dasharray="5.5,3.5" stroke-linecap="butt"/>
<polygon points="403.8,383.5 410.8,379.7 410.8,387.3" fill="#56308c"/>
<rect x="980.5" y="230.2" width="62.5" height="302.40000000000003" fill="none" stroke="#56308c" stroke-width="2.8" stroke-dasharray="7.8,3.2"/>
<line x1="980.5" y1="387.5" x2="945.5" y2="387.5" stroke="#56308c" stroke-width="2.8" stroke-dasharray="5.5,3.5" stroke-linecap="butt"/>
<polygon points="938.5,387.5 945.5,383.7 945.5,391.3" fill="#56308c"/>
<rect x="1480.2" y="216.5" width="63.59999999999991" height="303.6" fill="none" stroke="#56308c" stroke-width="2.8" stroke-dasharray="7.8,3.2"/>
<line x1="1480.2" y1="375.2" x2="1444.3" y2="375.2" stroke="#56308c" stroke-width="2.8" stroke-dasharray="5.5,3.5" stroke-linecap="butt"/>
<polygon points="1437.3,375.2 1444.3,371.4 1444.3,379.0" fill="#56308c"/>
<rect x="203.5" y="512.3" width="32.0" height="31.600000000000023" fill="none" stroke="#ea1a20" stroke-width="2.5" stroke-dasharray="7.7,3.4"/>
<rect x="728" y="506" width="30.5" height="30.799999999999955" fill="none" stroke="#ea1a20" stroke-width="2.5" stroke-dasharray="7.7,3.4"/>
<rect x="1251" y="510.4" width="30.59999999999991" height="30.800000000000068" fill="none" stroke="#ea1a20" stroke-width="2.5" stroke-dasharray="7.7,3.4"/>
<line x1="303" y1="316" x2="272.58978660861845" y2="367.1244167159458" stroke="#56308c" stroke-width="2.4" stroke-dasharray="5,3" stroke-linecap="butt"/>
<polygon points="268.5,374.0 269.2,365.1 276.0,369.2" fill="#56308c"/>
<line x1="259" y1="382.5" x2="237.94594513699568" y2="385.13175685787553" stroke="#56308c" stroke-width="2.4" stroke-dasharray="5,3" stroke-linecap="butt"/>
<polygon points="231.0,386.0 237.4,381.2 238.4,389.1" fill="#56308c"/>
<line x1="222.3" y1="391" x2="222.3" y2="402.0" stroke="#56308c" stroke-width="2.4" stroke-dasharray="4,3" stroke-linecap="butt"/>
<polygon points="222.3,409.0 218.3,402.0 226.3,402.0" fill="#56308c"/>
<circle cx="305.8" cy="311.5" r="4.8" fill="#56308c"/>
<circle cx="264.5" cy="381.5" r="4.8" fill="#56308c"/>
<circle cx="222.3" cy="386.2" r="4.8" fill="#56308c"/>
<circle cx="222.3" cy="414.3" r="4.8" fill="#56308c"/>
<line x1="845" y1="312" x2="845" y2="322" stroke="#56308c" stroke-width="2.6" stroke-linecap="butt"/>
<line x1="845" y1="326" x2="845.0" y2="334.0" stroke="#56308c" stroke-width="2.6" stroke-dasharray="4,3" stroke-linecap="butt"/>
<polygon points="845.0,340.0 841.0,334.0 849.0,334.0" fill="#56308c"/>
<line x1="844" y1="350" x2="842.4806946917842" y2="352.6587842893777" stroke="#56308c" stroke-width="2.6" stroke-dasharray="3,2" stroke-linecap="butt"/>
<polygon points="840.0,357.0 839.0,350.7 846.0,354.6" fill="#56308c"/>
<circle cx="845" cy="312" r="4.8" fill="#56308c"/>
<circle cx="845" cy="322" r="4.8" fill="#56308c"/>
<circle cx="845" cy="345.6" r="4.8" fill="#56308c"/>
<circle cx="836.5" cy="361.6" r="4.8" fill="#56308c"/>
<line x1="1313" y1="315" x2="1309.5143490647704" y2="322.5522436929973" stroke="#56308c" stroke-width="2.4" stroke-dasharray="4,3" stroke-linecap="butt"/>
<polygon points="1307.0,328.0 1305.9,320.9 1313.1,324.2" fill="#56308c"/>
<line x1="1300" y1="336" x2="1287.6747545987992" y2="344.9015661230895" stroke="#56308c" stroke-width="2.4" stroke-dasharray="4,3" stroke-linecap="butt"/>
<polygon points="1282.0,349.0 1285.3,341.7 1290.0,348.1" fill="#56308c"/>
<line x1="1277.6" y1="357" x2="1277.6" y2="382.0" stroke="#56308c" stroke-width="2.4" stroke-dasharray="4,3" stroke-linecap="butt"/>
<polygon points="1277.6,389.0 1273.6,382.0 1281.6,382.0" fill="#56308c"/>
<circle cx="1315.7" cy="310.5" r="4.8" fill="#56308c"/>
<circle cx="1305" cy="333.3" r="4.8" fill="#56308c"/>
<circle cx="1277.6" cy="352.1" r="4.8" fill="#56308c"/>
<circle cx="1277.6" cy="394.2" r="4.8" fill="#56308c"/>
<line x1="75.5" y1="230.5" x2="126.5" y2="230.5" stroke="#4b4b4b" stroke-width="4.8" stroke-linecap="round"/>
<line x1="75.5" y1="270.8" x2="126.5" y2="270.8" stroke="#1f6bd1" stroke-width="4.8" stroke-linecap="round"/>
<line x1="250" y1="229.4" x2="300.5" y2="229.4" stroke="#ec3b44" stroke-width="4.8" stroke-linecap="round"/>
<line x1="250" y1="268.9" x2="300.5" y2="268.9" stroke="#3d9e66" stroke-width="4.8" stroke-linecap="round"/>
<text x="135.5" y="238.3" font-size="30" text-anchor="start" font-style="italic">C</text>
<text x="154.6" y="244.3" font-size="20" text-anchor="start">def</text>
<text x="182.6" y="238.3" font-size="30" text-anchor="start">=0</text>
<text x="135.5" y="275" font-size="30" text-anchor="start" font-style="italic">C</text>
<text x="154.6" y="281" font-size="20" text-anchor="start">def</text>
<text x="182.6" y="275" font-size="30" text-anchor="start">=5%</text>
<text x="306.59999999999997" y="236.2" font-size="30" text-anchor="start" font-style="italic">C</text>
<text x="325.7" y="242.2" font-size="20" text-anchor="start">def</text>
<text x="353.7" y="236.2" font-size="30" text-anchor="start">=2.5%</text>
<text x="307.4" y="275.7" font-size="30" text-anchor="start" font-style="italic">C</text>
<text x="326.5" y="281.7" font-size="20" text-anchor="start">def</text>
<text x="354.5" y="275.7" font-size="30" text-anchor="start">=7.5%</text>
<line x1="597" y1="235.9" x2="645.5" y2="235.9" stroke="#9c0054" stroke-width="4.8" stroke-linecap="round"/>
<line x1="597" y1="272.9" x2="647" y2="272.9" stroke="#1d6bd0" stroke-width="4.8" stroke-linecap="round"/>
<line x1="761" y1="235.9" x2="810.5" y2="235.9" stroke="#a29e18" stroke-width="4.8" stroke-linecap="round"/>
<line x1="762.5" y1="272.9" x2="813.5" y2="272.9" stroke="#34a872" stroke-width="4.8" stroke-linecap="round"/>
<text x="666.2" y="250.2" font-size="31" text-anchor="start" font-style="italic" textLength="19" lengthAdjust="spacingAndGlyphs">&#952;</text>
<text x="691.2" y="250.2" font-size="32" text-anchor="start" textLength="20" lengthAdjust="spacingAndGlyphs">=</text>
<text x="718.7" y="250.2" font-size="30" text-anchor="start">3</text>
<text x="735.2" y="237.2" font-size="19" text-anchor="start" font-style="italic">o</text>
<text x="666.2" y="285" font-size="31" text-anchor="start" font-style="italic" textLength="19" lengthAdjust="spacingAndGlyphs">&#952;</text>
<text x="691.2" y="285" font-size="32" text-anchor="start" textLength="20" lengthAdjust="spacingAndGlyphs">=</text>
<text x="718.7" y="285" font-size="30" text-anchor="start">7</text>
<text x="735.2" y="272" font-size="19" text-anchor="start" font-style="italic">o</text>
<text x="830.2" y="248" font-size="31" text-anchor="start" font-style="italic" textLength="19" lengthAdjust="spacingAndGlyphs">&#952;</text>
<text x="855.2" y="248" font-size="32" text-anchor="start" textLength="20" lengthAdjust="spacingAndGlyphs">=</text>
<text x="882.7" y="248" font-size="30" text-anchor="start">5</text>
<text x="899.2" y="235" font-size="19" text-anchor="start" font-style="italic">o</text>
<text x="830.2" y="285.4" font-size="31" text-anchor="start" font-style="italic" textLength="19" lengthAdjust="spacingAndGlyphs">&#952;</text>
<text x="855.2" y="285.4" font-size="32" text-anchor="start" textLength="20" lengthAdjust="spacingAndGlyphs">=</text>
<text x="882.7" y="285.4" font-size="30" text-anchor="start">10</text>
<text x="914.2" y="272.4" font-size="19" text-anchor="start" font-style="italic">o</text>
<line x1="1101.5" y1="234.1" x2="1154.5" y2="234.1" stroke="#0a0ca5" stroke-width="4.8" stroke-linecap="round"/>
<line x1="1101" y1="273.4" x2="1154" y2="273.4" stroke="#0f7f5c" stroke-width="4.8" stroke-linecap="round"/>
<line x1="1277" y1="234.2" x2="1328" y2="234.2" stroke="#c638f2" stroke-width="4.8" stroke-linecap="round"/>
<line x1="1277" y1="274.9" x2="1328" y2="274.9" stroke="#a8561a" stroke-width="4.8" stroke-linecap="round"/>
<text x="1162.1" y="243.2" font-size="30" text-anchor="start" font-style="italic">r</text>
<text x="1171.1" y="250.5" font-size="16" text-anchor="start">1</text>
<text x="1186.6" y="243.2" font-size="32" text-anchor="start">=</text>
<text x="1210.1" y="243.2" font-size="30" text-anchor="start" textLength="26" lengthAdjust="spacingAndGlyphs">15</text>
<text x="1241.4" y="243.2" font-size="30" text-anchor="start">A</text>
<text x="1249.7" y="218.7" font-size="14" text-anchor="start">&#176;</text>
<text x="1162.1" y="283" font-size="30" text-anchor="start" font-style="italic">r</text>
<text x="1171.1" y="290.3" font-size="16" text-anchor="start">1</text>
<text x="1186.6" y="283" font-size="32" text-anchor="start">=</text>
<text x="1210.1" y="283" font-size="30" text-anchor="start" textLength="30.5" lengthAdjust="spacingAndGlyphs">30</text>
<text x="1243.5" y="283" font-size="30" text-anchor="start">A</text>
<text x="1251.1" y="259.3" font-size="14" text-anchor="start">&#176;</text>
<text x="1340.5" y="243.2" font-size="30" text-anchor="start" font-style="italic">r</text>
<text x="1349.5" y="250.5" font-size="16" text-anchor="start">1</text>
<text x="1365.0" y="243.2" font-size="32" text-anchor="start">=</text>
<text x="1388.5" y="243.2" font-size="30" text-anchor="start" textLength="51" lengthAdjust="spacingAndGlyphs">22.5</text>
<text x="1444.5" y="243.2" font-size="30" text-anchor="start">A</text>
<text x="1453" y="218.7" font-size="14" text-anchor="start">&#176;</text>
<text x="1340.5" y="282.2" font-size="30" text-anchor="start" font-style="italic">r</text>
<text x="1349.5" y="289.5" font-size="16" text-anchor="start">1</text>
<text x="1365.0" y="282.2" font-size="32" text-anchor="start">=</text>
<text x="1388.5" y="282.2" font-size="30" text-anchor="start" textLength="51" lengthAdjust="spacingAndGlyphs">37.5</text>
<text x="1445" y="282.2" font-size="30" text-anchor="start">A</text>
<text x="1452.2" y="258.5" font-size="14" text-anchor="start">&#176;</text>
</svg>
</body></html>
